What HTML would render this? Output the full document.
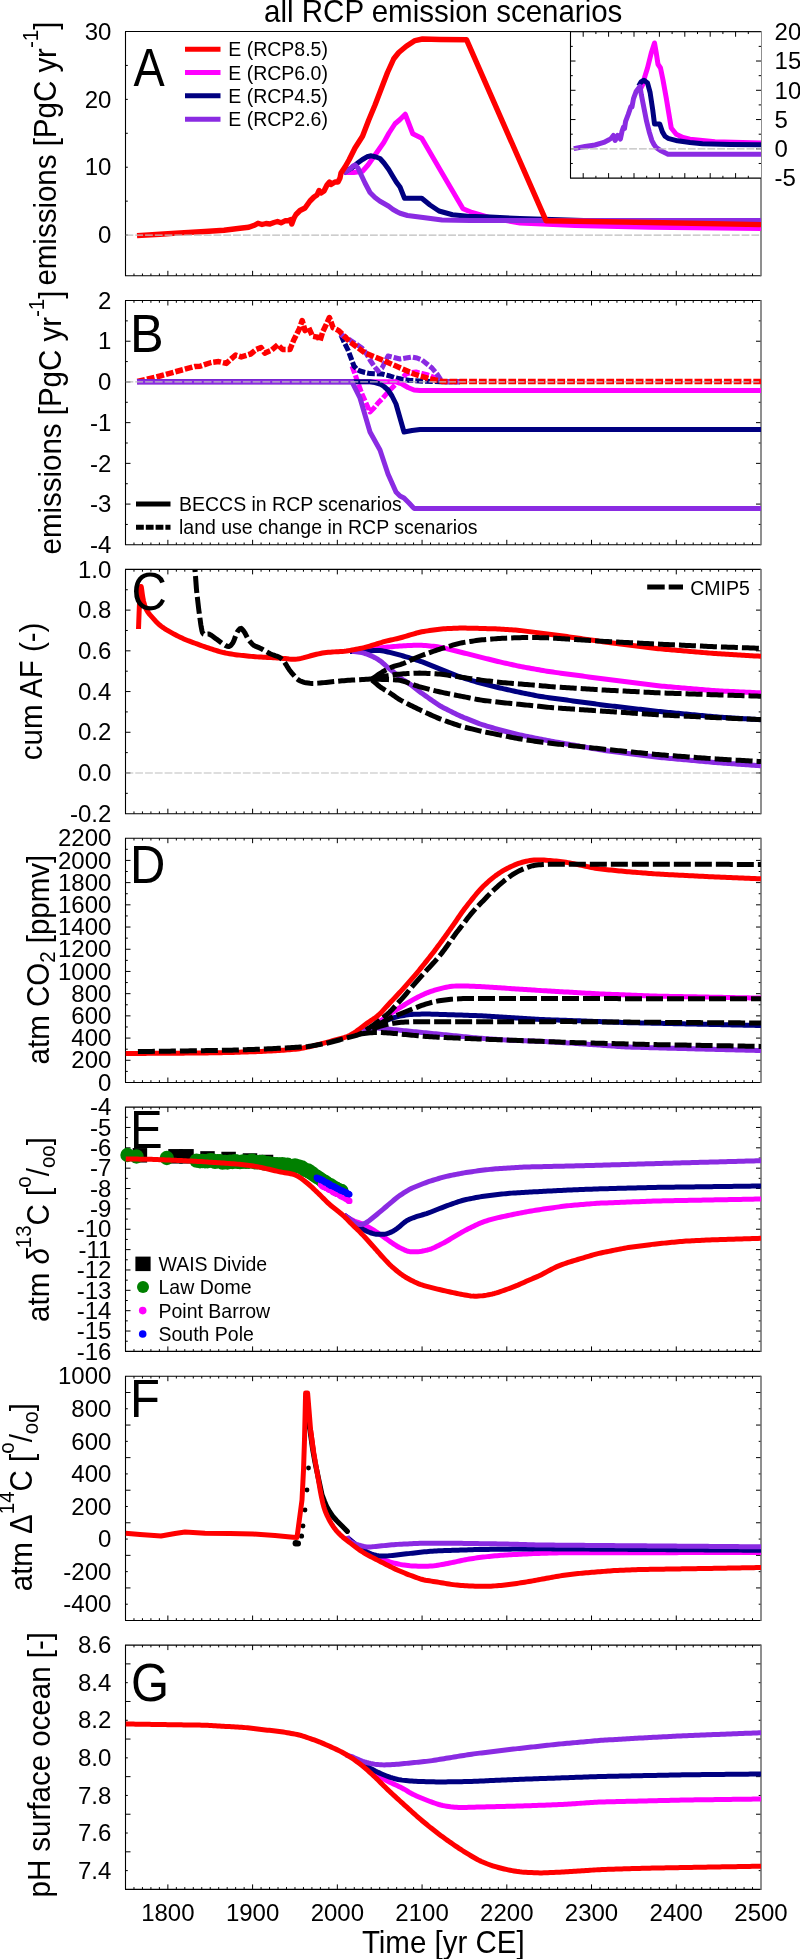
<!DOCTYPE html>
<html><head><meta charset="utf-8"><title>all RCP emission scenarios</title>
<style>html,body{margin:0;padding:0;background:#fff;width:800px;height:1959px;overflow:hidden}svg{display:block;font-family:"Liberation Sans",sans-serif;will-change:transform}</style>
</head><body>
<svg width="800" height="1959" viewBox="0 0 800 1959" font-family='"Liberation Sans", sans-serif'><defs><clipPath id="c0"><rect x="125.50" y="31.50" width="635.50" height="244.30"/></clipPath><clipPath id="c1"><rect x="125.50" y="300.50" width="635.50" height="244.30"/></clipPath><clipPath id="c2"><rect x="125.50" y="569.40" width="635.50" height="244.30"/></clipPath><clipPath id="c3"><rect x="125.50" y="838.20" width="635.50" height="244.30"/></clipPath><clipPath id="c4"><rect x="125.50" y="1107.10" width="635.50" height="244.30"/></clipPath><clipPath id="c5"><rect x="125.50" y="1376.20" width="635.50" height="244.30"/></clipPath><clipPath id="c6"><rect x="125.50" y="1645.10" width="635.50" height="244.30"/></clipPath><clipPath id="ci"><rect x="570.50" y="31.75" width="190.50" height="146.35"/></clipPath></defs><rect width="800" height="1959" fill="#fff"/><text transform="translate(443.25,21.70) scale(1,1.060)" x="0" y="0" font-size="29.5" text-anchor="middle">all RCP emission scenarios</text>
<path d="M133.97,275.80v-2.30M142.45,275.80v-2.30M150.92,275.80v-2.30M159.39,275.80v-2.30M167.87,275.80v-5.00M176.34,275.80v-2.30M184.81,275.80v-2.30M193.29,275.80v-2.30M201.76,275.80v-2.30M210.23,275.80v-2.30M218.71,275.80v-2.30M227.18,275.80v-2.30M235.65,275.80v-2.30M244.13,275.80v-2.30M252.60,275.80v-5.00M261.07,275.80v-2.30M269.55,275.80v-2.30M278.02,275.80v-2.30M286.49,275.80v-2.30M294.97,275.80v-2.30M303.44,275.80v-2.30M311.91,275.80v-2.30M320.39,275.80v-2.30M328.86,275.80v-2.30M337.33,275.80v-5.00M345.81,275.80v-2.30M354.28,275.80v-2.30M362.75,275.80v-2.30M371.23,275.80v-2.30M379.70,275.80v-2.30M388.17,275.80v-2.30M396.65,275.80v-2.30M405.12,275.80v-2.30M413.59,275.80v-2.30M422.07,275.80v-5.00M430.54,275.80v-2.30M439.01,275.80v-2.30M447.49,275.80v-2.30M455.96,275.80v-2.30M464.43,275.80v-2.30M472.91,275.80v-2.30M481.38,275.80v-2.30M489.85,275.80v-2.30M498.33,275.80v-2.30M506.80,275.80v-5.00M515.27,275.80v-2.30M523.75,275.80v-2.30M532.22,275.80v-2.30M540.69,275.80v-2.30M549.17,275.80v-2.30M557.64,275.80v-2.30M566.11,275.80v-2.30M574.59,275.80v-2.30M583.06,275.80v-2.30M591.53,275.80v-5.00M600.01,275.80v-2.30M608.48,275.80v-2.30M616.95,275.80v-2.30M625.43,275.80v-2.30M633.90,275.80v-2.30M642.37,275.80v-2.30M650.85,275.80v-2.30M659.32,275.80v-2.30M667.79,275.80v-2.30M676.27,275.80v-5.00M684.74,275.80v-2.30M693.21,275.80v-2.30M701.69,275.80v-2.30M710.16,275.80v-2.30M718.63,275.80v-2.30M727.11,275.80v-2.30M735.58,275.80v-2.30M744.05,275.80v-2.30M752.53,275.80v-2.30M125.50,65.43h2.30M125.50,99.36h2.30M125.50,133.29h2.30M125.50,167.22h2.30M125.50,201.15h2.30M125.50,235.08h2.30" stroke="#000" stroke-width="1" fill="none"/>

<path d="M125.00,31.50H761.00 M125.50,31.50V275.80 M125.00,275.80H761.00" stroke="#000" stroke-width="1.1" fill="none"/>
<path d="M761.00,31.00V276.30" stroke="#6a6a6a" stroke-width="1.5" fill="none"/>
<text x="111.40" y="39.70" font-size="24" text-anchor="end">30</text>
<text x="111.40" y="107.56" font-size="24" text-anchor="end">20</text>
<text x="111.40" y="175.42" font-size="24" text-anchor="end">10</text>
<text x="111.40" y="243.28" font-size="24" text-anchor="end">0</text>
<polyline points="343.75,172.50 353.75,172.50 362.50,171.25 368.00,165.00 375.00,155.00 383.75,142.50 389.00,133.00 395.00,123.75 400.00,119.50 405.25,114.25 412.75,133.75 421.75,138.25 442.00,173.00 463.00,208.75 472.00,212.50 490.00,217.75 520.00,223.00 575.00,225.60 650.00,227.20 761.00,228.60" fill="none" stroke="#ff00ff" stroke-width="5" stroke-linejoin="round" clip-path="url(#c0)"/>
<polyline points="343.75,173.00 348.00,170.00 352.50,167.50 357.00,163.50 362.50,159.50 367.00,156.80 371.25,155.80 376.00,157.00 380.00,158.50 384.00,163.00 388.75,169.50 392.00,175.00 396.25,182.00 400.00,187.00 404.50,198.25 421.75,198.25 430.00,205.00 439.00,211.00 452.50,214.75 467.50,216.25 490.00,217.00 520.00,218.50 600.00,221.00 761.00,223.00" fill="none" stroke="#000080" stroke-width="5" stroke-linejoin="round" clip-path="url(#c0)"/>
<polyline points="343.75,173.00 347.00,171.00 350.00,169.00 353.00,166.00 355.00,165.00 358.00,168.00 361.25,175.00 365.00,183.00 370.00,192.50 375.00,197.50 380.00,201.25 384.00,203.50 388.75,206.25 393.00,209.50 397.50,212.00 400.00,213.25 407.50,215.50 425.00,217.80 442.00,220.00 470.00,220.40 761.00,220.40" fill="none" stroke="#8a2be2" stroke-width="5" stroke-linejoin="round" clip-path="url(#c0)"/>
<polyline points="137.00,235.60 160.00,234.20 180.00,232.90 205.00,231.50 224.00,230.30 240.00,228.30 248.80,227.30 255.00,225.00 258.00,223.25 262.00,224.50 266.00,223.50 270.00,224.00 274.00,222.50 277.50,221.50 281.00,222.80 285.00,220.80 288.00,220.80 291.00,219.50 291.75,224.00 294.00,218.00 296.00,214.50 300.00,210.50 305.00,208.00 310.00,201.00 314.00,197.00 317.00,195.00 319.00,190.50 321.00,193.00 324.00,191.00 327.00,185.00 329.50,182.00 331.00,184.50 335.00,182.00 338.00,182.00 340.00,178.00 341.00,173.00 345.00,167.00 349.00,160.00 355.00,148.00 362.50,136.25 368.75,120.00 375.00,105.00 381.25,88.75 387.50,72.50 393.75,58.75 398.75,52.50 406.25,46.25 415.00,40.60 422.50,39.00 440.00,39.50 466.60,39.80 546.00,220.70 650.00,222.50 761.00,224.60" fill="none" stroke="#ff0000" stroke-width="5.4" stroke-linejoin="round" clip-path="url(#c0)"/>
<path d="M125.50,235.08H761.00" stroke="#bdbdbd" stroke-width="1.2" stroke-dasharray="7.78,2" stroke-dashoffset="0" clip-path="url(#c0)"/>
<text transform="translate(133.60,85.75) scale(0.955,1.085)" x="0" y="0" font-size="49">A</text>
<path d="M185,49.20H220.5" stroke="#ff0000" stroke-width="5"/>
<text transform="translate(228.30,56.40) scale(1,1.060)" x="0" y="0" font-size="19.5" text-anchor="start">E (RCP8.5)</text>
<path d="M185,72.53H220.5" stroke="#ff00ff" stroke-width="5"/>
<text transform="translate(228.30,79.73) scale(1,1.060)" x="0" y="0" font-size="19.5" text-anchor="start">E (RCP6.0)</text>
<path d="M185,95.86H220.5" stroke="#000080" stroke-width="5"/>
<text transform="translate(228.30,103.06) scale(1,1.060)" x="0" y="0" font-size="19.5" text-anchor="start">E (RCP4.5)</text>
<path d="M185,119.19H220.5" stroke="#8a2be2" stroke-width="5"/>
<text transform="translate(228.30,126.39) scale(1,1.060)" x="0" y="0" font-size="19.5" text-anchor="start">E (RCP2.6)</text>
<rect x="570.50" y="31.75" width="190.50" height="146.35" fill="#fff"/>
<path d="M583.20,178.10v-5.00M583.20,31.75v5.00M595.90,178.10v-2.30M595.90,31.75v2.30M608.60,178.10v-5.00M608.60,31.75v5.00M621.30,178.10v-2.30M621.30,31.75v2.30M634.00,178.10v-5.00M634.00,31.75v5.00M646.70,178.10v-2.30M646.70,31.75v2.30M659.40,178.10v-5.00M659.40,31.75v5.00M672.10,178.10v-2.30M672.10,31.75v2.30M684.80,178.10v-5.00M684.80,31.75v5.00M697.50,178.10v-2.30M697.50,31.75v2.30M710.20,178.10v-5.00M710.20,31.75v5.00M722.90,178.10v-2.30M722.90,31.75v2.30M735.60,178.10v-5.00M735.60,31.75v5.00M748.30,178.10v-2.30M748.30,31.75v2.30M570.50,46.38h2.30M761.00,46.38h-2.30M570.50,61.02h5.00M761.00,61.02h-5.00M570.50,75.66h2.30M761.00,75.66h-2.30M570.50,90.29h5.00M761.00,90.29h-5.00M570.50,104.92h2.30M761.00,104.92h-2.30M570.50,119.56h5.00M761.00,119.56h-5.00M570.50,134.19h2.30M761.00,134.19h-2.30M570.50,148.83h5.00M761.00,148.83h-5.00M570.50,163.47h2.30M761.00,163.47h-2.30" stroke="#000" stroke-width="1" fill="none"/>
<polyline points="640.00,90.00 642.50,85.00 645.00,76.00 647.50,68.00 651.25,53.00 654.50,43.00 656.25,53.00 658.00,64.25 660.50,68.00 663.00,80.00 666.25,98.00 671.25,128.00 676.25,134.25 683.00,137.50 690.00,139.25 715.00,141.75 761.00,143.00" fill="none" stroke="#ff00ff" stroke-width="5" stroke-linejoin="round" clip-path="url(#ci)"/>
<polyline points="638.75,86.00 641.00,82.00 644.00,80.25 647.50,82.90 650.10,92.50 652.75,110.00 654.50,124.00 659.75,124.00 662.40,131.90 665.00,136.25 668.00,138.30 677.50,140.80 690.00,142.50 702.50,143.75 730.00,144.50 761.00,144.75" fill="none" stroke="#000080" stroke-width="5" stroke-linejoin="round" clip-path="url(#ci)"/>
<polyline points="573.75,148.60 585.00,146.50 595.00,145.00 603.75,142.40 609.00,139.75 611.00,138.50 613.40,135.50 615.10,140.50 617.75,135.40 619.00,137.00 620.40,139.00 622.10,131.00 623.50,127.00 624.50,128.50 625.60,121.40 628.25,114.40 630.90,106.50 632.00,106.80 633.50,98.60 636.10,91.60 638.75,88.10 640.00,86.40 641.40,95.10 644.00,108.25 646.60,121.40 649.25,131.90 651.90,140.60 654.00,144.50 656.25,147.60 661.50,151.10 665.00,152.80 668.00,154.20 761.00,154.20" fill="none" stroke="#8a2be2" stroke-width="5" stroke-linejoin="round" clip-path="url(#ci)"/>
<path d="M570.50,148.83H761.00" stroke="#bdbdbd" stroke-width="1.2" stroke-dasharray="7.78,2" stroke-dashoffset="0" clip-path="url(#ci)"/>
<path d="M570.00,31.75H761.00 M570.50,31.75V178.10 M570.00,178.10H761.00" stroke="#000" stroke-width="1.1" fill="none"/>
<text x="774.60" y="40.05" font-size="24" text-anchor="start">20</text>
<text x="774.60" y="69.32" font-size="24" text-anchor="start">15</text>
<text x="774.60" y="98.59" font-size="24" text-anchor="start">10</text>
<text x="774.60" y="127.86" font-size="24" text-anchor="start">5</text>
<text x="774.60" y="157.13" font-size="24" text-anchor="start">0</text>
<text x="774.60" y="186.40" font-size="24" text-anchor="start">-5</text>
<text transform="translate(55.50,153.60) rotate(-90) scale(1,1.06)" x="0" y="0" font-size="29.5" text-anchor="middle">emissions [PgC yr<tspan dy="-16.3" font-size="20.5">-1</tspan><tspan dy="16.3">]</tspan></text>
<path d="M133.97,544.80v-2.30M133.97,300.50v2.30M142.45,544.80v-2.30M142.45,300.50v2.30M150.92,544.80v-2.30M150.92,300.50v2.30M159.39,544.80v-2.30M159.39,300.50v2.30M167.87,544.80v-5.00M167.87,300.50v5.00M176.34,544.80v-2.30M176.34,300.50v2.30M184.81,544.80v-2.30M184.81,300.50v2.30M193.29,544.80v-2.30M193.29,300.50v2.30M201.76,544.80v-2.30M201.76,300.50v2.30M210.23,544.80v-2.30M210.23,300.50v2.30M218.71,544.80v-2.30M218.71,300.50v2.30M227.18,544.80v-2.30M227.18,300.50v2.30M235.65,544.80v-2.30M235.65,300.50v2.30M244.13,544.80v-2.30M244.13,300.50v2.30M252.60,544.80v-5.00M252.60,300.50v5.00M261.07,544.80v-2.30M261.07,300.50v2.30M269.55,544.80v-2.30M269.55,300.50v2.30M278.02,544.80v-2.30M278.02,300.50v2.30M286.49,544.80v-2.30M286.49,300.50v2.30M294.97,544.80v-2.30M294.97,300.50v2.30M303.44,544.80v-2.30M303.44,300.50v2.30M311.91,544.80v-2.30M311.91,300.50v2.30M320.39,544.80v-2.30M320.39,300.50v2.30M328.86,544.80v-2.30M328.86,300.50v2.30M337.33,544.80v-5.00M337.33,300.50v5.00M345.81,544.80v-2.30M345.81,300.50v2.30M354.28,544.80v-2.30M354.28,300.50v2.30M362.75,544.80v-2.30M362.75,300.50v2.30M371.23,544.80v-2.30M371.23,300.50v2.30M379.70,544.80v-2.30M379.70,300.50v2.30M388.17,544.80v-2.30M388.17,300.50v2.30M396.65,544.80v-2.30M396.65,300.50v2.30M405.12,544.80v-2.30M405.12,300.50v2.30M413.59,544.80v-2.30M413.59,300.50v2.30M422.07,544.80v-5.00M422.07,300.50v5.00M430.54,544.80v-2.30M430.54,300.50v2.30M439.01,544.80v-2.30M439.01,300.50v2.30M447.49,544.80v-2.30M447.49,300.50v2.30M455.96,544.80v-2.30M455.96,300.50v2.30M464.43,544.80v-2.30M464.43,300.50v2.30M472.91,544.80v-2.30M472.91,300.50v2.30M481.38,544.80v-2.30M481.38,300.50v2.30M489.85,544.80v-2.30M489.85,300.50v2.30M498.33,544.80v-2.30M498.33,300.50v2.30M506.80,544.80v-5.00M506.80,300.50v5.00M515.27,544.80v-2.30M515.27,300.50v2.30M523.75,544.80v-2.30M523.75,300.50v2.30M532.22,544.80v-2.30M532.22,300.50v2.30M540.69,544.80v-2.30M540.69,300.50v2.30M549.17,544.80v-2.30M549.17,300.50v2.30M557.64,544.80v-2.30M557.64,300.50v2.30M566.11,544.80v-2.30M566.11,300.50v2.30M574.59,544.80v-2.30M574.59,300.50v2.30M583.06,544.80v-2.30M583.06,300.50v2.30M591.53,544.80v-5.00M591.53,300.50v5.00M600.01,544.80v-2.30M600.01,300.50v2.30M608.48,544.80v-2.30M608.48,300.50v2.30M616.95,544.80v-2.30M616.95,300.50v2.30M625.43,544.80v-2.30M625.43,300.50v2.30M633.90,544.80v-2.30M633.90,300.50v2.30M642.37,544.80v-2.30M642.37,300.50v2.30M650.85,544.80v-2.30M650.85,300.50v2.30M659.32,544.80v-2.30M659.32,300.50v2.30M667.79,544.80v-2.30M667.79,300.50v2.30M676.27,544.80v-5.00M676.27,300.50v5.00M684.74,544.80v-2.30M684.74,300.50v2.30M693.21,544.80v-2.30M693.21,300.50v2.30M701.69,544.80v-2.30M701.69,300.50v2.30M710.16,544.80v-2.30M710.16,300.50v2.30M718.63,544.80v-2.30M718.63,300.50v2.30M727.11,544.80v-2.30M727.11,300.50v2.30M735.58,544.80v-2.30M735.58,300.50v2.30M744.05,544.80v-2.30M744.05,300.50v2.30M752.53,544.80v-2.30M752.53,300.50v2.30M125.50,320.86h2.30M761.00,320.86h-2.30M125.50,341.22h5.00M761.00,341.22h-5.00M125.50,361.57h2.30M761.00,361.57h-2.30M125.50,381.93h5.00M761.00,381.93h-5.00M125.50,402.29h2.30M761.00,402.29h-2.30M125.50,422.65h5.00M761.00,422.65h-5.00M125.50,443.01h2.30M761.00,443.01h-2.30M125.50,463.37h5.00M761.00,463.37h-5.00M125.50,483.73h2.30M761.00,483.73h-2.30M125.50,504.08h5.00M761.00,504.08h-5.00M125.50,524.44h2.30M761.00,524.44h-2.30" stroke="#000" stroke-width="1" fill="none"/>

<path d="M125.00,300.50H761.00 M125.50,300.50V544.80 M125.00,544.80H761.00" stroke="#000" stroke-width="1.1" fill="none"/>
<path d="M761.00,300.00V545.30" stroke="#6a6a6a" stroke-width="1.5" fill="none"/>
<text x="111.40" y="308.70" font-size="24" text-anchor="end">2</text>
<text x="111.40" y="349.42" font-size="24" text-anchor="end">1</text>
<text x="111.40" y="390.13" font-size="24" text-anchor="end">0</text>
<text x="111.40" y="430.85" font-size="24" text-anchor="end">-1</text>
<text x="111.40" y="471.57" font-size="24" text-anchor="end">-2</text>
<text x="111.40" y="512.28" font-size="24" text-anchor="end">-3</text>
<text x="111.40" y="553.00" font-size="24" text-anchor="end">-4</text>
<polyline points="352.00,366.00 355.00,374.00 358.00,383.00 362.00,394.00 366.00,403.00 370.00,412.00 374.00,408.00 378.00,403.00 383.00,398.00 388.00,392.00 393.00,387.00 398.00,382.00 402.00,378.00 406.00,374.00 411.00,372.50 416.00,372.00 422.00,373.50 428.00,375.00 433.00,377.00 438.00,380.00 442.00,381.80 460.00,381.80" fill="none" stroke="#ff00ff" stroke-width="5" stroke-linejoin="round" stroke-dasharray="7.8,2" clip-path="url(#c1)"/>
<polyline points="341.00,335.00 344.00,342.00 348.00,350.00 351.00,358.00 354.00,366.00 357.00,369.50 360.00,371.00 365.00,372.50 370.00,373.60 382.00,374.00 390.00,376.00 396.00,378.00 403.00,379.50 410.00,380.40 424.00,381.20 440.00,381.80 460.00,381.80" fill="none" stroke="#000080" stroke-width="5" stroke-linejoin="round" stroke-dasharray="7.8,2" clip-path="url(#c1)"/>
<polyline points="340.00,334.00 345.00,337.00 350.00,340.00 356.00,344.00 362.00,348.00 366.00,353.00 370.00,360.00 374.00,366.00 378.00,371.00 382.00,368.00 385.00,362.00 388.00,356.00 394.00,357.50 400.00,359.00 406.00,358.00 412.00,357.00 417.00,358.00 422.00,360.00 427.00,364.00 432.00,368.00 437.00,374.00 441.00,380.00 444.00,381.80 460.00,381.80" fill="none" stroke="#8a2be2" stroke-width="5" stroke-linejoin="round" stroke-dasharray="7.8,2" clip-path="url(#c1)"/>
<polyline points="137.40,381.50 160.00,376.00 180.00,370.50 195.00,366.50 200.00,366.25 211.25,362.50 218.75,361.60 226.25,363.40 235.60,355.00 241.25,356.90 250.60,354.00 256.25,349.40 261.00,347.50 264.70,353.10 271.25,350.30 277.80,344.70 282.50,349.40 290.00,349.40 293.75,340.00 299.40,328.75 302.20,320.50 305.00,330.60 308.75,327.80 312.50,336.25 318.10,337.20 320.00,341.00 322.80,331.60 326.00,325.00 329.40,317.50 333.10,327.80 338.75,330.60 344.40,336.25 350.00,341.90 365.00,353.00 380.00,359.00 396.00,366.00 414.00,374.00 430.00,379.00 442.00,381.40 761.00,381.60" fill="none" stroke="#ff0000" stroke-width="5.5" stroke-linejoin="round" stroke-dasharray="7.8,2" clip-path="url(#c1)"/>
<polyline points="137.00,381.80 396.00,381.80 402.00,384.00 408.00,387.50 414.00,390.00 420.00,390.60 761.00,390.60" fill="none" stroke="#ff00ff" stroke-width="5" stroke-linejoin="round" clip-path="url(#c1)"/>
<polyline points="137.00,381.80 370.00,381.80 375.00,382.50 380.00,384.00 384.00,386.50 388.00,390.00 392.00,396.00 396.00,404.00 400.00,418.00 404.00,432.00 412.00,430.50 420.00,429.60 761.00,429.60" fill="none" stroke="#000080" stroke-width="5" stroke-linejoin="round" clip-path="url(#c1)"/>
<polyline points="137.00,381.80 352.00,381.80 356.00,390.00 360.00,398.00 365.00,415.00 370.00,432.00 375.00,441.00 380.00,450.00 384.00,462.00 388.00,474.00 392.00,483.00 396.00,492.00 400.00,496.00 404.00,498.00 409.00,503.00 414.00,508.40 761.00,508.40" fill="none" stroke="#8a2be2" stroke-width="5" stroke-linejoin="round" clip-path="url(#c1)"/>
<path d="M125.50,381.93H761.00" stroke="#bdbdbd" stroke-width="1.2" stroke-dasharray="7.78,2" stroke-dashoffset="0" clip-path="url(#c1)"/>
<text transform="translate(130.00,351.60) scale(1.030,1.085)" x="0" y="0" font-size="49">B</text>
<path d="M136,503.9H170.5" stroke="#000" stroke-width="5"/>
<path d="M136,527.3H170.5" stroke="#000" stroke-width="5" stroke-dasharray="7.8,2"/>
<text transform="translate(179.00,510.50) scale(1,1.060)" x="0" y="0" font-size="19.5" text-anchor="start">BECCS in RCP scenarios</text>
<text transform="translate(179.00,533.90) scale(1,1.060)" x="0" y="0" font-size="19.5" text-anchor="start">land use change in RCP scenarios</text>
<text transform="translate(60.90,422.50) rotate(-90) scale(1,1.06)" x="0" y="0" font-size="29.5" text-anchor="middle">emissions [PgC yr<tspan dy="-16.3" font-size="20.5">-1</tspan><tspan dy="16.3">]</tspan></text>
<path d="M133.97,813.70v-2.30M133.97,569.40v2.30M142.45,813.70v-2.30M142.45,569.40v2.30M150.92,813.70v-2.30M150.92,569.40v2.30M159.39,813.70v-2.30M159.39,569.40v2.30M167.87,813.70v-5.00M167.87,569.40v5.00M176.34,813.70v-2.30M176.34,569.40v2.30M184.81,813.70v-2.30M184.81,569.40v2.30M193.29,813.70v-2.30M193.29,569.40v2.30M201.76,813.70v-2.30M201.76,569.40v2.30M210.23,813.70v-2.30M210.23,569.40v2.30M218.71,813.70v-2.30M218.71,569.40v2.30M227.18,813.70v-2.30M227.18,569.40v2.30M235.65,813.70v-2.30M235.65,569.40v2.30M244.13,813.70v-2.30M244.13,569.40v2.30M252.60,813.70v-5.00M252.60,569.40v5.00M261.07,813.70v-2.30M261.07,569.40v2.30M269.55,813.70v-2.30M269.55,569.40v2.30M278.02,813.70v-2.30M278.02,569.40v2.30M286.49,813.70v-2.30M286.49,569.40v2.30M294.97,813.70v-2.30M294.97,569.40v2.30M303.44,813.70v-2.30M303.44,569.40v2.30M311.91,813.70v-2.30M311.91,569.40v2.30M320.39,813.70v-2.30M320.39,569.40v2.30M328.86,813.70v-2.30M328.86,569.40v2.30M337.33,813.70v-5.00M337.33,569.40v5.00M345.81,813.70v-2.30M345.81,569.40v2.30M354.28,813.70v-2.30M354.28,569.40v2.30M362.75,813.70v-2.30M362.75,569.40v2.30M371.23,813.70v-2.30M371.23,569.40v2.30M379.70,813.70v-2.30M379.70,569.40v2.30M388.17,813.70v-2.30M388.17,569.40v2.30M396.65,813.70v-2.30M396.65,569.40v2.30M405.12,813.70v-2.30M405.12,569.40v2.30M413.59,813.70v-2.30M413.59,569.40v2.30M422.07,813.70v-5.00M422.07,569.40v5.00M430.54,813.70v-2.30M430.54,569.40v2.30M439.01,813.70v-2.30M439.01,569.40v2.30M447.49,813.70v-2.30M447.49,569.40v2.30M455.96,813.70v-2.30M455.96,569.40v2.30M464.43,813.70v-2.30M464.43,569.40v2.30M472.91,813.70v-2.30M472.91,569.40v2.30M481.38,813.70v-2.30M481.38,569.40v2.30M489.85,813.70v-2.30M489.85,569.40v2.30M498.33,813.70v-2.30M498.33,569.40v2.30M506.80,813.70v-5.00M506.80,569.40v5.00M515.27,813.70v-2.30M515.27,569.40v2.30M523.75,813.70v-2.30M523.75,569.40v2.30M532.22,813.70v-2.30M532.22,569.40v2.30M540.69,813.70v-2.30M540.69,569.40v2.30M549.17,813.70v-2.30M549.17,569.40v2.30M557.64,813.70v-2.30M557.64,569.40v2.30M566.11,813.70v-2.30M566.11,569.40v2.30M574.59,813.70v-2.30M574.59,569.40v2.30M583.06,813.70v-2.30M583.06,569.40v2.30M591.53,813.70v-5.00M591.53,569.40v5.00M600.01,813.70v-2.30M600.01,569.40v2.30M608.48,813.70v-2.30M608.48,569.40v2.30M616.95,813.70v-2.30M616.95,569.40v2.30M625.43,813.70v-2.30M625.43,569.40v2.30M633.90,813.70v-2.30M633.90,569.40v2.30M642.37,813.70v-2.30M642.37,569.40v2.30M650.85,813.70v-2.30M650.85,569.40v2.30M659.32,813.70v-2.30M659.32,569.40v2.30M667.79,813.70v-2.30M667.79,569.40v2.30M676.27,813.70v-5.00M676.27,569.40v5.00M684.74,813.70v-2.30M684.74,569.40v2.30M693.21,813.70v-2.30M693.21,569.40v2.30M701.69,813.70v-2.30M701.69,569.40v2.30M710.16,813.70v-2.30M710.16,569.40v2.30M718.63,813.70v-2.30M718.63,569.40v2.30M727.11,813.70v-2.30M727.11,569.40v2.30M735.58,813.70v-2.30M735.58,569.40v2.30M744.05,813.70v-2.30M744.05,569.40v2.30M752.53,813.70v-2.30M752.53,569.40v2.30M125.50,589.76h2.30M761.00,589.76h-2.30M125.50,610.12h5.00M761.00,610.12h-5.00M125.50,630.48h2.30M761.00,630.48h-2.30M125.50,650.83h5.00M761.00,650.83h-5.00M125.50,671.19h2.30M761.00,671.19h-2.30M125.50,691.55h5.00M761.00,691.55h-5.00M125.50,711.91h2.30M761.00,711.91h-2.30M125.50,732.27h5.00M761.00,732.27h-5.00M125.50,752.62h2.30M761.00,752.62h-2.30M125.50,772.98h5.00M761.00,772.98h-5.00M125.50,793.34h2.30M761.00,793.34h-2.30" stroke="#000" stroke-width="1" fill="none"/>

<path d="M125.00,569.40H761.00 M125.50,569.40V813.70 M125.00,813.70H761.00" stroke="#000" stroke-width="1.1" fill="none"/>
<path d="M761.00,568.90V814.20" stroke="#6a6a6a" stroke-width="1.5" fill="none"/>
<text x="111.40" y="577.60" font-size="24" text-anchor="end">1.0</text>
<text x="111.40" y="618.32" font-size="24" text-anchor="end">0.8</text>
<text x="111.40" y="659.03" font-size="24" text-anchor="end">0.6</text>
<text x="111.40" y="699.75" font-size="24" text-anchor="end">0.4</text>
<text x="111.40" y="740.47" font-size="24" text-anchor="end">0.2</text>
<text x="111.40" y="781.18" font-size="24" text-anchor="end">0.0</text>
<text x="111.40" y="821.90" font-size="24" text-anchor="end">-0.2</text>
<polyline points="350.00,651.50 352.00,651.44 354.00,651.38 356.00,651.31 358.00,651.22 360.00,651.09 361.99,650.92 363.98,650.71 365.97,650.47 367.95,650.21 369.93,649.92 371.91,649.58 373.87,649.22 375.84,648.83 377.80,648.45 379.77,648.08 381.74,647.75 383.72,647.47 385.71,647.25 387.70,647.06 389.70,646.88 391.69,646.71 393.69,646.54 395.68,646.37 397.68,646.21 399.67,646.06 401.67,645.94 403.67,645.82 405.67,645.72 407.67,645.62 409.67,645.52 411.67,645.42 413.67,645.32 415.67,645.23 417.67,645.17 419.66,645.17 421.66,645.25 423.65,645.39 425.65,645.57 427.64,645.76 429.63,645.96 431.62,646.16 433.62,646.36 435.61,646.57 437.59,646.81 439.57,647.10 441.53,647.47 443.48,647.90 445.43,648.36 447.37,648.84 449.32,649.33 451.26,649.81 453.20,650.30 455.14,650.79 457.09,651.27 459.03,651.76 460.97,652.24 462.91,652.73 464.86,653.21 466.80,653.70 468.74,654.19 470.68,654.67 472.63,655.16 474.57,655.64 476.51,656.13 478.45,656.61 480.40,657.10 482.34,657.58 484.28,658.07 486.23,658.56 488.17,659.04 490.11,659.53 492.05,660.01 494.00,660.50 495.94,660.98 497.88,661.46 499.83,661.93 501.78,662.38 503.73,662.82 505.69,663.25 507.64,663.68 509.60,664.11 511.55,664.54 513.51,664.97 515.47,665.40 517.42,665.82 519.38,666.23 521.35,666.62 523.32,666.99 525.28,667.35 527.26,667.71 529.23,668.06 531.20,668.42 533.17,668.77 535.14,669.12 537.11,669.48 539.08,669.83 541.05,670.17 543.03,670.51 545.00,670.85 546.97,671.18 548.95,671.50 550.93,671.80 552.91,672.08 554.90,672.36 556.88,672.63 558.86,672.89 560.85,673.16 562.83,673.43 564.82,673.69 566.80,673.96 568.79,674.23 570.77,674.49 572.76,674.76 574.74,675.03 576.72,675.30 578.71,675.56 580.69,675.83 582.68,676.10 584.66,676.36 586.65,676.63 588.63,676.90 590.62,677.16 592.60,677.43 594.58,677.70 596.57,677.97 598.55,678.23 600.54,678.50 602.52,678.76 604.51,679.03 606.49,679.28 608.48,679.53 610.47,679.79 612.45,680.03 614.44,680.28 616.43,680.53 618.41,680.78 620.40,681.03 622.39,681.28 624.37,681.53 626.36,681.78 628.35,682.03 630.33,682.28 632.32,682.53 634.31,682.78 636.29,683.03 638.28,683.28 640.27,683.52 642.25,683.77 644.24,684.02 646.23,684.27 648.21,684.52 650.20,684.77 652.19,685.02 654.17,685.27 656.16,685.51 658.15,685.75 660.14,685.97 662.13,686.17 664.13,686.35 666.12,686.52 668.12,686.69 670.11,686.86 672.11,687.03 674.10,687.20 676.10,687.38 678.09,687.55 680.09,687.72 682.08,687.89 684.08,688.06 686.07,688.23 688.07,688.40 690.06,688.57 692.06,688.74 694.05,688.91 696.05,689.08 698.04,689.25 700.04,689.42 702.03,689.59 704.03,689.76 706.02,689.93 708.02,690.10 710.01,690.27 712.01,690.44 714.00,690.59 716.00,690.72 718.00,690.83 720.00,690.94 722.00,691.03 724.00,691.13 726.00,691.23 728.00,691.32 730.00,691.42 732.00,691.51 734.00,691.61 736.00,691.70 738.00,691.80 740.00,691.90 742.00,691.99 744.00,692.09 746.00,692.18 748.00,692.28 750.00,692.37 752.00,692.47 754.00,692.57 756.00,692.66 758.00,692.76 760.00,692.85 761.00,692.90" fill="none" stroke="#ff00ff" stroke-width="5" stroke-linejoin="round" clip-path="url(#c2)"/>
<polyline points="350.00,651.50 352.00,651.50 354.00,651.50 356.00,651.49 358.00,651.48 360.01,651.44 362.01,651.38 364.00,651.29 366.00,651.19 368.00,651.06 369.99,650.90 371.98,650.71 373.97,650.51 375.95,650.38 377.93,650.38 379.90,650.53 381.87,650.81 383.84,651.15 385.80,651.54 387.75,651.97 389.70,652.44 391.64,652.91 393.59,653.40 395.53,653.89 397.47,654.38 399.40,654.89 401.33,655.43 403.25,655.98 405.17,656.55 407.09,657.13 409.00,657.70 410.92,658.28 412.84,658.85 414.75,659.43 416.67,660.02 418.57,660.63 420.46,661.28 422.34,661.97 424.20,662.69 426.06,663.43 427.92,664.17 429.78,664.91 431.64,665.66 433.50,666.40 435.35,667.14 437.21,667.89 439.07,668.63 440.93,669.37 442.79,670.11 444.65,670.86 446.50,671.60 448.36,672.34 450.22,673.09 452.08,673.83 453.94,674.57 455.80,675.31 457.66,676.03 459.54,676.72 461.43,677.37 463.34,677.98 465.25,678.57 467.16,679.15 469.08,679.72 471.00,680.30 472.91,680.87 474.83,681.45 476.75,682.02 478.67,682.57 480.60,683.11 482.54,683.62 484.47,684.11 486.41,684.60 488.36,685.09 490.30,685.57 492.24,686.06 494.18,686.54 496.12,687.03 498.07,687.50 500.01,687.97 501.96,688.42 503.92,688.86 505.87,689.29 507.82,689.72 509.78,690.15 511.73,690.58 513.69,691.01 515.64,691.44 517.60,691.86 519.56,692.28 521.51,692.69 523.48,693.09 525.44,693.49 527.40,693.88 529.36,694.27 531.32,694.66 533.29,695.06 535.25,695.45 537.21,695.83 539.18,696.19 541.16,696.52 543.13,696.83 545.11,697.11 547.09,697.39 549.08,697.67 551.06,697.94 553.04,698.21 555.03,698.48 557.01,698.75 558.99,699.02 560.98,699.29 562.96,699.56 564.94,699.82 566.92,700.09 568.91,700.36 570.89,700.63 572.87,700.90 574.86,701.17 576.84,701.44 578.82,701.70 580.81,701.97 582.79,702.24 584.77,702.51 586.76,702.78 588.74,703.05 590.72,703.32 592.71,703.58 594.69,703.85 596.67,704.12 598.66,704.39 600.64,704.66 602.62,704.92 604.61,705.18 606.59,705.42 608.58,705.66 610.57,705.89 612.56,706.12 614.55,706.35 616.53,706.58 618.52,706.81 620.51,707.04 622.50,707.27 624.49,707.50 626.47,707.73 628.46,707.96 630.45,708.19 632.44,708.42 634.43,708.65 636.42,708.88 638.40,709.11 640.39,709.34 642.38,709.57 644.37,709.80 646.36,710.02 648.34,710.25 650.33,710.48 652.32,710.71 654.31,710.94 656.30,711.17 658.29,711.39 660.28,711.60 662.27,711.81 664.26,712.00 666.25,712.19 668.24,712.38 670.24,712.57 672.23,712.76 674.22,712.94 676.21,713.13 678.21,713.32 680.20,713.51 682.19,713.70 684.18,713.89 686.18,714.07 688.17,714.26 690.16,714.45 692.15,714.64 694.15,714.83 696.14,715.02 698.13,715.21 700.12,715.39 702.12,715.58 704.11,715.77 706.10,715.96 708.09,716.15 710.09,716.33 712.08,716.52 714.07,716.69 716.07,716.85 718.06,716.99 720.06,717.13 722.06,717.26 724.05,717.39 726.05,717.52 728.05,717.65 730.04,717.78 732.04,717.91 734.04,718.04 736.04,718.17 738.03,718.30 740.03,718.43 742.03,718.56 744.02,718.69 746.02,718.82 748.02,718.95 750.02,719.08 752.01,719.21 754.01,719.34 756.01,719.47 758.00,719.60 760.00,719.73 761.00,719.80" fill="none" stroke="#000080" stroke-width="5" stroke-linejoin="round" clip-path="url(#c2)"/>
<polyline points="352.00,651.50 354.00,651.63 356.00,651.78 357.99,651.97 359.96,652.25 361.91,652.65 363.84,653.15 365.75,653.74 367.64,654.41 369.50,655.14 371.34,655.93 373.15,656.77 374.93,657.68 376.67,658.66 378.37,659.72 380.03,660.83 381.62,662.03 383.15,663.31 384.63,664.65 386.10,666.01 387.59,667.34 389.13,668.61 390.71,669.84 392.30,671.05 393.87,672.29 395.40,673.58 396.89,674.92 398.37,676.26 399.89,677.54 401.48,678.73 403.14,679.84 404.84,680.90 406.55,681.95 408.24,683.01 409.90,684.13 411.53,685.30 413.12,686.51 414.69,687.75 416.26,689.00 417.83,690.24 419.42,691.47 421.02,692.66 422.65,693.84 424.28,695.00 425.92,696.15 427.57,697.30 429.21,698.45 430.85,699.60 432.49,700.75 434.14,701.89 435.78,703.04 437.44,704.17 439.11,705.25 440.83,706.28 442.58,707.25 444.36,708.17 446.15,709.07 447.94,709.97 449.73,710.87 451.53,711.76 453.32,712.66 455.11,713.55 456.91,714.44 458.72,715.30 460.54,716.13 462.38,716.92 464.23,717.69 466.09,718.44 467.95,719.18 469.81,719.93 471.68,720.67 473.54,721.41 475.40,722.15 477.27,722.88 479.14,723.58 481.03,724.24 482.94,724.86 484.85,725.45 486.77,726.03 488.69,726.61 490.61,727.18 492.53,727.76 494.45,728.33 496.37,728.91 498.30,729.47 500.23,730.01 502.17,730.52 504.11,731.02 506.05,731.51 507.99,732.00 509.94,732.48 511.88,732.97 513.83,733.46 515.77,733.94 517.72,734.41 519.67,734.87 521.63,735.30 523.59,735.71 525.56,736.11 527.52,736.50 529.49,736.90 531.45,737.29 533.42,737.68 535.38,738.08 537.35,738.47 539.31,738.86 541.28,739.26 543.25,739.65 545.21,740.04 547.18,740.43 549.15,740.81 551.12,741.18 553.09,741.53 555.06,741.88 557.04,742.23 559.01,742.57 560.99,742.92 562.96,743.26 564.94,743.61 566.91,743.95 568.89,744.30 570.86,744.64 572.83,744.99 574.81,745.33 576.78,745.68 578.76,746.02 580.73,746.36 582.71,746.71 584.68,747.05 586.66,747.40 588.63,747.74 590.61,748.09 592.58,748.43 594.56,748.78 596.53,749.12 598.51,749.47 600.48,749.81 602.46,750.14 604.44,750.46 606.42,750.75 608.40,751.02 610.39,751.27 612.38,751.53 614.37,751.78 616.36,752.03 618.35,752.27 620.34,752.52 622.33,752.77 624.31,753.02 626.30,753.27 628.29,753.52 630.28,753.77 632.27,754.02 634.26,754.27 636.25,754.52 638.24,754.77 640.23,755.02 642.22,755.27 644.20,755.52 646.19,755.77 648.18,756.02 650.17,756.27 652.16,756.52 654.15,756.77 656.14,757.01 658.13,757.25 660.12,757.47 662.11,757.68 664.11,757.87 666.10,758.05 668.10,758.24 670.10,758.42 672.09,758.60 674.09,758.78 676.09,758.96 678.08,759.14 680.08,759.33 682.08,759.51 684.07,759.69 686.07,759.87 688.06,760.05 690.06,760.23 692.06,760.41 694.05,760.60 696.05,760.78 698.05,760.96 700.04,761.14 702.04,761.32 704.03,761.50 706.03,761.68 708.03,761.87 710.02,762.05 712.02,762.22 714.02,762.40 716.01,762.56 718.01,762.71 720.01,762.86 722.01,763.00 724.01,763.15 726.01,763.29 728.01,763.43 730.01,763.58 732.01,763.72 734.01,763.86 736.01,764.01 738.01,764.15 740.01,764.29 742.01,764.44 744.01,764.58 746.00,764.72 748.00,764.87 750.00,765.01 752.00,765.15 754.00,765.30 756.00,765.44 758.00,765.58 760.00,765.73 761.00,765.80" fill="none" stroke="#8a2be2" stroke-width="5" stroke-linejoin="round" clip-path="url(#c2)"/>
<polyline points="138.50,629.00 138.57,627.00 138.65,625.00 138.72,623.00 138.79,621.00 138.87,619.01 138.94,617.01 139.02,615.01 139.09,613.01 139.17,611.01 139.25,609.01 139.33,607.01 139.42,605.01 139.51,603.02 139.60,601.02 139.69,599.02 139.78,597.02 139.88,595.02 140.01,593.03 140.18,591.05 140.39,589.15 140.62,587.51 140.87,586.51 141.11,586.46 141.36,587.40 141.61,588.99 141.86,590.88 142.12,592.84 142.40,594.82 142.72,596.80 143.07,598.76 143.46,600.73 143.89,602.67 144.39,604.60 145.01,606.48 145.77,608.31 146.64,610.09 147.65,611.80 148.78,613.41 150.05,614.94 151.39,616.41 152.74,617.87 154.08,619.36 155.40,620.86 156.74,622.33 158.15,623.73 159.65,625.03 161.22,626.25 162.84,627.41 164.50,628.53 166.18,629.60 167.90,630.63 169.63,631.63 171.37,632.61 173.12,633.57 174.88,634.52 176.65,635.46 178.43,636.37 180.22,637.25 182.04,638.10 183.86,638.91 185.70,639.69 187.55,640.45 189.42,641.18 191.29,641.88 193.16,642.58 195.04,643.26 196.92,643.95 198.80,644.64 200.68,645.32 202.57,645.99 204.46,646.64 206.35,647.28 208.25,647.92 210.14,648.55 212.04,649.18 213.94,649.80 215.85,650.42 217.76,651.00 219.68,651.55 221.61,652.07 223.55,652.56 225.50,653.00 227.46,653.39 229.43,653.75 231.40,654.07 233.38,654.37 235.36,654.65 237.34,654.90 239.33,655.14 241.31,655.36 243.30,655.57 245.29,655.78 247.28,655.98 249.27,656.18 251.26,656.37 253.26,656.56 255.25,656.72 257.24,656.87 259.24,657.00 261.24,657.11 263.23,657.21 265.23,657.31 267.23,657.40 269.23,657.49 271.22,657.60 273.22,657.72 275.22,657.85 277.21,657.98 279.21,658.12 281.20,658.26 283.20,658.42 285.19,658.60 287.18,658.81 289.16,659.01 291.15,659.16 293.15,659.23 295.14,659.19 297.12,659.04 299.09,658.77 301.05,658.39 302.99,657.92 304.92,657.40 306.84,656.86 308.77,656.31 310.69,655.76 312.61,655.22 314.55,654.72 316.49,654.25 318.45,653.83 320.41,653.43 322.37,653.07 324.34,652.75 326.32,652.49 328.31,652.29 330.30,652.14 332.30,652.00 334.29,651.87 336.29,651.75 338.29,651.64 340.28,651.53 342.28,651.40 344.27,651.23 346.25,650.99 348.23,650.69 350.20,650.36 352.16,650.00 354.13,649.64 356.10,649.27 358.06,648.88 360.02,648.49 361.98,648.08 363.93,647.65 365.87,647.16 367.80,646.64 369.72,646.08 371.63,645.51 373.55,644.93 375.46,644.34 377.37,643.74 379.27,643.13 381.18,642.53 383.09,641.95 385.02,641.41 386.95,640.91 388.90,640.45 390.85,640.02 392.80,639.58 394.76,639.15 396.71,638.71 398.65,638.25 400.59,637.75 402.51,637.22 404.44,636.66 406.35,636.09 408.27,635.52 410.18,634.94 412.10,634.37 414.02,633.80 415.94,633.23 417.86,632.70 419.80,632.22 421.75,631.81 423.72,631.46 425.69,631.15 427.67,630.85 429.65,630.55 431.63,630.26 433.60,629.96 435.58,629.67 437.56,629.40 439.55,629.17 441.54,628.98 443.53,628.84 445.53,628.73 447.53,628.62 449.52,628.52 451.52,628.42 453.52,628.33 455.52,628.23 457.51,628.15 459.51,628.09 461.51,628.07 463.51,628.08 465.51,628.11 467.51,628.15 469.51,628.19 471.51,628.23 473.51,628.27 475.51,628.31 477.51,628.35 479.51,628.40 481.51,628.45 483.51,628.51 485.51,628.57 487.51,628.63 489.51,628.69 491.51,628.75 493.51,628.81 495.51,628.87 497.51,628.94 499.50,629.02 501.50,629.13 503.50,629.25 505.49,629.39 507.49,629.52 509.48,629.66 511.48,629.80 513.47,629.94 515.47,630.09 517.46,630.24 519.46,630.42 521.44,630.62 523.43,630.86 525.41,631.11 527.40,631.36 529.38,631.62 531.37,631.88 533.35,632.14 535.33,632.39 537.32,632.65 539.30,632.91 541.28,633.17 543.27,633.42 545.25,633.68 547.23,633.94 549.22,634.20 551.20,634.46 553.19,634.71 555.17,634.97 557.15,635.23 559.14,635.50 561.12,635.77 563.10,636.04 565.08,636.32 567.06,636.60 569.04,636.89 571.02,637.17 573.00,637.45 574.98,637.73 576.96,638.01 578.94,638.29 580.92,638.58 582.90,638.86 584.88,639.14 586.86,639.42 588.84,639.70 590.82,639.98 592.80,640.27 594.79,640.55 596.77,640.83 598.75,641.11 600.73,641.39 602.71,641.67 604.69,641.94 606.67,642.20 608.66,642.46 610.64,642.71 612.63,642.96 614.61,643.21 616.60,643.45 618.58,643.70 620.56,643.95 622.55,644.20 624.53,644.45 626.52,644.70 628.50,644.95 630.49,645.20 632.47,645.45 634.46,645.70 636.44,645.94 638.43,646.19 640.41,646.44 642.40,646.69 644.38,646.94 646.37,647.19 648.35,647.44 650.34,647.69 652.32,647.94 654.31,648.18 656.29,648.43 658.28,648.66 660.27,648.88 662.26,649.08 664.25,649.26 666.24,649.43 668.23,649.60 670.23,649.76 672.22,649.93 674.21,650.10 676.21,650.27 678.20,650.44 680.19,650.61 682.19,650.78 684.18,650.94 686.17,651.11 688.17,651.28 690.16,651.45 692.15,651.62 694.15,651.79 696.14,651.96 698.13,652.12 700.13,652.29 702.12,652.46 704.11,652.63 706.10,652.80 708.10,652.97 710.09,653.13 712.09,653.30 714.08,653.45 716.07,653.60 718.07,653.73 720.07,653.85 722.06,653.97 724.06,654.09 726.06,654.21 728.05,654.33 730.05,654.45 732.05,654.57 734.04,654.69 736.04,654.81 738.04,654.93 740.03,655.05 742.03,655.17 744.03,655.29 746.02,655.40 748.02,655.52 750.02,655.64 752.01,655.76 754.01,655.88 756.01,656.00 758.00,656.12 760.00,656.24 761.00,656.30" fill="none" stroke="#ff0000" stroke-width="5" stroke-linejoin="round" clip-path="url(#c2)"/>
<polyline points="194.50,555.00 194.57,557.00 194.64,559.01 194.71,561.01 194.79,563.02 194.86,565.02 194.93,567.03 195.02,569.03 195.15,571.04 195.29,573.04 195.43,575.04 195.57,577.04 195.72,579.04 195.86,581.04 196.00,583.04 196.15,585.04 196.29,587.04 196.44,589.05 196.63,591.04 196.85,593.04 197.08,595.03 197.31,597.02 197.54,599.01 197.77,601.01 198.00,603.00 198.23,604.99 198.46,606.99 198.70,608.98 198.95,610.97 199.22,612.96 199.49,614.94 199.76,616.93 200.03,618.92 200.31,620.91 200.58,622.90 200.85,624.88 201.18,626.86 201.57,628.83 201.96,630.80 202.48,632.67 203.64,634.06 205.34,634.56 207.16,634.13 208.94,634.06 210.63,634.93 212.29,636.04 213.93,637.20 215.53,638.40 217.14,639.60 218.74,640.81 220.35,642.01 221.95,643.22 223.56,644.41 225.25,645.46 227.10,646.19 228.92,646.54 230.43,645.79 231.73,644.32 232.92,642.72 233.79,640.94 234.48,639.06 235.15,637.17 235.83,635.29 236.52,633.41 237.42,631.64 238.62,630.06 239.90,628.64 241.19,628.36 242.47,629.57 243.74,631.12 244.85,632.78 245.78,634.55 246.67,636.35 247.58,638.13 248.63,639.82 249.89,641.37 251.21,642.89 252.55,644.37 254.07,645.60 255.86,646.44 257.72,647.19 259.58,647.94 261.40,648.78 263.15,649.76 264.88,650.77 266.62,651.78 268.35,652.78 270.12,653.72 271.97,654.49 273.85,655.19 275.74,655.86 277.65,656.44 279.43,657.25 281.02,658.44 282.54,659.74 283.87,661.21 284.98,662.87 286.03,664.58 287.04,666.31 288.08,668.02 289.24,669.66 290.45,671.26 291.71,672.82 293.01,674.35 294.32,675.87 295.62,677.39 296.99,678.85 298.55,680.07 300.32,680.97 302.19,681.70 304.08,682.37 306.01,682.82 308.00,683.05 310.00,683.25 312.00,683.40 314.00,683.39 316.00,683.27 318.00,683.13 320.00,682.99 322.00,682.81 324.00,682.63 326.00,682.44 327.99,682.24 329.99,682.03 331.98,681.82 333.98,681.61 335.97,681.41 337.97,681.22 339.97,681.04 341.97,680.85 343.97,680.68 345.96,680.52 347.96,680.36 349.97,680.21 351.97,680.08 353.97,679.96 355.97,679.84 357.98,679.73 359.98,679.63 361.98,679.54 363.99,679.45 365.99,679.34 367.99,679.23 370.00,679.11 372.00,679.00 372.00,679.00" fill="none" stroke="#000000" stroke-width="5" stroke-linejoin="round" stroke-dasharray="17,4" clip-path="url(#c2)"/>
<polyline points="372.00,679.00 373.64,677.85 375.28,676.70 376.92,675.56 378.57,674.42 380.23,673.31 381.92,672.25 383.65,671.26 385.42,670.32 387.20,669.41 388.99,668.51 390.78,667.64 392.60,666.82 394.44,666.11 396.33,665.56 398.25,665.08 400.15,664.58 402.03,663.95 403.88,663.22 405.71,662.42 407.54,661.61 409.37,660.79 411.19,659.96 413.02,659.14 414.84,658.32 416.67,657.51 418.51,656.72 420.36,655.97 422.23,655.25 424.11,654.57 426.00,653.90 427.89,653.24 429.78,652.58 431.67,651.92 433.56,651.26 435.45,650.60 437.34,649.94 439.23,649.31 441.14,648.69 443.05,648.10 444.96,647.51 446.88,646.94 448.80,646.36 450.72,645.79 452.63,645.21 454.55,644.64 456.47,644.08 458.40,643.56 460.34,643.10 462.30,642.71 464.27,642.37 466.25,642.06 468.23,641.77 470.21,641.47 472.19,641.17 474.17,640.88 476.15,640.59 478.13,640.31 480.12,640.07 482.11,639.86 484.10,639.68 486.09,639.51 488.09,639.35 490.09,639.19 492.08,639.03 494.08,638.87 496.07,638.72 498.07,638.57 500.06,638.44 502.06,638.33 504.06,638.24 506.06,638.16 508.06,638.08 510.06,638.00 512.06,637.92 514.06,637.84 516.06,637.76 518.06,637.70 520.06,637.65 522.07,637.62 524.07,637.60 526.07,637.60 528.07,637.60 530.07,637.60 532.07,637.60 534.08,637.60 536.08,637.60 538.08,637.61 540.08,637.64 542.08,637.68 544.08,637.73 546.08,637.79 548.08,637.86 550.08,637.94 552.08,638.05 554.08,638.17 556.08,638.29 558.08,638.42 560.07,638.55 562.07,638.68 564.07,638.81 566.07,638.94 568.06,639.07 570.06,639.19 572.06,639.32 574.06,639.45 576.05,639.58 578.05,639.71 580.05,639.84 582.05,639.97 584.04,640.10 586.04,640.23 588.04,640.36 590.04,640.48 592.03,640.61 594.03,640.74 596.03,640.87 598.03,641.00 600.02,641.13 602.02,641.25 604.02,641.38 606.02,641.49 608.02,641.60 610.02,641.70 612.02,641.80 614.01,641.90 616.01,642.00 618.01,642.10 620.01,642.20 622.01,642.30 624.01,642.40 626.01,642.50 628.01,642.60 630.01,642.70 632.01,642.80 634.01,642.90 636.01,643.00 638.01,643.10 640.00,643.20 642.00,643.30 644.00,643.40 646.00,643.50 648.00,643.60 650.00,643.70 652.00,643.80 654.00,643.90 656.00,644.00 658.00,644.10 660.00,644.19 662.00,644.29 664.00,644.38 666.00,644.47 668.00,644.56 670.00,644.65 672.00,644.75 673.99,644.84 675.99,644.93 677.99,645.02 679.99,645.11 681.99,645.20 683.99,645.29 685.99,645.38 687.99,645.47 689.99,645.56 691.99,645.65 693.99,645.75 695.99,645.84 697.99,645.93 699.99,646.02 701.99,646.11 703.99,646.20 705.99,646.29 707.99,646.38 709.99,646.47 711.99,646.56 713.99,646.65 715.99,646.73 717.99,646.80 719.99,646.87 721.99,646.94 723.99,647.01 725.99,647.08 727.99,647.15 729.99,647.22 731.99,647.29 733.99,647.36 735.99,647.43 737.99,647.50 739.99,647.57 742.00,647.64 744.00,647.71 746.00,647.78 748.00,647.85 750.00,647.92 752.00,647.99 754.00,648.06 756.00,648.13 758.00,648.20 760.00,648.27 761.00,648.30" fill="none" stroke="#000000" stroke-width="5" stroke-linejoin="round" stroke-dasharray="17,4" clip-path="url(#c2)"/>
<polyline points="372.00,679.00 373.95,678.55 375.90,678.10 377.85,677.65 379.81,677.20 381.76,676.77 383.72,676.36 385.69,675.99 387.66,675.67 389.64,675.39 391.63,675.12 393.61,674.85 395.60,674.59 397.58,674.35 399.57,674.14 401.57,673.97 403.57,673.84 405.57,673.72 407.57,673.62 409.57,673.52 411.57,673.42 413.57,673.32 415.57,673.23 417.57,673.16 419.57,673.12 421.57,673.14 423.57,673.20 425.57,673.28 427.57,673.38 429.57,673.48 431.57,673.58 433.57,673.68 435.57,673.79 437.56,673.91 439.56,674.08 441.55,674.29 443.53,674.55 445.51,674.83 447.49,675.12 449.48,675.42 451.46,675.72 453.44,676.02 455.42,676.31 457.40,676.61 459.38,676.91 461.36,677.20 463.34,677.50 465.32,677.80 467.30,678.10 469.28,678.39 471.26,678.69 473.24,678.99 475.22,679.28 477.20,679.57 479.19,679.85 481.17,680.12 483.16,680.37 485.15,680.62 487.13,680.86 489.12,681.09 491.11,681.33 493.10,681.57 495.09,681.81 497.08,682.04 499.07,682.26 501.06,682.46 503.06,682.64 505.05,682.80 507.05,682.96 509.04,683.12 511.04,683.28 513.04,683.44 515.03,683.60 517.03,683.76 519.02,683.92 521.02,684.08 523.02,684.24 525.01,684.40 527.01,684.56 529.01,684.72 531.00,684.88 533.00,685.04 535.00,685.20 536.99,685.36 538.99,685.53 540.98,685.71 542.98,685.90 544.97,686.10 546.96,686.29 548.96,686.47 550.95,686.63 552.95,686.78 554.95,686.91 556.95,687.04 558.94,687.17 560.94,687.30 562.94,687.42 564.94,687.55 566.94,687.68 568.94,687.81 570.94,687.93 572.93,688.06 574.93,688.19 576.93,688.31 578.93,688.44 580.93,688.57 582.93,688.70 584.93,688.82 586.93,688.95 588.92,689.08 590.92,689.20 592.92,689.33 594.92,689.46 596.92,689.59 598.92,689.71 600.92,689.84 602.92,689.96 604.91,690.08 606.91,690.19 608.91,690.30 610.91,690.40 612.91,690.50 614.91,690.60 616.91,690.71 618.91,690.81 620.91,690.91 622.91,691.01 624.91,691.11 626.91,691.22 628.92,691.32 630.92,691.42 632.92,691.52 634.92,691.62 636.92,691.72 638.92,691.83 640.92,691.93 642.92,692.03 644.92,692.13 646.92,692.23 648.92,692.34 650.92,692.44 652.92,692.54 654.92,692.64 656.92,692.74 658.92,692.83 660.92,692.92 662.92,693.00 664.92,693.07 666.92,693.14 668.92,693.21 670.93,693.28 672.93,693.35 674.93,693.42 676.93,693.48 678.93,693.55 680.93,693.62 682.93,693.69 684.94,693.76 686.94,693.83 688.94,693.90 690.94,693.97 692.94,694.04 694.94,694.11 696.95,694.18 698.95,694.25 700.95,694.31 702.95,694.38 704.95,694.45 706.95,694.52 708.95,694.59 710.96,694.66 712.96,694.73 714.96,694.79 716.96,694.86 718.96,694.92 720.96,694.98 722.97,695.04 724.97,695.10 726.97,695.16 728.97,695.23 730.97,695.29 732.97,695.35 734.98,695.41 736.98,695.47 738.98,695.53 740.98,695.59 742.98,695.65 744.99,695.71 746.99,695.77 748.99,695.83 750.99,695.90 752.99,695.96 754.99,696.02 757.00,696.08 759.00,696.14 761.00,696.20 761.00,696.20" fill="none" stroke="#000000" stroke-width="5" stroke-linejoin="round" stroke-dasharray="17,4" clip-path="url(#c2)"/>
<polyline points="372.00,679.00 374.00,679.08 376.00,679.15 378.00,679.23 380.00,679.31 382.00,679.38 384.00,679.46 386.00,679.53 388.00,679.60 390.00,679.67 392.01,679.73 394.01,679.81 396.00,679.90 397.98,680.06 399.94,680.35 401.87,680.79 403.78,681.36 405.68,681.99 407.57,682.65 409.46,683.31 411.35,683.97 413.24,684.63 415.13,685.29 417.02,685.94 418.92,686.56 420.84,687.13 422.76,687.67 424.70,688.17 426.64,688.66 428.58,689.15 430.53,689.63 432.47,690.12 434.41,690.60 436.35,691.08 438.30,691.55 440.25,692.00 442.21,692.42 444.17,692.83 446.13,693.22 448.09,693.62 450.05,694.01 452.02,694.40 453.98,694.80 455.94,695.19 457.91,695.58 459.87,695.97 461.83,696.37 463.80,696.76 465.76,697.15 467.72,697.54 469.69,697.94 471.65,698.33 473.61,698.72 475.58,699.11 477.54,699.48 479.51,699.83 481.49,700.13 483.47,700.40 485.46,700.65 487.44,700.89 489.43,701.13 491.42,701.37 493.41,701.61 495.40,701.85 497.38,702.08 499.37,702.31 501.36,702.52 503.35,702.73 505.35,702.93 507.34,703.13 509.33,703.33 511.32,703.53 513.31,703.73 515.31,703.93 517.30,704.13 519.29,704.33 521.28,704.53 523.27,704.73 525.27,704.93 527.26,705.13 529.25,705.32 531.24,705.52 533.23,705.72 535.23,705.92 537.22,706.12 539.21,706.33 541.20,706.54 543.19,706.75 545.18,706.97 547.17,707.18 549.16,707.37 551.16,707.55 553.15,707.71 555.15,707.85 557.15,707.99 559.14,708.13 561.14,708.27 563.14,708.41 565.13,708.55 567.13,708.68 569.13,708.82 571.13,708.96 573.12,709.10 575.12,709.24 577.12,709.37 579.11,709.51 581.11,709.65 583.11,709.79 585.11,709.93 587.10,710.06 589.10,710.20 591.10,710.34 593.09,710.48 595.09,710.62 597.09,710.75 599.09,710.89 601.08,711.03 603.08,711.17 605.08,711.30 607.07,711.43 609.07,711.57 611.07,711.70 613.07,711.83 615.07,711.96 617.06,712.09 619.06,712.22 621.06,712.35 623.06,712.48 625.05,712.61 627.05,712.74 629.05,712.87 631.05,713.00 633.04,713.14 635.04,713.27 637.04,713.40 639.04,713.53 641.03,713.66 643.03,713.79 645.03,713.92 647.03,714.05 649.03,714.18 651.02,714.31 653.02,714.44 655.02,714.57 657.02,714.70 659.01,714.82 661.01,714.94 663.01,715.04 665.01,715.15 667.01,715.24 669.01,715.34 671.01,715.44 673.01,715.54 675.01,715.64 677.01,715.73 679.01,715.83 681.01,715.93 683.01,716.03 685.01,716.13 687.01,716.23 689.01,716.32 691.01,716.42 693.00,716.52 695.00,716.62 697.00,716.72 699.00,716.81 701.00,716.91 703.00,717.01 705.00,717.11 707.00,717.21 709.00,717.31 711.00,717.40 713.00,717.50 715.00,717.59 717.00,717.68 719.00,717.77 721.00,717.86 723.00,717.95 725.00,718.03 727.00,718.12 729.00,718.21 731.00,718.30 733.00,718.38 735.00,718.47 737.00,718.56 739.00,718.64 741.00,718.73 743.00,718.82 745.00,718.90 747.00,718.99 749.00,719.08 751.00,719.17 753.00,719.25 755.00,719.34 757.00,719.43 759.00,719.51 761.00,719.60 761.00,719.60" fill="none" stroke="#000000" stroke-width="5" stroke-linejoin="round" stroke-dasharray="17,4" clip-path="url(#c2)"/>
<polyline points="372.00,680.00 373.51,681.32 375.02,682.64 376.53,683.94 378.06,685.23 379.63,686.46 381.25,687.62 382.93,688.72 384.63,689.77 386.34,690.81 388.04,691.86 389.73,692.93 391.41,694.03 393.06,695.15 394.71,696.29 396.35,697.43 398.01,698.55 399.70,699.62 401.43,700.62 403.19,701.57 404.97,702.48 406.76,703.38 408.55,704.27 410.34,705.17 412.13,706.07 413.92,706.96 415.72,707.85 417.51,708.74 419.31,709.62 421.12,710.47 422.94,711.31 424.76,712.14 426.59,712.96 428.41,713.79 430.24,714.61 432.07,715.43 433.89,716.25 435.72,717.07 437.56,717.87 439.40,718.65 441.26,719.38 443.14,720.08 445.02,720.75 446.91,721.42 448.80,722.08 450.69,722.74 452.58,723.40 454.47,724.06 456.36,724.71 458.26,725.35 460.18,725.94 462.10,726.49 464.03,727.00 465.97,727.49 467.92,727.98 469.86,728.46 471.80,728.95 473.75,729.44 475.69,729.92 477.63,730.39 479.58,730.85 481.54,731.28 483.50,731.69 485.46,732.09 487.42,732.48 489.39,732.88 491.35,733.27 493.32,733.66 495.28,734.06 497.24,734.45 499.21,734.84 501.17,735.23 503.13,735.63 505.10,736.02 507.06,736.41 509.03,736.81 510.99,737.20 512.95,737.59 514.92,737.98 516.88,738.37 518.85,738.74 520.82,739.08 522.80,739.41 524.78,739.71 526.76,740.01 528.74,740.31 530.72,740.61 532.70,740.90 534.68,741.20 536.66,741.49 538.64,741.78 540.63,742.05 542.61,742.30 544.60,742.55 546.59,742.79 548.58,743.02 550.56,743.25 552.55,743.48 554.54,743.70 556.54,743.92 558.53,744.15 560.52,744.37 562.51,744.59 564.50,744.81 566.49,745.03 568.48,745.25 570.47,745.47 572.46,745.69 574.45,745.91 576.44,746.13 578.43,746.35 580.42,746.57 582.41,746.79 584.40,747.02 586.39,747.24 588.38,747.46 590.37,747.68 592.36,747.90 594.35,748.12 596.34,748.34 598.33,748.56 600.32,748.78 602.31,749.00 604.31,749.21 606.30,749.42 608.29,749.63 610.28,749.83 612.27,750.03 614.27,750.23 616.26,750.43 618.25,750.63 620.25,750.82 622.24,751.02 624.23,751.22 626.22,751.42 628.22,751.62 630.21,751.82 632.20,752.02 634.19,752.22 636.19,752.42 638.18,752.62 640.17,752.82 642.17,753.02 644.16,753.22 646.15,753.42 648.14,753.61 650.14,753.81 652.13,754.01 654.12,754.21 656.11,754.41 658.11,754.60 660.10,754.78 662.10,754.95 664.09,755.10 666.09,755.25 668.09,755.40 670.08,755.55 672.08,755.70 674.08,755.85 676.08,756.00 678.07,756.15 680.07,756.30 682.07,756.45 684.06,756.59 686.06,756.74 688.06,756.89 690.06,757.04 692.05,757.19 694.05,757.34 696.05,757.49 698.04,757.64 700.04,757.78 702.04,757.93 704.04,758.08 706.03,758.23 708.03,758.38 710.03,758.53 712.02,758.67 714.02,758.82 716.02,758.95 718.02,759.07 720.02,759.19 722.02,759.31 724.02,759.43 726.01,759.55 728.01,759.66 730.01,759.78 732.01,759.90 734.01,760.02 736.01,760.13 738.01,760.25 740.01,760.37 742.01,760.49 744.01,760.60 746.01,760.72 748.01,760.84 750.00,760.95 752.00,761.07 754.00,761.19 756.00,761.31 758.00,761.42 760.00,761.54 761.00,761.60" fill="none" stroke="#000000" stroke-width="5" stroke-linejoin="round" stroke-dasharray="17,4" clip-path="url(#c2)"/>
<path d="M125.50,772.98H761.00" stroke="#bdbdbd" stroke-width="1.2" stroke-dasharray="7.78,2" stroke-dashoffset="0" clip-path="url(#c2)"/>
<text transform="translate(131.60,610.00) scale(1.000,1.085)" x="0" y="0" font-size="49">C</text>
<path d="M647.2,587H683" stroke="#000" stroke-width="5" stroke-dasharray="17.5,4"/>
<text transform="translate(690.30,594.50) scale(1,1.060)" x="0" y="0" font-size="19.5" text-anchor="start">CMIP5</text>
<text transform="translate(42.00,691.40) rotate(-90) scale(1,1.06)" x="0" y="0" font-size="29.5" text-anchor="middle">cum AF (-)</text>
<path d="M133.97,1082.50v-2.30M133.97,838.20v2.30M142.45,1082.50v-2.30M142.45,838.20v2.30M150.92,1082.50v-2.30M150.92,838.20v2.30M159.39,1082.50v-2.30M159.39,838.20v2.30M167.87,1082.50v-5.00M167.87,838.20v5.00M176.34,1082.50v-2.30M176.34,838.20v2.30M184.81,1082.50v-2.30M184.81,838.20v2.30M193.29,1082.50v-2.30M193.29,838.20v2.30M201.76,1082.50v-2.30M201.76,838.20v2.30M210.23,1082.50v-2.30M210.23,838.20v2.30M218.71,1082.50v-2.30M218.71,838.20v2.30M227.18,1082.50v-2.30M227.18,838.20v2.30M235.65,1082.50v-2.30M235.65,838.20v2.30M244.13,1082.50v-2.30M244.13,838.20v2.30M252.60,1082.50v-5.00M252.60,838.20v5.00M261.07,1082.50v-2.30M261.07,838.20v2.30M269.55,1082.50v-2.30M269.55,838.20v2.30M278.02,1082.50v-2.30M278.02,838.20v2.30M286.49,1082.50v-2.30M286.49,838.20v2.30M294.97,1082.50v-2.30M294.97,838.20v2.30M303.44,1082.50v-2.30M303.44,838.20v2.30M311.91,1082.50v-2.30M311.91,838.20v2.30M320.39,1082.50v-2.30M320.39,838.20v2.30M328.86,1082.50v-2.30M328.86,838.20v2.30M337.33,1082.50v-5.00M337.33,838.20v5.00M345.81,1082.50v-2.30M345.81,838.20v2.30M354.28,1082.50v-2.30M354.28,838.20v2.30M362.75,1082.50v-2.30M362.75,838.20v2.30M371.23,1082.50v-2.30M371.23,838.20v2.30M379.70,1082.50v-2.30M379.70,838.20v2.30M388.17,1082.50v-2.30M388.17,838.20v2.30M396.65,1082.50v-2.30M396.65,838.20v2.30M405.12,1082.50v-2.30M405.12,838.20v2.30M413.59,1082.50v-2.30M413.59,838.20v2.30M422.07,1082.50v-5.00M422.07,838.20v5.00M430.54,1082.50v-2.30M430.54,838.20v2.30M439.01,1082.50v-2.30M439.01,838.20v2.30M447.49,1082.50v-2.30M447.49,838.20v2.30M455.96,1082.50v-2.30M455.96,838.20v2.30M464.43,1082.50v-2.30M464.43,838.20v2.30M472.91,1082.50v-2.30M472.91,838.20v2.30M481.38,1082.50v-2.30M481.38,838.20v2.30M489.85,1082.50v-2.30M489.85,838.20v2.30M498.33,1082.50v-2.30M498.33,838.20v2.30M506.80,1082.50v-5.00M506.80,838.20v5.00M515.27,1082.50v-2.30M515.27,838.20v2.30M523.75,1082.50v-2.30M523.75,838.20v2.30M532.22,1082.50v-2.30M532.22,838.20v2.30M540.69,1082.50v-2.30M540.69,838.20v2.30M549.17,1082.50v-2.30M549.17,838.20v2.30M557.64,1082.50v-2.30M557.64,838.20v2.30M566.11,1082.50v-2.30M566.11,838.20v2.30M574.59,1082.50v-2.30M574.59,838.20v2.30M583.06,1082.50v-2.30M583.06,838.20v2.30M591.53,1082.50v-5.00M591.53,838.20v5.00M600.01,1082.50v-2.30M600.01,838.20v2.30M608.48,1082.50v-2.30M608.48,838.20v2.30M616.95,1082.50v-2.30M616.95,838.20v2.30M625.43,1082.50v-2.30M625.43,838.20v2.30M633.90,1082.50v-2.30M633.90,838.20v2.30M642.37,1082.50v-2.30M642.37,838.20v2.30M650.85,1082.50v-2.30M650.85,838.20v2.30M659.32,1082.50v-2.30M659.32,838.20v2.30M667.79,1082.50v-2.30M667.79,838.20v2.30M676.27,1082.50v-5.00M676.27,838.20v5.00M684.74,1082.50v-2.30M684.74,838.20v2.30M693.21,1082.50v-2.30M693.21,838.20v2.30M701.69,1082.50v-2.30M701.69,838.20v2.30M710.16,1082.50v-2.30M710.16,838.20v2.30M718.63,1082.50v-2.30M718.63,838.20v2.30M727.11,1082.50v-2.30M727.11,838.20v2.30M735.58,1082.50v-2.30M735.58,838.20v2.30M744.05,1082.50v-2.30M744.05,838.20v2.30M752.53,1082.50v-2.30M752.53,838.20v2.30M125.50,849.30h2.30M761.00,849.30h-2.30M125.50,860.41h5.00M761.00,860.41h-5.00M125.50,871.51h2.30M761.00,871.51h-2.30M125.50,882.62h5.00M761.00,882.62h-5.00M125.50,893.72h2.30M761.00,893.72h-2.30M125.50,904.83h5.00M761.00,904.83h-5.00M125.50,915.93h2.30M761.00,915.93h-2.30M125.50,927.04h5.00M761.00,927.04h-5.00M125.50,938.14h2.30M761.00,938.14h-2.30M125.50,949.25h5.00M761.00,949.25h-5.00M125.50,960.35h2.30M761.00,960.35h-2.30M125.50,971.45h5.00M761.00,971.45h-5.00M125.50,982.56h2.30M761.00,982.56h-2.30M125.50,993.66h5.00M761.00,993.66h-5.00M125.50,1004.77h2.30M761.00,1004.77h-2.30M125.50,1015.87h5.00M761.00,1015.87h-5.00M125.50,1026.98h2.30M761.00,1026.98h-2.30M125.50,1038.08h5.00M761.00,1038.08h-5.00M125.50,1049.19h2.30M761.00,1049.19h-2.30M125.50,1060.29h5.00M761.00,1060.29h-5.00M125.50,1071.40h2.30M761.00,1071.40h-2.30" stroke="#000" stroke-width="1" fill="none"/>

<path d="M125.00,838.20H761.00 M125.50,838.20V1082.50 M125.00,1082.50H761.00" stroke="#000" stroke-width="1.1" fill="none"/>
<path d="M761.00,837.70V1083.00" stroke="#6a6a6a" stroke-width="1.5" fill="none"/>
<text x="111.40" y="846.40" font-size="24" text-anchor="end">2200</text>
<text x="111.40" y="868.61" font-size="24" text-anchor="end">2000</text>
<text x="111.40" y="890.82" font-size="24" text-anchor="end">1800</text>
<text x="111.40" y="913.03" font-size="24" text-anchor="end">1600</text>
<text x="111.40" y="935.24" font-size="24" text-anchor="end">1400</text>
<text x="111.40" y="957.45" font-size="24" text-anchor="end">1200</text>
<text x="111.40" y="979.65" font-size="24" text-anchor="end">1000</text>
<text x="111.40" y="1001.86" font-size="24" text-anchor="end">800</text>
<text x="111.40" y="1024.07" font-size="24" text-anchor="end">600</text>
<text x="111.40" y="1046.28" font-size="24" text-anchor="end">400</text>
<text x="111.40" y="1068.49" font-size="24" text-anchor="end">200</text>
<text x="111.40" y="1090.70" font-size="24" text-anchor="end">0</text>
<polyline points="376.00,1024.00 377.64,1022.86 379.29,1021.72 380.93,1020.57 382.56,1019.42 384.19,1018.25 385.80,1017.08 387.42,1015.90 389.05,1014.73 390.69,1013.59 392.34,1012.46 394.00,1011.34 395.67,1010.24 397.35,1009.16 399.05,1008.10 400.75,1007.06 402.47,1006.02 404.18,1004.99 405.90,1003.96 407.61,1002.93 409.33,1001.91 411.06,1000.90 412.79,999.90 414.54,998.93 416.30,997.98 418.07,997.05 419.86,996.14 421.65,995.26 423.46,994.41 425.28,993.58 427.12,992.80 428.98,992.08 430.86,991.41 432.76,990.77 434.67,990.18 436.59,989.61 438.51,989.08 440.45,988.58 442.39,988.10 444.34,987.67 446.30,987.26 448.27,986.90 450.24,986.58 452.22,986.32 454.21,986.12 456.20,985.97 458.19,985.89 460.19,985.88 462.19,985.92 464.19,985.97 466.19,986.04 468.19,986.11 470.19,986.17 472.19,986.24 474.19,986.31 476.19,986.38 478.19,986.46 480.18,986.55 482.18,986.66 484.18,986.78 486.18,986.91 488.17,987.04 490.17,987.18 492.16,987.31 494.16,987.44 496.16,987.58 498.15,987.71 500.15,987.84 502.15,987.98 504.14,988.11 506.14,988.24 508.14,988.38 510.13,988.51 512.13,988.64 514.12,988.77 516.12,988.91 518.12,989.04 520.11,989.17 522.11,989.31 524.11,989.44 526.10,989.57 528.10,989.71 530.09,989.84 532.09,989.97 534.09,990.11 536.08,990.24 538.08,990.37 540.08,990.49 542.07,990.62 544.07,990.73 546.07,990.85 548.07,990.96 550.06,991.08 552.06,991.19 554.06,991.31 556.06,991.42 558.05,991.54 560.05,991.65 562.05,991.77 564.05,991.88 566.04,991.99 568.04,992.11 570.04,992.22 572.04,992.34 574.03,992.45 576.03,992.57 578.03,992.68 580.03,992.80 582.02,992.91 584.02,993.03 586.02,993.14 588.02,993.26 590.01,993.37 592.01,993.48 594.01,993.60 596.01,993.70 598.00,993.80 600.00,993.89 602.00,993.98 604.00,994.06 606.00,994.14 608.00,994.22 610.00,994.30 612.00,994.38 614.00,994.46 616.00,994.54 617.99,994.62 619.99,994.70 621.99,994.78 623.99,994.86 625.99,994.94 627.99,995.02 629.99,995.10 631.99,995.18 633.99,995.26 635.99,995.34 637.99,995.42 639.99,995.50 641.98,995.58 643.98,995.66 645.98,995.74 647.98,995.82 649.98,995.90 651.98,995.97 653.98,996.04 655.98,996.10 657.98,996.15 659.98,996.19 661.98,996.23 663.98,996.27 665.98,996.31 667.98,996.34 669.98,996.38 671.98,996.42 673.98,996.46 675.98,996.50 677.98,996.53 679.98,996.57 681.98,996.61 683.98,996.65 685.99,996.68 687.99,996.72 689.99,996.76 691.99,996.80 693.99,996.84 695.99,996.87 697.99,996.91 699.99,996.95 701.99,996.99 703.99,997.02 705.99,997.06 707.99,997.10 709.99,997.14 711.99,997.18 713.99,997.21 715.99,997.25 717.99,997.29 719.99,997.33 721.99,997.36 723.99,997.40 725.99,997.44 727.99,997.48 729.99,997.51 731.99,997.55 733.99,997.59 736.00,997.63 738.00,997.67 740.00,997.70 742.00,997.74 744.00,997.78 746.00,997.82 748.00,997.85 750.00,997.89 752.00,997.93 754.00,997.97 756.00,998.01 758.00,998.04 760.00,998.08 761.00,998.10" fill="none" stroke="#ff00ff" stroke-width="5" stroke-linejoin="round" clip-path="url(#c3)"/>
<polyline points="372.00,1027.00 373.84,1026.21 375.68,1025.42 377.52,1024.63 379.36,1023.84 381.20,1023.04 383.02,1022.22 384.85,1021.40 386.67,1020.57 388.50,1019.77 390.35,1019.01 392.23,1018.31 394.12,1017.67 396.03,1017.08 397.96,1016.57 399.91,1016.14 401.88,1015.77 403.85,1015.43 405.83,1015.13 407.81,1014.86 409.80,1014.63 411.79,1014.44 413.79,1014.30 415.78,1014.22 417.79,1014.17 419.79,1014.13 421.79,1014.10 423.79,1014.07 425.79,1014.05 427.80,1014.06 429.80,1014.09 431.80,1014.14 433.80,1014.20 435.80,1014.26 437.80,1014.32 439.81,1014.38 441.81,1014.45 443.81,1014.51 445.81,1014.57 447.81,1014.63 449.81,1014.70 451.82,1014.77 453.82,1014.83 455.82,1014.90 457.82,1014.97 459.82,1015.04 461.82,1015.11 463.82,1015.18 465.83,1015.25 467.83,1015.32 469.83,1015.39 471.83,1015.46 473.83,1015.53 475.83,1015.61 477.83,1015.68 479.83,1015.77 481.83,1015.87 483.83,1015.98 485.83,1016.09 487.83,1016.21 489.83,1016.32 491.83,1016.44 493.83,1016.56 495.83,1016.67 497.83,1016.79 499.83,1016.91 501.83,1017.02 503.83,1017.14 505.83,1017.26 507.82,1017.38 509.82,1017.50 511.82,1017.63 513.82,1017.76 515.82,1017.89 517.82,1018.02 519.82,1018.15 521.81,1018.29 523.81,1018.42 525.81,1018.55 527.81,1018.69 529.81,1018.82 531.80,1018.95 533.80,1019.09 535.80,1019.22 537.80,1019.34 539.80,1019.45 541.80,1019.54 543.80,1019.62 545.80,1019.69 547.80,1019.76 549.80,1019.83 551.81,1019.89 553.81,1019.96 555.81,1020.03 557.81,1020.09 559.81,1020.16 561.81,1020.23 563.82,1020.29 565.82,1020.36 567.82,1020.43 569.82,1020.50 571.82,1020.57 573.82,1020.64 575.82,1020.72 577.82,1020.79 579.83,1020.87 581.83,1020.94 583.83,1021.02 585.83,1021.09 587.83,1021.17 589.83,1021.24 591.83,1021.32 593.83,1021.39 595.84,1021.46 597.84,1021.54 599.84,1021.61 601.84,1021.69 603.84,1021.76 605.84,1021.84 607.84,1021.91 609.84,1021.99 611.85,1022.06 613.85,1022.14 615.85,1022.21 617.85,1022.29 619.85,1022.36 621.85,1022.43 623.85,1022.50 625.85,1022.57 627.86,1022.63 629.86,1022.68 631.86,1022.72 633.86,1022.76 635.86,1022.81 637.87,1022.85 639.87,1022.89 641.87,1022.94 643.87,1022.98 645.88,1023.02 647.88,1023.07 649.88,1023.11 651.88,1023.15 653.88,1023.19 655.89,1023.24 657.89,1023.28 659.89,1023.32 661.89,1023.37 663.90,1023.41 665.90,1023.45 667.90,1023.50 669.90,1023.54 671.90,1023.58 673.91,1023.63 675.91,1023.67 677.91,1023.71 679.91,1023.75 681.91,1023.80 683.92,1023.84 685.92,1023.88 687.92,1023.93 689.92,1023.97 691.93,1024.01 693.93,1024.06 695.93,1024.10 697.93,1024.14 699.93,1024.19 701.94,1024.23 703.94,1024.27 705.94,1024.32 707.94,1024.36 709.94,1024.40 711.95,1024.44 713.95,1024.49 715.95,1024.53 717.95,1024.57 719.96,1024.62 721.96,1024.66 723.96,1024.70 725.96,1024.75 727.96,1024.79 729.97,1024.83 731.97,1024.88 733.97,1024.92 735.97,1024.96 737.98,1025.00 739.98,1025.05 741.98,1025.09 743.98,1025.13 745.98,1025.18 747.99,1025.22 749.99,1025.26 751.99,1025.31 753.99,1025.35 755.99,1025.39 758.00,1025.44 760.00,1025.48 761.00,1025.50" fill="none" stroke="#000080" stroke-width="5" stroke-linejoin="round" clip-path="url(#c3)"/>
<polyline points="362.00,1029.50 363.99,1029.23 365.97,1028.97 367.96,1028.70 369.95,1028.44 371.94,1028.22 373.92,1028.06 375.92,1028.02 377.91,1028.10 379.90,1028.25 381.90,1028.44 383.89,1028.64 385.89,1028.84 387.88,1029.04 389.88,1029.24 391.87,1029.44 393.87,1029.64 395.86,1029.84 397.86,1030.04 399.85,1030.24 401.85,1030.43 403.84,1030.63 405.84,1030.83 407.83,1031.03 409.82,1031.23 411.82,1031.43 413.81,1031.63 415.81,1031.83 417.80,1032.03 419.80,1032.23 421.79,1032.43 423.79,1032.63 425.78,1032.83 427.78,1033.03 429.77,1033.23 431.77,1033.43 433.76,1033.63 435.76,1033.83 437.75,1034.03 439.75,1034.22 441.74,1034.42 443.74,1034.62 445.73,1034.82 447.73,1035.02 449.72,1035.22 451.72,1035.42 453.71,1035.62 455.71,1035.82 457.70,1036.02 459.70,1036.22 461.69,1036.42 463.69,1036.62 465.68,1036.82 467.68,1037.02 469.67,1037.22 471.67,1037.42 473.66,1037.62 475.66,1037.81 477.65,1038.00 479.65,1038.18 481.65,1038.35 483.65,1038.49 485.65,1038.63 487.65,1038.77 489.65,1038.91 491.65,1039.05 493.65,1039.18 495.65,1039.32 497.65,1039.46 499.65,1039.59 501.65,1039.73 503.65,1039.87 505.65,1040.00 507.65,1040.13 509.65,1040.24 511.65,1040.34 513.65,1040.42 515.66,1040.49 517.66,1040.56 519.67,1040.62 521.67,1040.69 523.67,1040.76 525.68,1040.82 527.68,1040.89 529.68,1040.96 531.69,1041.02 533.69,1041.09 535.69,1041.16 537.70,1041.23 539.70,1041.31 541.70,1041.41 543.71,1041.51 545.71,1041.62 547.71,1041.74 549.71,1041.85 551.71,1041.96 553.71,1042.08 555.72,1042.19 557.72,1042.30 559.72,1042.42 561.72,1042.53 563.72,1042.64 565.72,1042.76 567.72,1042.88 569.73,1043.00 571.73,1043.13 573.73,1043.27 575.73,1043.41 577.73,1043.55 579.73,1043.69 581.73,1043.83 583.73,1043.98 585.73,1044.12 587.73,1044.26 589.72,1044.40 591.72,1044.54 593.72,1044.69 595.72,1044.83 597.72,1044.97 599.72,1045.11 601.72,1045.26 603.72,1045.40 605.72,1045.54 607.72,1045.68 609.72,1045.82 611.72,1045.97 613.72,1046.11 615.72,1046.25 617.72,1046.39 619.72,1046.54 621.72,1046.67 623.72,1046.81 625.72,1046.92 627.73,1047.01 629.73,1047.09 631.73,1047.15 633.74,1047.20 635.74,1047.26 637.74,1047.31 639.75,1047.37 641.75,1047.42 643.76,1047.47 645.76,1047.53 647.76,1047.58 649.77,1047.64 651.77,1047.69 653.78,1047.75 655.78,1047.80 657.79,1047.86 659.79,1047.91 661.79,1047.96 663.80,1048.02 665.80,1048.07 667.81,1048.13 669.81,1048.18 671.81,1048.24 673.82,1048.29 675.82,1048.34 677.83,1048.40 679.83,1048.45 681.83,1048.51 683.84,1048.56 685.84,1048.62 687.85,1048.67 689.85,1048.72 691.85,1048.78 693.86,1048.83 695.86,1048.89 697.87,1048.94 699.87,1048.99 701.88,1049.04 703.88,1049.10 705.88,1049.14 707.89,1049.19 709.89,1049.24 711.90,1049.29 713.90,1049.34 715.90,1049.39 717.91,1049.44 719.91,1049.49 721.92,1049.54 723.92,1049.59 725.93,1049.64 727.93,1049.69 729.93,1049.74 731.94,1049.79 733.94,1049.83 735.95,1049.88 737.95,1049.93 739.96,1049.98 741.96,1050.03 743.96,1050.08 745.97,1050.13 747.97,1050.18 749.98,1050.23 751.98,1050.28 753.99,1050.33 755.99,1050.38 757.99,1050.43 760.00,1050.48 761.00,1050.50" fill="none" stroke="#8a2be2" stroke-width="5" stroke-linejoin="round" clip-path="url(#c3)"/>
<polyline points="125.50,1053.50 127.50,1053.49 129.50,1053.48 131.50,1053.47 133.50,1053.45 135.50,1053.44 137.50,1053.43 139.51,1053.42 141.51,1053.41 143.51,1053.40 145.51,1053.38 147.51,1053.37 149.51,1053.36 151.51,1053.35 153.51,1053.34 155.51,1053.33 157.51,1053.31 159.51,1053.30 161.51,1053.29 163.51,1053.27 165.51,1053.26 167.52,1053.25 169.52,1053.23 171.52,1053.22 173.52,1053.20 175.52,1053.19 177.52,1053.18 179.52,1053.16 181.52,1053.15 183.52,1053.13 185.52,1053.12 187.52,1053.11 189.52,1053.09 191.52,1053.08 193.53,1053.06 195.53,1053.05 197.53,1053.03 199.53,1053.02 201.53,1053.00 203.53,1052.97 205.53,1052.94 207.53,1052.91 209.53,1052.87 211.53,1052.84 213.53,1052.80 215.53,1052.76 217.53,1052.73 219.53,1052.69 221.53,1052.65 223.53,1052.62 225.53,1052.58 227.53,1052.54 229.53,1052.49 231.53,1052.44 233.53,1052.38 235.53,1052.32 237.53,1052.25 239.53,1052.19 241.53,1052.12 243.53,1052.06 245.53,1051.99 247.53,1051.93 249.53,1051.86 251.53,1051.79 253.53,1051.73 255.53,1051.66 257.53,1051.58 259.53,1051.49 261.53,1051.40 263.53,1051.31 265.52,1051.21 267.52,1051.11 269.52,1051.01 271.52,1050.91 273.52,1050.82 275.52,1050.72 277.51,1050.61 279.51,1050.49 281.51,1050.35 283.50,1050.19 285.49,1050.03 287.49,1049.86 289.48,1049.69 291.48,1049.52 293.47,1049.35 295.46,1049.16 297.45,1048.94 299.42,1048.66 301.39,1048.33 303.36,1047.95 305.32,1047.56 307.28,1047.16 309.24,1046.75 311.19,1046.33 313.14,1045.87 315.08,1045.39 317.02,1044.89 318.95,1044.38 320.89,1043.86 322.82,1043.35 324.75,1042.83 326.69,1042.32 328.62,1041.81 330.55,1041.30 332.49,1040.79 334.42,1040.27 336.36,1039.76 338.29,1039.24 340.22,1038.71 342.14,1038.17 344.06,1037.60 345.95,1036.98 347.81,1036.27 349.62,1035.45 351.38,1034.52 353.10,1033.51 354.78,1032.43 356.41,1031.28 358.01,1030.08 359.59,1028.86 361.17,1027.64 362.77,1026.43 364.37,1025.23 365.98,1024.05 367.60,1022.88 369.25,1021.75 370.91,1020.64 372.58,1019.53 374.23,1018.40 375.84,1017.22 377.41,1015.99 378.93,1014.70 380.38,1013.33 381.77,1011.90 383.11,1010.42 384.44,1008.93 385.77,1007.43 387.11,1005.95 388.46,1004.47 389.82,1003.01 391.19,1001.55 392.56,1000.09 393.93,998.63 395.30,997.17 396.67,995.72 398.04,994.26 399.41,992.79 400.77,991.33 402.12,989.86 403.47,988.38 404.80,986.88 406.13,985.39 407.45,983.89 408.77,982.38 410.09,980.88 411.40,979.37 412.71,977.85 414.02,976.34 415.32,974.82 416.61,973.29 417.90,971.76 419.17,970.21 420.43,968.66 421.69,967.11 422.94,965.55 424.20,963.99 425.44,962.42 426.69,960.86 427.93,959.29 429.17,957.72 430.41,956.14 431.64,954.57 432.86,952.98 434.07,951.39 435.28,949.79 436.48,948.20 437.68,946.59 438.87,944.99 440.07,943.38 441.25,941.77 442.43,940.16 443.61,938.54 444.79,936.92 445.96,935.30 447.13,933.68 448.29,932.05 449.45,930.42 450.60,928.78 451.75,927.14 452.89,925.50 454.03,923.86 455.17,922.21 456.29,920.55 457.41,918.89 458.53,917.23 459.66,915.59 460.81,913.95 461.98,912.33 463.16,910.71 464.35,909.10 465.55,907.50 466.76,905.91 467.99,904.33 469.24,902.77 470.49,901.21 471.74,899.65 472.99,898.09 474.25,896.53 475.52,894.98 476.81,893.46 478.12,891.95 479.44,890.44 480.78,888.96 482.15,887.51 483.56,886.09 485.00,884.70 486.46,883.33 487.93,881.98 489.42,880.64 490.94,879.34 492.48,878.08 494.05,876.84 495.65,875.63 497.27,874.47 498.92,873.35 500.61,872.26 502.31,871.21 504.02,870.19 505.76,869.21 507.53,868.27 509.31,867.37 511.12,866.51 512.94,865.68 514.78,864.90 516.63,864.15 518.50,863.44 520.39,862.80 522.30,862.23 524.24,861.73 526.18,861.28 528.14,860.89 530.11,860.54 532.09,860.26 534.07,860.04 536.06,859.92 538.05,859.89 540.05,859.93 542.05,860.00 544.04,860.10 546.04,860.23 548.04,860.37 550.03,860.54 552.02,860.71 554.01,860.90 556.01,861.10 558.00,861.30 559.99,861.50 561.97,861.72 563.96,861.97 565.93,862.26 567.90,862.61 569.87,862.98 571.83,863.37 573.79,863.76 575.76,864.15 577.72,864.55 579.68,864.95 581.64,865.36 583.59,865.77 585.55,866.19 587.51,866.61 589.46,867.03 591.42,867.44 593.38,867.85 595.34,868.24 597.31,868.58 599.28,868.87 601.27,869.11 603.26,869.32 605.25,869.52 607.24,869.72 609.23,869.91 611.22,870.11 613.21,870.31 615.20,870.50 617.19,870.70 619.19,870.90 621.18,871.10 623.17,871.29 625.16,871.48 627.15,871.66 629.15,871.83 631.14,871.99 633.13,872.15 635.13,872.31 637.12,872.47 639.12,872.63 641.11,872.79 643.11,872.95 645.10,873.11 647.09,873.27 649.09,873.43 651.08,873.58 653.08,873.73 655.07,873.87 657.07,874.00 659.07,874.11 661.07,874.22 663.06,874.32 665.06,874.43 667.06,874.53 669.06,874.63 671.06,874.74 673.06,874.84 675.05,874.95 677.05,875.05 679.05,875.15 681.05,875.26 683.05,875.36 685.04,875.46 687.04,875.56 689.04,875.66 691.04,875.75 693.04,875.85 695.04,875.95 697.03,876.05 699.03,876.14 701.03,876.24 703.03,876.34 705.03,876.44 707.03,876.53 709.02,876.63 711.02,876.72 713.02,876.81 715.02,876.90 717.02,876.99 719.02,877.07 721.02,877.15 723.02,877.23 725.02,877.32 727.02,877.40 729.01,877.48 731.01,877.56 733.01,877.65 735.01,877.73 737.01,877.81 739.01,877.89 741.01,877.98 743.01,878.06 745.01,878.14 747.01,878.22 749.01,878.31 751.00,878.39 753.00,878.47 755.00,878.55 757.00,878.64 759.00,878.72 761.00,878.80 761.00,878.80" fill="none" stroke="#ff0000" stroke-width="5" stroke-linejoin="round" clip-path="url(#c3)"/>
<polyline points="137.90,1051.60 139.90,1051.57 141.90,1051.54 143.90,1051.51 145.90,1051.49 147.91,1051.46 149.91,1051.43 151.91,1051.40 153.91,1051.37 155.91,1051.34 157.91,1051.31 159.91,1051.29 161.91,1051.26 163.91,1051.23 165.92,1051.20 167.92,1051.17 169.92,1051.14 171.92,1051.12 173.92,1051.09 175.92,1051.06 177.92,1051.03 179.92,1051.00 181.92,1050.97 183.93,1050.94 185.93,1050.91 187.93,1050.88 189.93,1050.85 191.93,1050.82 193.93,1050.79 195.93,1050.76 197.93,1050.73 199.93,1050.70 201.93,1050.67 203.94,1050.64 205.94,1050.61 207.94,1050.58 209.94,1050.55 211.94,1050.52 213.94,1050.49 215.94,1050.46 217.94,1050.43 219.94,1050.40 221.95,1050.37 223.95,1050.34 225.95,1050.31 227.95,1050.27 229.95,1050.23 231.95,1050.17 233.95,1050.11 235.95,1050.04 237.95,1049.97 239.95,1049.90 241.95,1049.83 243.95,1049.76 245.95,1049.69 247.95,1049.62 249.95,1049.55 251.95,1049.48 253.95,1049.41 255.95,1049.34 257.95,1049.27 259.95,1049.19 261.95,1049.10 263.95,1049.01 265.95,1048.91 267.95,1048.82 269.95,1048.72 271.95,1048.63 273.94,1048.53 275.94,1048.43 277.94,1048.34 279.94,1048.24 281.94,1048.14 283.94,1048.04 285.94,1047.94 287.94,1047.82 289.93,1047.71 291.93,1047.59 293.93,1047.47 295.93,1047.35 297.92,1047.24 299.92,1047.12 301.92,1046.99 303.91,1046.86 305.91,1046.68 307.89,1046.46 309.87,1046.17 311.84,1045.85 313.82,1045.52 315.79,1045.17 317.76,1044.83 319.73,1044.49 321.70,1044.14 323.67,1043.78 325.63,1043.38 327.58,1042.95 329.53,1042.48 331.47,1041.99 333.41,1041.49 335.34,1041.00 337.28,1040.49 339.22,1039.98 341.15,1039.46 343.08,1038.93 345.01,1038.40 346.94,1037.86 348.87,1037.34 350.80,1036.82 352.74,1036.32 354.67,1035.82 356.59,1035.28 358.47,1034.66 360.27,1033.88 362.00,1032.92 363.67,1031.85 365.31,1030.71 366.95,1029.56 368.59,1028.42 370.23,1027.28 371.88,1026.14 373.51,1024.98 375.13,1023.81 376.73,1022.61 378.31,1021.39 379.89,1020.15 381.46,1018.91 383.02,1017.66 384.58,1016.40 386.13,1015.13 387.66,1013.85 389.15,1012.53 390.59,1011.15 391.97,1009.70 393.32,1008.23 394.65,1006.73 395.98,1005.24 397.32,1003.75 398.67,1002.27 400.03,1000.81 401.39,999.34 402.75,997.87 404.08,996.38 405.38,994.86 406.65,993.31 407.89,991.75 409.14,990.18 410.41,988.64 411.70,987.11 413.01,985.60 414.33,984.09 415.65,982.59 416.98,981.09 418.30,979.59 419.63,978.09 420.95,976.59 422.28,975.09 423.61,973.60 424.95,972.11 426.30,970.64 427.66,969.17 429.03,967.71 430.39,966.24 431.75,964.77 433.09,963.29 434.43,961.80 435.76,960.30 437.08,958.80 438.39,957.29 439.67,955.75 440.92,954.19 442.15,952.61 443.36,951.02 444.56,949.42 445.75,947.81 446.93,946.20 448.10,944.57 449.24,942.93 450.37,941.28 451.50,939.63 452.64,937.98 453.78,936.34 454.95,934.71 456.14,933.11 457.36,931.52 458.60,929.95 459.83,928.37 461.07,926.80 462.29,925.22 463.51,923.63 464.72,922.03 465.92,920.44 467.13,918.84 468.34,917.25 469.58,915.67 470.84,914.13 472.14,912.60 473.45,911.09 474.78,909.59 476.12,908.11 477.47,906.64 478.85,905.19 480.25,903.76 481.66,902.34 483.07,900.91 484.46,899.48 485.84,898.03 487.21,896.57 488.58,895.11 489.97,893.67 491.38,892.26 492.83,890.88 494.29,889.51 495.75,888.15 497.23,886.80 498.73,885.47 500.23,884.15 501.74,882.84 503.27,881.54 504.81,880.27 506.39,879.04 507.98,877.83 509.60,876.66 511.24,875.51 512.90,874.41 514.60,873.36 516.33,872.36 518.09,871.40 519.86,870.49 521.67,869.64 523.51,868.85 525.37,868.11 527.24,867.42 529.13,866.78 531.05,866.20 532.97,865.70 534.92,865.30 536.89,865.02 538.87,864.84 540.87,864.71 542.87,864.61 544.87,864.51 546.87,864.42 548.86,864.34 550.86,864.29 552.87,864.26 554.87,864.25 556.87,864.25 558.87,864.25 560.87,864.25 562.87,864.25 564.87,864.25 566.87,864.25 568.88,864.25 570.88,864.25 572.88,864.25 574.88,864.25 576.88,864.25 578.88,864.25 580.88,864.25 582.88,864.25 584.89,864.25 586.89,864.26 588.89,864.26 590.89,864.26 592.89,864.26 594.89,864.26 596.89,864.26 598.89,864.27 600.90,864.27 602.90,864.27 604.90,864.27 606.90,864.27 608.90,864.27 610.90,864.28 612.90,864.28 614.91,864.28 616.91,864.28 618.91,864.28 620.91,864.28 622.91,864.29 624.91,864.29 626.91,864.29 628.91,864.29 630.92,864.29 632.92,864.29 634.92,864.30 636.92,864.30 638.92,864.30 640.92,864.30 642.92,864.30 644.92,864.30 646.93,864.31 648.93,864.31 650.93,864.31 652.93,864.31 654.93,864.31 656.93,864.31 658.93,864.32 660.94,864.32 662.94,864.32 664.94,864.32 666.94,864.32 668.94,864.32 670.94,864.33 672.94,864.33 674.94,864.33 676.95,864.33 678.95,864.33 680.95,864.33 682.95,864.34 684.95,864.34 686.95,864.34 688.95,864.34 690.95,864.34 692.96,864.34 694.96,864.35 696.96,864.35 698.96,864.35 700.96,864.35 702.96,864.35 704.96,864.35 706.96,864.36 708.97,864.36 710.97,864.36 712.97,864.36 714.97,864.36 716.97,864.36 718.97,864.37 720.97,864.37 722.98,864.37 724.98,864.37 726.98,864.37 728.98,864.37 730.98,864.38 732.98,864.38 734.98,864.38 736.98,864.38 738.99,864.38 740.99,864.38 742.99,864.39 744.99,864.39 746.99,864.39 748.99,864.39 750.99,864.39 752.99,864.39 755.00,864.40 757.00,864.40 759.00,864.40 761.00,864.40 761.00,864.40" fill="none" stroke="#000000" stroke-width="5" stroke-linejoin="round" stroke-dasharray="17,4" clip-path="url(#c3)"/>
<polyline points="378.00,1025.00 379.73,1023.99 381.46,1022.98 383.18,1021.98 384.91,1020.97 386.65,1019.98 388.40,1019.02 390.18,1018.11 391.99,1017.27 393.82,1016.49 395.67,1015.73 397.53,1014.99 399.39,1014.24 401.25,1013.50 403.10,1012.76 404.96,1012.02 406.82,1011.27 408.67,1010.53 410.53,1009.79 412.39,1009.04 414.25,1008.30 416.11,1007.56 417.97,1006.84 419.84,1006.13 421.72,1005.46 423.61,1004.81 425.51,1004.19 427.42,1003.60 429.34,1003.04 431.27,1002.51 433.21,1002.02 435.16,1001.57 437.12,1001.17 439.08,1000.81 441.05,1000.48 443.03,1000.18 445.01,999.90 446.99,999.65 448.98,999.44 450.97,999.26 452.97,999.12 454.96,999.01 456.96,998.90 458.96,998.80 460.96,998.71 462.96,998.62 464.95,998.56 466.95,998.52 468.95,998.51 470.95,998.50 472.95,998.50 474.95,998.50 476.95,998.50 478.96,998.50 480.96,998.50 482.96,998.50 484.96,998.51 486.96,998.51 488.96,998.51 490.96,998.51 492.96,998.51 494.96,998.52 496.96,998.52 498.96,998.52 500.96,998.52 502.96,998.53 504.96,998.53 506.96,998.53 508.96,998.53 510.96,998.53 512.96,998.54 514.96,998.54 516.96,998.54 518.96,998.54 520.96,998.55 522.96,998.55 524.96,998.55 526.96,998.55 528.96,998.55 530.96,998.56 532.96,998.56 534.96,998.56 536.96,998.56 538.96,998.57 540.97,998.57 542.97,998.57 544.97,998.57 546.97,998.57 548.97,998.58 550.97,998.58 552.97,998.58 554.97,998.58 556.97,998.59 558.97,998.59 560.97,998.59 562.97,998.59 564.97,998.59 566.97,998.60 568.97,998.60 570.97,998.60 572.97,998.60 574.97,998.60 576.97,998.60 578.97,998.60 580.97,998.61 582.97,998.61 584.97,998.61 586.97,998.61 588.97,998.61 590.97,998.61 592.97,998.61 594.97,998.61 596.97,998.61 598.97,998.62 600.97,998.62 602.97,998.62 604.98,998.62 606.98,998.62 608.98,998.62 610.98,998.62 612.98,998.62 614.98,998.62 616.98,998.62 618.98,998.63 620.98,998.63 622.98,998.63 624.98,998.63 626.98,998.63 628.98,998.63 630.98,998.63 632.98,998.63 634.98,998.63 636.98,998.64 638.98,998.64 640.98,998.64 642.98,998.64 644.98,998.64 646.98,998.64 648.98,998.64 650.98,998.64 652.98,998.64 654.98,998.64 656.98,998.65 658.98,998.65 660.98,998.65 662.98,998.65 664.98,998.65 666.99,998.65 668.99,998.65 670.99,998.65 672.99,998.65 674.99,998.65 676.99,998.66 678.99,998.66 680.99,998.66 682.99,998.66 684.99,998.66 686.99,998.66 688.99,998.66 690.99,998.66 692.99,998.66 694.99,998.67 696.99,998.67 698.99,998.67 700.99,998.67 702.99,998.67 704.99,998.67 706.99,998.67 708.99,998.67 710.99,998.67 712.99,998.67 714.99,998.68 716.99,998.68 718.99,998.68 720.99,998.68 722.99,998.68 724.99,998.68 726.99,998.68 728.99,998.68 731.00,998.68 733.00,998.69 735.00,998.69 737.00,998.69 739.00,998.69 741.00,998.69 743.00,998.69 745.00,998.69 747.00,998.69 749.00,998.69 751.00,998.69 753.00,998.70 755.00,998.70 757.00,998.70 759.00,998.70 761.00,998.70 761.00,998.70" fill="none" stroke="#000000" stroke-width="5" stroke-linejoin="round" stroke-dasharray="17,4" clip-path="url(#c3)"/>
<polyline points="372.00,1029.00 373.90,1028.37 375.80,1027.73 377.71,1027.10 379.61,1026.49 381.53,1025.90 383.46,1025.36 385.40,1024.87 387.35,1024.42 389.31,1024.00 391.28,1023.62 393.25,1023.26 395.22,1022.94 397.21,1022.68 399.20,1022.48 401.20,1022.33 403.20,1022.22 405.20,1022.12 407.20,1022.02 409.20,1021.93 411.21,1021.85 413.21,1021.79 415.21,1021.76 417.22,1021.75 419.22,1021.75 421.23,1021.75 423.23,1021.75 425.24,1021.75 427.24,1021.75 429.24,1021.75 431.25,1021.75 433.25,1021.75 435.26,1021.75 437.26,1021.75 439.27,1021.75 441.27,1021.75 443.28,1021.75 445.28,1021.75 447.29,1021.75 449.29,1021.75 451.30,1021.75 453.30,1021.75 455.30,1021.75 457.31,1021.75 459.31,1021.75 461.32,1021.75 463.32,1021.75 465.33,1021.75 467.33,1021.75 469.34,1021.75 471.34,1021.75 473.35,1021.75 475.35,1021.75 477.35,1021.75 479.36,1021.75 481.36,1021.75 483.37,1021.74 485.37,1021.74 487.38,1021.74 489.38,1021.73 491.39,1021.73 493.39,1021.73 495.40,1021.72 497.40,1021.72 499.41,1021.72 501.41,1021.71 503.41,1021.71 505.42,1021.71 507.42,1021.70 509.43,1021.70 511.43,1021.70 513.44,1021.69 515.44,1021.69 517.45,1021.69 519.45,1021.68 521.46,1021.68 523.46,1021.68 525.47,1021.67 527.47,1021.67 529.47,1021.67 531.48,1021.66 533.48,1021.66 535.49,1021.66 537.49,1021.65 539.50,1021.65 541.50,1021.65 543.51,1021.64 545.51,1021.64 547.52,1021.64 549.52,1021.63 551.52,1021.63 553.53,1021.63 555.53,1021.62 557.54,1021.62 559.54,1021.62 561.55,1021.61 563.55,1021.61 565.56,1021.61 567.56,1021.61 569.57,1021.61 571.57,1021.62 573.58,1021.63 575.58,1021.65 577.58,1021.67 579.59,1021.68 581.59,1021.70 583.60,1021.72 585.60,1021.74 587.61,1021.75 589.61,1021.77 591.62,1021.79 593.62,1021.81 595.63,1021.82 597.63,1021.84 599.63,1021.86 601.64,1021.88 603.64,1021.89 605.65,1021.91 607.65,1021.93 609.66,1021.95 611.66,1021.96 613.67,1021.98 615.67,1022.00 617.67,1022.02 619.68,1022.03 621.68,1022.05 623.69,1022.07 625.69,1022.09 627.70,1022.10 629.70,1022.12 631.71,1022.14 633.71,1022.16 635.72,1022.18 637.72,1022.19 639.72,1022.21 641.73,1022.23 643.73,1022.25 645.74,1022.26 647.74,1022.28 649.75,1022.30 651.75,1022.31 653.76,1022.32 655.76,1022.34 657.77,1022.35 659.77,1022.36 661.77,1022.37 663.78,1022.39 665.78,1022.40 667.79,1022.41 669.79,1022.42 671.80,1022.44 673.80,1022.45 675.81,1022.46 677.81,1022.48 679.82,1022.49 681.82,1022.50 683.82,1022.51 685.83,1022.53 687.83,1022.54 689.84,1022.55 691.84,1022.56 693.85,1022.58 695.85,1022.59 697.86,1022.60 699.86,1022.61 701.87,1022.63 703.87,1022.64 705.87,1022.65 707.88,1022.67 709.88,1022.68 711.89,1022.69 713.89,1022.70 715.90,1022.72 717.90,1022.73 719.91,1022.74 721.91,1022.75 723.92,1022.77 725.92,1022.78 727.92,1022.79 729.93,1022.80 731.93,1022.82 733.94,1022.83 735.94,1022.84 737.95,1022.85 739.95,1022.87 741.96,1022.88 743.96,1022.89 745.97,1022.91 747.97,1022.92 749.97,1022.93 751.98,1022.94 753.98,1022.96 755.99,1022.97 757.99,1022.98 760.00,1022.99 761.00,1023.00" fill="none" stroke="#000000" stroke-width="5" stroke-linejoin="round" stroke-dasharray="17,4" clip-path="url(#c3)"/>
<polyline points="360.00,1034.00 361.99,1033.77 363.98,1033.54 365.97,1033.30 367.96,1033.07 369.94,1032.85 371.93,1032.65 373.93,1032.50 375.92,1032.43 377.92,1032.44 379.92,1032.51 381.91,1032.60 383.91,1032.70 385.91,1032.80 387.91,1032.92 389.91,1033.05 391.90,1033.21 393.90,1033.40 395.89,1033.59 397.88,1033.79 399.88,1033.99 401.87,1034.19 403.86,1034.39 405.85,1034.59 407.85,1034.78 409.84,1034.98 411.83,1035.18 413.82,1035.38 415.82,1035.58 417.81,1035.77 419.80,1035.94 421.80,1036.10 423.79,1036.25 425.79,1036.39 427.79,1036.52 429.79,1036.65 431.79,1036.78 433.78,1036.91 435.78,1037.03 437.78,1037.14 439.78,1037.25 441.78,1037.36 443.78,1037.47 445.78,1037.57 447.78,1037.68 449.78,1037.77 451.78,1037.86 453.78,1037.95 455.78,1038.03 457.78,1038.11 459.78,1038.19 461.78,1038.27 463.78,1038.35 465.78,1038.43 467.78,1038.51 469.79,1038.59 471.79,1038.67 473.79,1038.75 475.79,1038.83 477.79,1038.91 479.79,1038.99 481.79,1039.07 483.79,1039.15 485.79,1039.22 487.79,1039.30 489.79,1039.38 491.79,1039.45 493.79,1039.53 495.80,1039.61 497.80,1039.68 499.80,1039.76 501.80,1039.84 503.80,1039.91 505.80,1039.99 507.80,1040.07 509.80,1040.14 511.80,1040.22 513.80,1040.30 515.80,1040.37 517.80,1040.45 519.80,1040.53 521.81,1040.60 523.81,1040.68 525.81,1040.76 527.81,1040.83 529.81,1040.91 531.81,1040.99 533.81,1041.06 535.81,1041.14 537.81,1041.22 539.81,1041.29 541.81,1041.37 543.81,1041.45 545.82,1041.53 547.82,1041.61 549.82,1041.69 551.82,1041.77 553.82,1041.85 555.82,1041.93 557.82,1042.01 559.82,1042.09 561.82,1042.17 563.82,1042.25 565.82,1042.33 567.82,1042.41 569.82,1042.48 571.83,1042.54 573.83,1042.59 575.83,1042.65 577.83,1042.70 579.83,1042.75 581.83,1042.80 583.83,1042.85 585.84,1042.90 587.84,1042.95 589.84,1043.00 591.84,1043.05 593.84,1043.10 595.84,1043.15 597.85,1043.20 599.85,1043.25 601.85,1043.30 603.85,1043.35 605.85,1043.40 607.85,1043.45 609.86,1043.50 611.86,1043.55 613.86,1043.60 615.86,1043.65 617.86,1043.70 619.86,1043.75 621.87,1043.80 623.87,1043.85 625.87,1043.90 627.87,1043.95 629.87,1044.00 631.87,1044.05 633.88,1044.10 635.88,1044.15 637.88,1044.20 639.88,1044.25 641.88,1044.30 643.88,1044.35 645.89,1044.40 647.89,1044.44 649.89,1044.49 651.89,1044.53 653.89,1044.57 655.90,1044.60 657.90,1044.64 659.90,1044.67 661.90,1044.70 663.90,1044.74 665.91,1044.77 667.91,1044.81 669.91,1044.84 671.91,1044.88 673.91,1044.91 675.92,1044.94 677.92,1044.98 679.92,1045.01 681.92,1045.05 683.92,1045.08 685.93,1045.11 687.93,1045.15 689.93,1045.18 691.93,1045.22 693.93,1045.25 695.94,1045.29 697.94,1045.32 699.94,1045.35 701.94,1045.39 703.94,1045.42 705.95,1045.46 707.95,1045.49 709.95,1045.53 711.95,1045.56 713.95,1045.59 715.96,1045.63 717.96,1045.66 719.96,1045.70 721.96,1045.73 723.96,1045.77 725.97,1045.80 727.97,1045.83 729.97,1045.87 731.97,1045.90 733.97,1045.94 735.98,1045.97 737.98,1046.01 739.98,1046.04 741.98,1046.07 743.98,1046.11 745.99,1046.14 747.99,1046.18 749.99,1046.21 751.99,1046.25 753.99,1046.28 756.00,1046.31 758.00,1046.35 760.00,1046.38 761.00,1046.40" fill="none" stroke="#000000" stroke-width="5" stroke-linejoin="round" stroke-dasharray="17,4" clip-path="url(#c3)"/>
<text transform="translate(130.00,883.00) scale(1.000,1.085)" x="0" y="0" font-size="49">D</text>
<text transform="translate(49.00,959.60) rotate(-90) scale(1,1.06)" x="0" y="0" font-size="29.5" text-anchor="middle">atm CO<tspan dy="6" font-size="20.5">2</tspan><tspan dy="-6"> [ppmv]</tspan></text>
<path d="M133.97,1351.40v-2.30M133.97,1107.10v2.30M142.45,1351.40v-2.30M142.45,1107.10v2.30M150.92,1351.40v-2.30M150.92,1107.10v2.30M159.39,1351.40v-2.30M159.39,1107.10v2.30M167.87,1351.40v-5.00M167.87,1107.10v5.00M176.34,1351.40v-2.30M176.34,1107.10v2.30M184.81,1351.40v-2.30M184.81,1107.10v2.30M193.29,1351.40v-2.30M193.29,1107.10v2.30M201.76,1351.40v-2.30M201.76,1107.10v2.30M210.23,1351.40v-2.30M210.23,1107.10v2.30M218.71,1351.40v-2.30M218.71,1107.10v2.30M227.18,1351.40v-2.30M227.18,1107.10v2.30M235.65,1351.40v-2.30M235.65,1107.10v2.30M244.13,1351.40v-2.30M244.13,1107.10v2.30M252.60,1351.40v-5.00M252.60,1107.10v5.00M261.07,1351.40v-2.30M261.07,1107.10v2.30M269.55,1351.40v-2.30M269.55,1107.10v2.30M278.02,1351.40v-2.30M278.02,1107.10v2.30M286.49,1351.40v-2.30M286.49,1107.10v2.30M294.97,1351.40v-2.30M294.97,1107.10v2.30M303.44,1351.40v-2.30M303.44,1107.10v2.30M311.91,1351.40v-2.30M311.91,1107.10v2.30M320.39,1351.40v-2.30M320.39,1107.10v2.30M328.86,1351.40v-2.30M328.86,1107.10v2.30M337.33,1351.40v-5.00M337.33,1107.10v5.00M345.81,1351.40v-2.30M345.81,1107.10v2.30M354.28,1351.40v-2.30M354.28,1107.10v2.30M362.75,1351.40v-2.30M362.75,1107.10v2.30M371.23,1351.40v-2.30M371.23,1107.10v2.30M379.70,1351.40v-2.30M379.70,1107.10v2.30M388.17,1351.40v-2.30M388.17,1107.10v2.30M396.65,1351.40v-2.30M396.65,1107.10v2.30M405.12,1351.40v-2.30M405.12,1107.10v2.30M413.59,1351.40v-2.30M413.59,1107.10v2.30M422.07,1351.40v-5.00M422.07,1107.10v5.00M430.54,1351.40v-2.30M430.54,1107.10v2.30M439.01,1351.40v-2.30M439.01,1107.10v2.30M447.49,1351.40v-2.30M447.49,1107.10v2.30M455.96,1351.40v-2.30M455.96,1107.10v2.30M464.43,1351.40v-2.30M464.43,1107.10v2.30M472.91,1351.40v-2.30M472.91,1107.10v2.30M481.38,1351.40v-2.30M481.38,1107.10v2.30M489.85,1351.40v-2.30M489.85,1107.10v2.30M498.33,1351.40v-2.30M498.33,1107.10v2.30M506.80,1351.40v-5.00M506.80,1107.10v5.00M515.27,1351.40v-2.30M515.27,1107.10v2.30M523.75,1351.40v-2.30M523.75,1107.10v2.30M532.22,1351.40v-2.30M532.22,1107.10v2.30M540.69,1351.40v-2.30M540.69,1107.10v2.30M549.17,1351.40v-2.30M549.17,1107.10v2.30M557.64,1351.40v-2.30M557.64,1107.10v2.30M566.11,1351.40v-2.30M566.11,1107.10v2.30M574.59,1351.40v-2.30M574.59,1107.10v2.30M583.06,1351.40v-2.30M583.06,1107.10v2.30M591.53,1351.40v-5.00M591.53,1107.10v5.00M600.01,1351.40v-2.30M600.01,1107.10v2.30M608.48,1351.40v-2.30M608.48,1107.10v2.30M616.95,1351.40v-2.30M616.95,1107.10v2.30M625.43,1351.40v-2.30M625.43,1107.10v2.30M633.90,1351.40v-2.30M633.90,1107.10v2.30M642.37,1351.40v-2.30M642.37,1107.10v2.30M650.85,1351.40v-2.30M650.85,1107.10v2.30M659.32,1351.40v-2.30M659.32,1107.10v2.30M667.79,1351.40v-2.30M667.79,1107.10v2.30M676.27,1351.40v-5.00M676.27,1107.10v5.00M684.74,1351.40v-2.30M684.74,1107.10v2.30M693.21,1351.40v-2.30M693.21,1107.10v2.30M701.69,1351.40v-2.30M701.69,1107.10v2.30M710.16,1351.40v-2.30M710.16,1107.10v2.30M718.63,1351.40v-2.30M718.63,1107.10v2.30M727.11,1351.40v-2.30M727.11,1107.10v2.30M735.58,1351.40v-2.30M735.58,1107.10v2.30M744.05,1351.40v-2.30M744.05,1107.10v2.30M752.53,1351.40v-2.30M752.53,1107.10v2.30M125.50,1117.28h2.30M761.00,1117.28h-2.30M125.50,1127.46h5.00M761.00,1127.46h-5.00M125.50,1137.64h2.30M761.00,1137.64h-2.30M125.50,1147.82h5.00M761.00,1147.82h-5.00M125.50,1158.00h2.30M761.00,1158.00h-2.30M125.50,1168.17h5.00M761.00,1168.17h-5.00M125.50,1178.35h2.30M761.00,1178.35h-2.30M125.50,1188.53h5.00M761.00,1188.53h-5.00M125.50,1198.71h2.30M761.00,1198.71h-2.30M125.50,1208.89h5.00M761.00,1208.89h-5.00M125.50,1219.07h2.30M761.00,1219.07h-2.30M125.50,1229.25h5.00M761.00,1229.25h-5.00M125.50,1239.43h2.30M761.00,1239.43h-2.30M125.50,1249.61h5.00M761.00,1249.61h-5.00M125.50,1259.79h2.30M761.00,1259.79h-2.30M125.50,1269.97h5.00M761.00,1269.97h-5.00M125.50,1280.15h2.30M761.00,1280.15h-2.30M125.50,1290.32h5.00M761.00,1290.32h-5.00M125.50,1300.50h2.30M761.00,1300.50h-2.30M125.50,1310.68h5.00M761.00,1310.68h-5.00M125.50,1320.86h2.30M761.00,1320.86h-2.30M125.50,1331.04h5.00M761.00,1331.04h-5.00M125.50,1341.22h2.30M761.00,1341.22h-2.30" stroke="#000" stroke-width="1" fill="none"/>

<path d="M125.00,1107.10H761.00 M125.50,1107.10V1351.40 M125.00,1351.40H761.00" stroke="#000" stroke-width="1.1" fill="none"/>
<path d="M761.00,1106.60V1351.90" stroke="#6a6a6a" stroke-width="1.5" fill="none"/>
<text x="111.40" y="1115.30" font-size="24" text-anchor="end">-4</text>
<text x="111.40" y="1135.66" font-size="24" text-anchor="end">-5</text>
<text x="111.40" y="1156.02" font-size="24" text-anchor="end">-6</text>
<text x="111.40" y="1176.38" font-size="24" text-anchor="end">-7</text>
<text x="111.40" y="1196.73" font-size="24" text-anchor="end">-8</text>
<text x="111.40" y="1217.09" font-size="24" text-anchor="end">-9</text>
<text x="111.40" y="1237.45" font-size="24" text-anchor="end">-10</text>
<text x="111.40" y="1257.81" font-size="24" text-anchor="end">-11</text>
<text x="111.40" y="1278.17" font-size="24" text-anchor="end">-12</text>
<text x="111.40" y="1298.52" font-size="24" text-anchor="end">-13</text>
<text x="111.40" y="1318.88" font-size="24" text-anchor="end">-14</text>
<text x="111.40" y="1339.24" font-size="24" text-anchor="end">-15</text>
<text x="111.40" y="1359.60" font-size="24" text-anchor="end">-16</text>
<rect x="132.65" y="1148.05" width="14.5" height="14.5" fill="#000"/>
<rect x="168.25" y="1149.05" width="14.5" height="14.5" fill="#000"/>
<rect x="179.25" y="1149.05" width="14.5" height="14.5" fill="#000"/>
<rect x="200.25" y="1151.15" width="14.5" height="14.5" fill="#000"/>
<rect x="221.35" y="1151.75" width="14.5" height="14.5" fill="#000"/>
<rect x="242.75" y="1153.25" width="14.5" height="14.5" fill="#000"/>
<rect x="258.75" y="1154.75" width="14.5" height="14.5" fill="#000"/>
<g fill="#008000"><circle cx="127.50" cy="1155.00" r="7.2"/><circle cx="136.50" cy="1156.50" r="7.2"/><circle cx="166.80" cy="1158.00" r="7.2"/><circle cx="196.50" cy="1160.58" r="7.2"/><circle cx="200.00" cy="1161.27" r="7.2"/><circle cx="202.50" cy="1160.94" r="7.2"/><circle cx="205.00" cy="1161.27" r="7.2"/><circle cx="207.50" cy="1161.25" r="7.2"/><circle cx="210.00" cy="1160.30" r="7.2"/><circle cx="212.50" cy="1160.39" r="7.2"/><circle cx="215.00" cy="1161.87" r="7.2"/><circle cx="217.50" cy="1161.11" r="7.2"/><circle cx="220.00" cy="1161.24" r="7.2"/><circle cx="222.50" cy="1162.63" r="7.2"/><circle cx="225.00" cy="1161.95" r="7.2"/><circle cx="227.50" cy="1162.46" r="7.2"/><circle cx="230.00" cy="1161.80" r="7.2"/><circle cx="232.50" cy="1161.97" r="7.2"/><circle cx="235.00" cy="1161.11" r="7.2"/><circle cx="237.50" cy="1161.80" r="7.2"/><circle cx="240.00" cy="1162.09" r="7.2"/><circle cx="243.00" cy="1161.54" r="7.2"/><circle cx="246.00" cy="1161.89" r="7.2"/><circle cx="249.00" cy="1161.77" r="7.2"/><circle cx="252.00" cy="1160.80" r="7.2"/><circle cx="254.60" cy="1162.21" r="7.2"/><circle cx="257.20" cy="1162.25" r="7.2"/><circle cx="259.80" cy="1162.08" r="7.2"/><circle cx="262.40" cy="1161.95" r="7.2"/><circle cx="265.00" cy="1163.58" r="7.2"/><circle cx="268.00" cy="1163.16" r="7.2"/><circle cx="271.00" cy="1163.75" r="7.2"/><circle cx="274.00" cy="1164.21" r="7.2"/><circle cx="277.00" cy="1164.14" r="7.2"/><circle cx="279.67" cy="1164.71" r="7.2"/><circle cx="282.33" cy="1164.10" r="7.2"/><circle cx="285.00" cy="1164.98" r="7.2"/><circle cx="287.50" cy="1164.79" r="7.2"/><circle cx="290.00" cy="1165.95" r="7.2"/><circle cx="292.50" cy="1166.23" r="7.2"/><circle cx="295.00" cy="1165.36" r="7.2"/><circle cx="298.50" cy="1166.42" r="7.2"/><circle cx="302.00" cy="1167.55" r="7.2"/><circle cx="305.00" cy="1169.99" r="7.2"/><circle cx="308.00" cy="1170.40" r="7.2"/><circle cx="310.00" cy="1172.20" r="7.2"/><circle cx="312.00" cy="1173.18" r="7.2"/><circle cx="314.00" cy="1175.01" r="7.2"/><circle cx="317.00" cy="1176.82" r="7.2"/><circle cx="320.00" cy="1178.76" r="7.2"/><circle cx="322.67" cy="1180.64" r="7.2"/><circle cx="325.33" cy="1182.13" r="7.2"/><circle cx="328.00" cy="1184.15" r="7.2"/><circle cx="331.00" cy="1185.54" r="7.2"/><circle cx="334.00" cy="1187.69" r="7.2"/><circle cx="336.25" cy="1188.72" r="7.2"/><circle cx="338.50" cy="1190.09" r="7.2"/><circle cx="341.50" cy="1191.07" r="7.2"/></g>
<g fill="#ff00ff"><circle cx="321.00" cy="1184.40" r="3.2"/><circle cx="322.08" cy="1185.83" r="3.2"/><circle cx="323.15" cy="1186.54" r="3.2"/><circle cx="324.23" cy="1187.06" r="3.2"/><circle cx="325.31" cy="1187.25" r="3.2"/><circle cx="326.38" cy="1188.02" r="3.2"/><circle cx="327.46" cy="1188.01" r="3.2"/><circle cx="328.54" cy="1189.34" r="3.2"/><circle cx="329.62" cy="1189.63" r="3.2"/><circle cx="330.69" cy="1189.87" r="3.2"/><circle cx="331.77" cy="1190.20" r="3.2"/><circle cx="332.85" cy="1191.74" r="3.2"/><circle cx="333.92" cy="1192.50" r="3.2"/><circle cx="335.00" cy="1192.01" r="3.2"/><circle cx="336.10" cy="1193.46" r="3.2"/><circle cx="337.20" cy="1193.59" r="3.2"/><circle cx="338.30" cy="1193.88" r="3.2"/><circle cx="339.40" cy="1194.65" r="3.2"/><circle cx="340.50" cy="1195.82" r="3.2"/><circle cx="341.60" cy="1196.55" r="3.2"/><circle cx="342.70" cy="1196.15" r="3.2"/><circle cx="343.80" cy="1197.44" r="3.2"/><circle cx="344.90" cy="1197.35" r="3.2"/><circle cx="346.00" cy="1198.76" r="3.2"/><circle cx="347.10" cy="1198.90" r="3.2"/><circle cx="348.20" cy="1200.16" r="3.2"/><circle cx="349.30" cy="1200.88" r="3.2"/></g>
<g fill="#0000ff"><circle cx="316.80" cy="1177.81" r="3.2"/><circle cx="317.88" cy="1178.96" r="3.2"/><circle cx="318.96" cy="1178.69" r="3.2"/><circle cx="320.04" cy="1178.97" r="3.2"/><circle cx="321.12" cy="1180.16" r="3.2"/><circle cx="322.20" cy="1180.04" r="3.2"/><circle cx="323.28" cy="1180.80" r="3.2"/><circle cx="324.36" cy="1181.61" r="3.2"/><circle cx="325.44" cy="1182.41" r="3.2"/><circle cx="326.52" cy="1182.43" r="3.2"/><circle cx="327.60" cy="1182.85" r="3.2"/><circle cx="328.68" cy="1184.40" r="3.2"/><circle cx="329.76" cy="1184.30" r="3.2"/><circle cx="330.84" cy="1185.63" r="3.2"/><circle cx="331.92" cy="1186.12" r="3.2"/><circle cx="333.00" cy="1186.05" r="3.2"/><circle cx="334.09" cy="1186.69" r="3.2"/><circle cx="335.17" cy="1187.30" r="3.2"/><circle cx="336.26" cy="1187.99" r="3.2"/><circle cx="337.35" cy="1188.47" r="3.2"/><circle cx="338.43" cy="1188.97" r="3.2"/><circle cx="339.52" cy="1189.58" r="3.2"/><circle cx="340.61" cy="1190.51" r="3.2"/><circle cx="341.69" cy="1190.53" r="3.2"/><circle cx="342.78" cy="1190.98" r="3.2"/><circle cx="343.87" cy="1191.86" r="3.2"/><circle cx="344.95" cy="1191.83" r="3.2"/><circle cx="346.04" cy="1192.44" r="3.2"/><circle cx="347.13" cy="1193.79" r="3.2"/><circle cx="348.21" cy="1193.79" r="3.2"/><circle cx="349.30" cy="1194.36" r="3.2"/></g>
<polyline points="344.00,1215.00 345.65,1216.13 347.30,1217.25 348.99,1218.32 350.72,1219.30 352.50,1220.17 354.33,1220.96 356.19,1221.70 358.05,1222.42 359.92,1223.15 361.78,1223.88 363.63,1224.64 365.45,1225.45 367.23,1226.35 368.97,1227.32 370.68,1228.35 372.38,1229.40 374.07,1230.47 375.75,1231.56 377.41,1232.67 379.07,1233.79 380.72,1234.92 382.36,1236.06 384.00,1237.21 385.64,1238.36 387.27,1239.52 388.90,1240.68 390.53,1241.84 392.16,1242.99 393.81,1244.13 395.48,1245.21 397.19,1246.23 398.94,1247.19 400.72,1248.11 402.51,1249.01 404.30,1249.87 406.12,1250.65 407.97,1251.26 409.88,1251.64 411.84,1251.82 413.83,1251.87 415.82,1251.84 417.81,1251.74 419.78,1251.52 421.75,1251.20 423.71,1250.82 425.66,1250.39 427.61,1249.94 429.53,1249.41 431.41,1248.78 433.25,1248.03 435.06,1247.20 436.85,1246.32 438.64,1245.43 440.43,1244.53 442.22,1243.62 443.99,1242.70 445.74,1241.74 447.48,1240.74 449.20,1239.73 450.92,1238.70 452.63,1237.67 454.35,1236.64 456.06,1235.61 457.78,1234.59 459.50,1233.57 461.23,1232.56 462.98,1231.59 464.74,1230.66 466.52,1229.75 468.31,1228.85 470.10,1227.95 471.89,1227.06 473.68,1226.16 475.47,1225.27 477.27,1224.40 479.09,1223.57 480.93,1222.81 482.80,1222.10 484.69,1221.45 486.58,1220.81 488.48,1220.19 490.39,1219.59 492.31,1219.05 494.25,1218.55 496.19,1218.09 498.14,1217.65 500.10,1217.22 502.05,1216.80 504.01,1216.37 505.96,1215.95 507.92,1215.53 509.88,1215.11 511.83,1214.70 513.79,1214.28 515.75,1213.88 517.71,1213.49 519.68,1213.12 521.64,1212.75 523.61,1212.38 525.58,1212.01 527.54,1211.65 529.51,1211.29 531.48,1210.95 533.45,1210.62 535.43,1210.29 537.40,1209.98 539.38,1209.66 541.35,1209.35 543.33,1209.04 545.31,1208.74 547.29,1208.45 549.27,1208.17 551.25,1207.91 553.24,1207.65 555.22,1207.38 557.20,1207.12 559.19,1206.86 561.17,1206.60 563.15,1206.34 565.14,1206.08 567.12,1205.84 569.11,1205.62 571.10,1205.43 573.09,1205.25 575.09,1205.08 577.08,1204.92 579.07,1204.76 581.07,1204.59 583.06,1204.43 585.06,1204.27 587.05,1204.10 589.04,1203.94 591.04,1203.78 593.03,1203.62 595.03,1203.47 597.02,1203.33 599.02,1203.22 601.02,1203.12 603.02,1203.04 605.01,1202.96 607.01,1202.88 609.01,1202.80 611.01,1202.72 613.01,1202.64 615.01,1202.56 617.01,1202.49 619.01,1202.41 621.01,1202.33 623.01,1202.25 625.00,1202.17 627.00,1202.10 629.00,1202.02 631.00,1201.94 633.00,1201.86 635.00,1201.78 637.00,1201.70 639.00,1201.63 641.00,1201.55 643.00,1201.47 644.99,1201.39 646.99,1201.31 648.99,1201.24 650.99,1201.16 652.99,1201.09 654.99,1201.02 656.99,1200.97 658.99,1200.93 660.99,1200.89 662.99,1200.85 664.99,1200.81 666.99,1200.77 668.99,1200.74 670.99,1200.70 672.99,1200.66 674.99,1200.62 676.99,1200.59 678.99,1200.55 680.99,1200.51 682.99,1200.47 684.99,1200.43 686.99,1200.40 688.99,1200.36 690.99,1200.32 692.99,1200.28 694.99,1200.25 696.99,1200.21 698.99,1200.17 700.99,1200.13 702.99,1200.09 704.99,1200.06 706.99,1200.02 708.99,1199.98 711.00,1199.94 713.00,1199.91 715.00,1199.87 717.00,1199.83 719.00,1199.79 721.00,1199.75 723.00,1199.72 725.00,1199.68 727.00,1199.64 729.00,1199.60 731.00,1199.57 733.00,1199.53 735.00,1199.49 737.00,1199.45 739.00,1199.42 741.00,1199.38 743.00,1199.34 745.00,1199.30 747.00,1199.26 749.00,1199.23 751.00,1199.19 753.00,1199.15 755.00,1199.11 757.00,1199.08 759.00,1199.04 761.00,1199.00 761.00,1199.00" fill="none" stroke="#ff00ff" stroke-width="5" stroke-linejoin="round" clip-path="url(#c4)"/>
<polyline points="344.00,1215.00 345.65,1216.14 347.29,1217.29 348.92,1218.45 350.52,1219.65 352.10,1220.88 353.65,1222.14 355.20,1223.42 356.74,1224.69 358.30,1225.95 359.88,1227.17 361.52,1228.30 363.22,1229.35 364.96,1230.32 366.75,1231.21 368.57,1232.03 370.43,1232.75 372.32,1233.37 374.24,1233.86 376.19,1234.17 378.16,1234.33 380.16,1234.37 382.15,1234.33 384.12,1234.17 386.06,1233.85 387.97,1233.33 389.84,1232.66 391.66,1231.87 393.42,1230.94 395.12,1229.91 396.76,1228.78 398.35,1227.56 399.88,1226.29 401.39,1224.97 402.90,1223.66 404.43,1222.38 406.02,1221.21 407.70,1220.18 409.48,1219.29 411.31,1218.51 413.17,1217.78 415.05,1217.10 416.95,1216.47 418.87,1215.88 420.79,1215.32 422.71,1214.76 424.63,1214.19 426.54,1213.59 428.43,1212.95 430.31,1212.25 432.18,1211.52 434.04,1210.78 435.90,1210.04 437.76,1209.30 439.62,1208.55 441.48,1207.81 443.35,1207.08 445.22,1206.37 447.10,1205.68 448.98,1205.00 450.87,1204.34 452.76,1203.67 454.65,1203.01 456.54,1202.35 458.44,1201.69 460.34,1201.07 462.25,1200.49 464.18,1199.99 466.14,1199.55 468.09,1199.14 470.06,1198.74 472.02,1198.35 473.99,1197.95 475.95,1197.57 477.92,1197.19 479.89,1196.85 481.87,1196.54 483.85,1196.26 485.84,1195.99 487.83,1195.73 489.81,1195.48 491.80,1195.22 493.79,1194.97 495.78,1194.74 497.77,1194.51 499.76,1194.29 501.75,1194.08 503.74,1193.87 505.73,1193.66 507.73,1193.46 509.72,1193.28 511.72,1193.13 513.72,1193.00 515.72,1192.88 517.72,1192.76 519.72,1192.65 521.72,1192.54 523.72,1192.42 525.72,1192.31 527.72,1192.20 529.72,1192.08 531.72,1191.97 533.72,1191.86 535.72,1191.74 537.72,1191.63 539.72,1191.52 541.72,1191.42 543.72,1191.31 545.72,1191.21 547.72,1191.11 549.72,1191.01 551.72,1190.91 553.73,1190.81 555.73,1190.71 557.73,1190.61 559.73,1190.51 561.73,1190.41 563.73,1190.31 565.73,1190.21 567.73,1190.12 569.73,1190.02 571.73,1189.94 573.74,1189.85 575.74,1189.77 577.74,1189.69 579.74,1189.61 581.74,1189.53 583.74,1189.45 585.75,1189.37 587.75,1189.29 589.75,1189.21 591.75,1189.13 593.75,1189.05 595.75,1188.98 597.76,1188.91 599.76,1188.85 601.76,1188.79 603.76,1188.74 605.77,1188.68 607.77,1188.63 609.77,1188.58 611.77,1188.53 613.78,1188.48 615.78,1188.42 617.78,1188.37 619.79,1188.32 621.79,1188.27 623.79,1188.21 625.79,1188.16 627.80,1188.11 629.80,1188.06 631.80,1188.01 633.80,1187.95 635.81,1187.90 637.81,1187.85 639.81,1187.80 641.81,1187.74 643.82,1187.69 645.82,1187.64 647.82,1187.59 649.83,1187.54 651.83,1187.49 653.83,1187.44 655.83,1187.40 657.84,1187.37 659.84,1187.34 661.84,1187.31 663.85,1187.28 665.85,1187.26 667.85,1187.23 669.86,1187.20 671.86,1187.18 673.86,1187.15 675.87,1187.12 677.87,1187.10 679.87,1187.07 681.87,1187.05 683.88,1187.02 685.88,1186.99 687.88,1186.97 689.89,1186.94 691.89,1186.91 693.89,1186.89 695.90,1186.86 697.90,1186.83 699.90,1186.81 701.91,1186.78 703.91,1186.75 705.91,1186.73 707.92,1186.70 709.92,1186.67 711.92,1186.65 713.93,1186.62 715.93,1186.60 717.93,1186.57 719.94,1186.54 721.94,1186.52 723.94,1186.49 725.94,1186.46 727.95,1186.44 729.95,1186.41 731.95,1186.38 733.96,1186.36 735.96,1186.33 737.96,1186.30 739.97,1186.28 741.97,1186.25 743.97,1186.22 745.98,1186.20 747.98,1186.17 749.98,1186.15 751.99,1186.12 753.99,1186.09 755.99,1186.07 758.00,1186.04 760.00,1186.01 761.00,1186.00" fill="none" stroke="#000080" stroke-width="5" stroke-linejoin="round" clip-path="url(#c4)"/>
<polyline points="344.00,1215.00 345.65,1216.14 347.29,1217.28 348.94,1218.42 350.58,1219.56 352.23,1220.70 353.87,1221.84 355.52,1222.92 357.19,1223.84 358.91,1224.42 360.68,1224.53 362.49,1224.20 364.30,1223.54 366.06,1222.67 367.74,1221.63 369.35,1220.47 370.93,1219.25 372.49,1218.00 374.05,1216.74 375.60,1215.48 377.15,1214.20 378.69,1212.92 380.23,1211.64 381.77,1210.36 383.30,1209.08 384.84,1207.79 386.36,1206.50 387.89,1205.20 389.41,1203.90 390.93,1202.59 392.45,1201.29 393.98,1199.99 395.51,1198.71 397.08,1197.47 398.68,1196.28 400.32,1195.14 401.99,1194.04 403.68,1192.95 405.37,1191.88 407.06,1190.82 408.79,1189.81 410.55,1188.88 412.35,1188.03 414.19,1187.24 416.04,1186.49 417.90,1185.74 419.76,1185.00 421.62,1184.25 423.48,1183.52 425.35,1182.80 427.22,1182.11 429.12,1181.46 431.02,1180.85 432.94,1180.26 434.85,1179.67 436.77,1179.09 438.68,1178.51 440.60,1177.94 442.52,1177.38 444.45,1176.86 446.40,1176.38 448.35,1175.95 450.31,1175.54 452.27,1175.15 454.24,1174.75 456.20,1174.36 458.16,1173.97 460.13,1173.59 462.10,1173.23 464.07,1172.90 466.05,1172.58 468.03,1172.28 470.01,1171.98 471.99,1171.69 473.97,1171.40 475.95,1171.11 477.93,1170.82 479.92,1170.55 481.90,1170.30 483.89,1170.06 485.88,1169.83 487.87,1169.61 489.86,1169.39 491.85,1169.17 493.84,1168.97 495.83,1168.79 497.83,1168.64 499.83,1168.51 501.83,1168.39 503.83,1168.27 505.82,1168.15 507.82,1168.03 509.82,1167.91 511.82,1167.79 513.82,1167.67 515.82,1167.55 517.82,1167.43 519.82,1167.31 521.81,1167.20 523.81,1167.10 525.81,1167.01 527.82,1166.95 529.82,1166.90 531.82,1166.85 533.82,1166.80 535.82,1166.76 537.82,1166.72 539.83,1166.67 541.83,1166.63 543.83,1166.58 545.83,1166.54 547.83,1166.49 549.83,1166.45 551.84,1166.40 553.84,1166.36 555.84,1166.31 557.84,1166.27 559.84,1166.23 561.85,1166.18 563.85,1166.14 565.85,1166.09 567.85,1166.05 569.85,1166.00 571.85,1165.95 573.86,1165.90 575.86,1165.85 577.86,1165.80 579.86,1165.75 581.86,1165.70 583.86,1165.65 585.87,1165.60 587.87,1165.55 589.87,1165.49 591.87,1165.44 593.87,1165.39 595.87,1165.34 597.88,1165.28 599.88,1165.23 601.88,1165.17 603.88,1165.11 605.88,1165.05 607.88,1164.99 609.88,1164.93 611.89,1164.87 613.89,1164.82 615.89,1164.76 617.89,1164.70 619.89,1164.64 621.89,1164.58 623.89,1164.52 625.90,1164.46 627.90,1164.40 629.90,1164.34 631.90,1164.28 633.90,1164.22 635.90,1164.16 637.90,1164.11 639.91,1164.05 641.91,1163.99 643.91,1163.93 645.91,1163.87 647.91,1163.81 649.91,1163.75 651.92,1163.69 653.92,1163.63 655.92,1163.58 657.92,1163.52 659.92,1163.47 661.92,1163.41 663.92,1163.36 665.93,1163.30 667.93,1163.25 669.93,1163.19 671.93,1163.14 673.93,1163.08 675.93,1163.03 677.94,1162.97 679.94,1162.92 681.94,1162.86 683.94,1162.81 685.94,1162.75 687.94,1162.70 689.94,1162.64 691.95,1162.59 693.95,1162.53 695.95,1162.48 697.95,1162.42 699.95,1162.37 701.95,1162.32 703.96,1162.26 705.96,1162.21 707.96,1162.15 709.96,1162.10 711.96,1162.04 713.96,1161.99 715.96,1161.93 717.97,1161.88 719.97,1161.82 721.97,1161.77 723.97,1161.71 725.97,1161.66 727.97,1161.60 729.98,1161.55 731.98,1161.49 733.98,1161.44 735.98,1161.38 737.98,1161.33 739.98,1161.27 741.99,1161.22 743.99,1161.17 745.99,1161.11 747.99,1161.06 749.99,1161.00 751.99,1160.95 753.99,1160.89 756.00,1160.84 758.00,1160.78 760.00,1160.73 761.00,1160.70" fill="none" stroke="#8a2be2" stroke-width="5" stroke-linejoin="round" clip-path="url(#c4)"/>
<polyline points="125.50,1158.90 127.50,1158.93 129.50,1158.97 131.50,1159.00 133.51,1159.03 135.51,1159.06 137.51,1159.10 139.51,1159.13 141.51,1159.16 143.51,1159.19 145.52,1159.23 147.52,1159.27 149.52,1159.32 151.52,1159.37 153.52,1159.44 155.52,1159.52 157.52,1159.60 159.52,1159.68 161.52,1159.76 163.52,1159.84 165.52,1159.92 167.52,1160.00 169.52,1160.08 171.52,1160.16 173.52,1160.24 175.52,1160.32 177.52,1160.40 179.52,1160.49 181.52,1160.58 183.52,1160.68 185.52,1160.78 187.52,1160.88 189.52,1160.98 191.52,1161.08 193.52,1161.18 195.52,1161.28 197.52,1161.38 199.52,1161.49 201.52,1161.61 203.51,1161.74 205.51,1161.88 207.51,1162.01 209.51,1162.15 211.50,1162.28 213.50,1162.42 215.50,1162.55 217.50,1162.69 219.49,1162.83 221.49,1162.96 223.49,1163.10 225.48,1163.24 227.48,1163.38 229.48,1163.53 231.47,1163.67 233.47,1163.82 235.47,1163.97 237.46,1164.13 239.46,1164.31 241.45,1164.52 243.43,1164.74 245.42,1164.99 247.41,1165.24 249.39,1165.49 251.38,1165.75 253.36,1166.04 255.33,1166.35 257.30,1166.71 259.26,1167.10 261.22,1167.51 263.18,1167.94 265.13,1168.37 267.08,1168.83 269.03,1169.30 270.97,1169.77 272.92,1170.25 274.86,1170.73 276.81,1171.19 278.76,1171.63 280.72,1172.03 282.69,1172.39 284.66,1172.71 286.64,1173.02 288.61,1173.34 290.58,1173.70 292.51,1174.15 294.41,1174.73 296.24,1175.48 297.99,1176.39 299.69,1177.43 301.34,1178.55 302.96,1179.72 304.56,1180.93 306.12,1182.18 307.66,1183.46 309.17,1184.76 310.66,1186.10 312.13,1187.46 313.59,1188.83 315.05,1190.20 316.50,1191.58 317.94,1192.97 319.36,1194.38 320.78,1195.79 322.20,1197.20 323.62,1198.62 325.03,1200.03 326.45,1201.44 327.89,1202.84 329.35,1204.20 330.86,1205.51 332.41,1206.77 333.99,1207.99 335.58,1209.20 337.16,1210.43 338.72,1211.68 340.26,1212.96 341.78,1214.26 343.28,1215.59 344.75,1216.94 346.18,1218.34 347.57,1219.78 348.95,1221.23 350.33,1222.68 351.73,1224.11 353.15,1225.52 354.59,1226.91 356.04,1228.29 357.49,1229.66 358.93,1231.05 360.35,1232.46 361.75,1233.90 363.13,1235.35 364.50,1236.80 365.86,1238.27 367.22,1239.74 368.56,1241.23 369.89,1242.72 371.22,1244.22 372.55,1245.72 373.87,1247.22 375.20,1248.72 376.52,1250.22 377.85,1251.72 379.17,1253.22 380.50,1254.72 381.84,1256.21 383.18,1257.69 384.54,1259.16 385.91,1260.63 387.28,1262.08 388.67,1263.52 390.10,1264.92 391.56,1266.29 393.05,1267.62 394.56,1268.93 396.09,1270.22 397.64,1271.49 399.22,1272.72 400.82,1273.91 402.44,1275.08 404.09,1276.21 405.78,1277.28 407.50,1278.29 409.26,1279.25 411.03,1280.18 412.81,1281.08 414.61,1281.96 416.43,1282.80 418.26,1283.60 420.12,1284.32 422.01,1284.96 423.92,1285.53 425.85,1286.06 427.78,1286.58 429.72,1287.09 431.65,1287.60 433.59,1288.10 435.53,1288.59 437.48,1289.07 439.43,1289.53 441.37,1289.99 443.32,1290.44 445.27,1290.90 447.22,1291.35 449.18,1291.79 451.13,1292.22 453.09,1292.64 455.05,1293.05 457.01,1293.46 458.97,1293.86 460.93,1294.25 462.90,1294.62 464.87,1294.97 466.84,1295.30 468.82,1295.62 470.79,1295.91 472.77,1296.12 474.76,1296.21 476.75,1296.18 478.74,1296.05 480.73,1295.88 482.72,1295.67 484.70,1295.41 486.68,1295.11 488.65,1294.75 490.61,1294.36 492.56,1293.94 494.50,1293.46 496.42,1292.92 498.33,1292.31 500.22,1291.67 502.11,1291.01 504.00,1290.34 505.88,1289.67 507.77,1288.99 509.65,1288.31 511.53,1287.62 513.40,1286.92 515.27,1286.19 517.12,1285.43 518.95,1284.63 520.78,1283.81 522.60,1282.98 524.42,1282.15 526.24,1281.32 528.07,1280.51 529.91,1279.72 531.76,1278.94 533.60,1278.17 535.45,1277.39 537.28,1276.60 539.11,1275.78 540.90,1274.90 542.68,1273.98 544.44,1273.03 546.19,1272.07 547.95,1271.11 549.72,1270.18 551.50,1269.26 553.29,1268.36 555.09,1267.48 556.90,1266.64 558.74,1265.85 560.60,1265.12 562.47,1264.43 564.36,1263.76 566.25,1263.10 568.15,1262.46 570.05,1261.84 571.96,1261.25 573.88,1260.67 575.79,1260.09 577.71,1259.52 579.63,1258.95 581.55,1258.37 583.47,1257.80 585.38,1257.22 587.30,1256.65 589.22,1256.08 591.14,1255.50 593.06,1254.94 594.98,1254.38 596.91,1253.86 598.85,1253.39 600.81,1252.95 602.77,1252.54 604.73,1252.14 606.69,1251.75 608.65,1251.35 610.61,1250.95 612.58,1250.56 614.54,1250.16 616.50,1249.77 618.46,1249.37 620.43,1248.98 622.39,1248.59 624.36,1248.21 626.33,1247.87 628.30,1247.56 630.28,1247.27 632.27,1247.01 634.25,1246.74 636.24,1246.48 638.22,1246.22 640.21,1245.96 642.19,1245.69 644.18,1245.43 646.16,1245.17 648.14,1244.91 650.13,1244.65 652.12,1244.39 654.10,1244.15 656.09,1243.92 658.08,1243.71 660.07,1243.51 662.07,1243.31 664.06,1243.12 666.05,1242.92 668.04,1242.73 670.04,1242.54 672.03,1242.34 674.02,1242.15 676.01,1241.95 678.01,1241.76 680.00,1241.57 681.99,1241.40 683.99,1241.24 685.98,1241.11 687.98,1241.00 689.98,1240.90 691.98,1240.80 693.98,1240.70 695.98,1240.60 697.98,1240.51 699.98,1240.41 701.98,1240.31 703.98,1240.21 705.98,1240.12 707.98,1240.02 709.98,1239.93 711.98,1239.84 713.98,1239.76 715.98,1239.70 717.98,1239.63 719.98,1239.57 721.98,1239.51 723.98,1239.44 725.98,1239.38 727.98,1239.32 729.99,1239.26 731.99,1239.20 733.99,1239.14 735.99,1239.07 737.99,1239.01 739.99,1238.95 741.99,1238.89 743.99,1238.83 745.99,1238.76 747.99,1238.70 749.99,1238.64 752.00,1238.58 754.00,1238.52 756.00,1238.45 758.00,1238.39 760.00,1238.33 761.00,1238.30" fill="none" stroke="#ff0000" stroke-width="5" stroke-linejoin="round" clip-path="url(#c4)"/>
<text transform="translate(130.00,1147.60) scale(1.000,1.085)" x="0" y="0" font-size="49">E</text>
<rect x="135.4" y="1256.6" width="15.2" height="14.5" fill="#000"/>
<circle cx="143" cy="1287" r="6" fill="#008000"/>
<circle cx="142.7" cy="1310.6" r="3.8" fill="#ff00ff"/>
<circle cx="142.7" cy="1334" r="3.8" fill="#0000ff"/>
<text transform="translate(158.50,1270.80) scale(1,1.060)" x="0" y="0" font-size="19.5" text-anchor="start">WAIS Divide</text>
<text transform="translate(158.50,1294.15) scale(1,1.060)" x="0" y="0" font-size="19.5" text-anchor="start">Law Dome</text>
<text transform="translate(158.50,1317.50) scale(1,1.060)" x="0" y="0" font-size="19.5" text-anchor="start">Point Barrow</text>
<text transform="translate(158.50,1340.85) scale(1,1.060)" x="0" y="0" font-size="19.5" text-anchor="start">South Pole</text>
<text transform="translate(48.80,1229.50) rotate(-90) scale(1,1.06)" x="0" y="0" font-size="29.5" text-anchor="middle">atm <tspan font-style="italic">δ</tspan><tspan dy="-16.8" font-size="20.5">13</tspan><tspan dy="16.8">C [</tspan><tspan dy="-16.8" font-size="20.5">o</tspan><tspan dy="16.8">/</tspan><tspan dy="6" font-size="20.5">oo</tspan><tspan dy="-6">]</tspan></text>
<path d="M133.97,1620.50v-2.30M133.97,1376.20v2.30M142.45,1620.50v-2.30M142.45,1376.20v2.30M150.92,1620.50v-2.30M150.92,1376.20v2.30M159.39,1620.50v-2.30M159.39,1376.20v2.30M167.87,1620.50v-5.00M167.87,1376.20v5.00M176.34,1620.50v-2.30M176.34,1376.20v2.30M184.81,1620.50v-2.30M184.81,1376.20v2.30M193.29,1620.50v-2.30M193.29,1376.20v2.30M201.76,1620.50v-2.30M201.76,1376.20v2.30M210.23,1620.50v-2.30M210.23,1376.20v2.30M218.71,1620.50v-2.30M218.71,1376.20v2.30M227.18,1620.50v-2.30M227.18,1376.20v2.30M235.65,1620.50v-2.30M235.65,1376.20v2.30M244.13,1620.50v-2.30M244.13,1376.20v2.30M252.60,1620.50v-5.00M252.60,1376.20v5.00M261.07,1620.50v-2.30M261.07,1376.20v2.30M269.55,1620.50v-2.30M269.55,1376.20v2.30M278.02,1620.50v-2.30M278.02,1376.20v2.30M286.49,1620.50v-2.30M286.49,1376.20v2.30M294.97,1620.50v-2.30M294.97,1376.20v2.30M303.44,1620.50v-2.30M303.44,1376.20v2.30M311.91,1620.50v-2.30M311.91,1376.20v2.30M320.39,1620.50v-2.30M320.39,1376.20v2.30M328.86,1620.50v-2.30M328.86,1376.20v2.30M337.33,1620.50v-5.00M337.33,1376.20v5.00M345.81,1620.50v-2.30M345.81,1376.20v2.30M354.28,1620.50v-2.30M354.28,1376.20v2.30M362.75,1620.50v-2.30M362.75,1376.20v2.30M371.23,1620.50v-2.30M371.23,1376.20v2.30M379.70,1620.50v-2.30M379.70,1376.20v2.30M388.17,1620.50v-2.30M388.17,1376.20v2.30M396.65,1620.50v-2.30M396.65,1376.20v2.30M405.12,1620.50v-2.30M405.12,1376.20v2.30M413.59,1620.50v-2.30M413.59,1376.20v2.30M422.07,1620.50v-5.00M422.07,1376.20v5.00M430.54,1620.50v-2.30M430.54,1376.20v2.30M439.01,1620.50v-2.30M439.01,1376.20v2.30M447.49,1620.50v-2.30M447.49,1376.20v2.30M455.96,1620.50v-2.30M455.96,1376.20v2.30M464.43,1620.50v-2.30M464.43,1376.20v2.30M472.91,1620.50v-2.30M472.91,1376.20v2.30M481.38,1620.50v-2.30M481.38,1376.20v2.30M489.85,1620.50v-2.30M489.85,1376.20v2.30M498.33,1620.50v-2.30M498.33,1376.20v2.30M506.80,1620.50v-5.00M506.80,1376.20v5.00M515.27,1620.50v-2.30M515.27,1376.20v2.30M523.75,1620.50v-2.30M523.75,1376.20v2.30M532.22,1620.50v-2.30M532.22,1376.20v2.30M540.69,1620.50v-2.30M540.69,1376.20v2.30M549.17,1620.50v-2.30M549.17,1376.20v2.30M557.64,1620.50v-2.30M557.64,1376.20v2.30M566.11,1620.50v-2.30M566.11,1376.20v2.30M574.59,1620.50v-2.30M574.59,1376.20v2.30M583.06,1620.50v-2.30M583.06,1376.20v2.30M591.53,1620.50v-5.00M591.53,1376.20v5.00M600.01,1620.50v-2.30M600.01,1376.20v2.30M608.48,1620.50v-2.30M608.48,1376.20v2.30M616.95,1620.50v-2.30M616.95,1376.20v2.30M625.43,1620.50v-2.30M625.43,1376.20v2.30M633.90,1620.50v-2.30M633.90,1376.20v2.30M642.37,1620.50v-2.30M642.37,1376.20v2.30M650.85,1620.50v-2.30M650.85,1376.20v2.30M659.32,1620.50v-2.30M659.32,1376.20v2.30M667.79,1620.50v-2.30M667.79,1376.20v2.30M676.27,1620.50v-5.00M676.27,1376.20v5.00M684.74,1620.50v-2.30M684.74,1376.20v2.30M693.21,1620.50v-2.30M693.21,1376.20v2.30M701.69,1620.50v-2.30M701.69,1376.20v2.30M710.16,1620.50v-2.30M710.16,1376.20v2.30M718.63,1620.50v-2.30M718.63,1376.20v2.30M727.11,1620.50v-2.30M727.11,1376.20v2.30M735.58,1620.50v-2.30M735.58,1376.20v2.30M744.05,1620.50v-2.30M744.05,1376.20v2.30M752.53,1620.50v-2.30M752.53,1376.20v2.30M125.50,1392.49h5.00M761.00,1392.49h-5.00M125.50,1408.77h2.30M761.00,1408.77h-2.30M125.50,1425.06h5.00M761.00,1425.06h-5.00M125.50,1441.35h2.30M761.00,1441.35h-2.30M125.50,1457.63h5.00M761.00,1457.63h-5.00M125.50,1473.92h2.30M761.00,1473.92h-2.30M125.50,1490.21h5.00M761.00,1490.21h-5.00M125.50,1506.49h2.30M761.00,1506.49h-2.30M125.50,1522.78h5.00M761.00,1522.78h-5.00M125.50,1539.07h2.30M761.00,1539.07h-2.30M125.50,1555.35h5.00M761.00,1555.35h-5.00M125.50,1571.64h2.30M761.00,1571.64h-2.30M125.50,1587.93h5.00M761.00,1587.93h-5.00M125.50,1604.21h2.30M761.00,1604.21h-2.30" stroke="#000" stroke-width="1" fill="none"/>

<path d="M125.00,1376.20H761.00 M125.50,1376.20V1620.50 M125.00,1620.50H761.00" stroke="#000" stroke-width="1.1" fill="none"/>
<path d="M761.00,1375.70V1621.00" stroke="#6a6a6a" stroke-width="1.5" fill="none"/>
<text x="111.40" y="1384.40" font-size="24" text-anchor="end">1000</text>
<text x="111.40" y="1416.97" font-size="24" text-anchor="end">800</text>
<text x="111.40" y="1449.55" font-size="24" text-anchor="end">600</text>
<text x="111.40" y="1482.12" font-size="24" text-anchor="end">400</text>
<text x="111.40" y="1514.69" font-size="24" text-anchor="end">200</text>
<text x="111.40" y="1547.27" font-size="24" text-anchor="end">0</text>
<text x="111.40" y="1579.84" font-size="24" text-anchor="end">-200</text>
<text x="111.40" y="1612.41" font-size="24" text-anchor="end">-400</text>
<polyline points="308.00,1420.00 310.00,1430.00 312.50,1448.00 315.00,1462.00 317.30,1473.00 319.20,1482.00 322.00,1495.00 324.50,1501.50 326.50,1506.25 329.50,1511.50 332.50,1516.00 336.50,1520.50 340.50,1524.50 344.00,1528.00 347.30,1531.30" fill="none" stroke="#000000" stroke-width="5.2" stroke-linejoin="round" clip-path="url(#c5)" stroke-linecap="round"/>
<circle cx="295.80" cy="1543.30" r="3.20" fill="#000"/>
<circle cx="298.00" cy="1543.60" r="3.00" fill="#000"/>
<circle cx="301.50" cy="1536.00" r="2.60" fill="#000"/>
<circle cx="303.00" cy="1526.00" r="2.40" fill="#000"/>
<circle cx="305.00" cy="1510.00" r="2.40" fill="#000"/>
<circle cx="307.00" cy="1490.00" r="2.40" fill="#000"/>
<circle cx="308.50" cy="1468.00" r="2.40" fill="#000"/>
<polyline points="349.00,1539.00 350.45,1540.37 351.93,1541.71 353.45,1543.00 355.02,1544.24 356.61,1545.45 358.21,1546.65 359.81,1547.85 361.41,1549.05 363.02,1550.24 364.63,1551.41 366.28,1552.52 367.99,1553.54 369.76,1554.45 371.57,1555.28 373.41,1556.07 375.25,1556.83 377.11,1557.57 378.98,1558.28 380.86,1558.95 382.75,1559.61 384.64,1560.25 386.54,1560.88 388.45,1561.48 390.37,1562.04 392.29,1562.57 394.23,1563.06 396.17,1563.54 398.12,1563.98 400.08,1564.38 402.05,1564.72 404.02,1565.01 406.01,1565.28 407.99,1565.52 409.98,1565.74 411.97,1565.91 413.96,1566.04 415.96,1566.12 417.96,1566.18 419.96,1566.22 421.96,1566.24 423.95,1566.22 425.95,1566.19 427.95,1566.14 429.95,1566.07 431.94,1565.96 433.93,1565.78 435.91,1565.53 437.89,1565.22 439.86,1564.89 441.83,1564.55 443.79,1564.19 445.76,1563.83 447.72,1563.45 449.69,1563.06 451.65,1562.67 453.61,1562.27 455.56,1561.85 457.52,1561.43 459.47,1560.99 461.42,1560.55 463.37,1560.12 465.33,1559.72 467.30,1559.35 469.27,1559.02 471.24,1558.71 473.22,1558.41 475.20,1558.11 477.18,1557.84 479.16,1557.58 481.15,1557.33 483.13,1557.10 485.12,1556.87 487.11,1556.64 489.10,1556.43 491.09,1556.23 493.08,1556.04 495.07,1555.86 497.06,1555.69 499.05,1555.52 501.05,1555.35 503.04,1555.19 505.04,1555.04 507.03,1554.91 509.03,1554.80 511.03,1554.69 513.02,1554.59 515.02,1554.49 517.02,1554.39 519.02,1554.29 521.01,1554.18 523.01,1554.08 525.01,1553.98 527.01,1553.88 529.00,1553.78 531.00,1553.69 533.00,1553.61 535.00,1553.53 537.00,1553.47 539.00,1553.41 541.00,1553.35 542.99,1553.29 544.99,1553.24 546.99,1553.18 548.99,1553.12 550.99,1553.06 552.99,1553.00 554.99,1552.95 556.99,1552.89 558.99,1552.85 560.99,1552.82 562.99,1552.80 564.99,1552.79 566.99,1552.79 568.99,1552.79 570.99,1552.78 572.99,1552.78 574.99,1552.78 576.99,1552.77 578.99,1552.77 580.99,1552.77 582.99,1552.77 584.99,1552.76 586.99,1552.76 588.99,1552.76 590.99,1552.75 592.99,1552.75 594.99,1552.75 596.99,1552.74 598.99,1552.74 600.99,1552.74 602.99,1552.74 604.99,1552.73 606.99,1552.73 608.99,1552.73 610.99,1552.72 612.99,1552.72 614.99,1552.72 616.99,1552.71 618.99,1552.71 620.99,1552.71 622.99,1552.71 624.99,1552.70 626.99,1552.70 628.99,1552.70 630.99,1552.69 632.99,1552.69 634.99,1552.69 636.99,1552.69 638.99,1552.68 640.99,1552.68 642.99,1552.68 644.99,1552.67 646.99,1552.67 648.99,1552.67 650.99,1552.66 652.99,1552.66 654.99,1552.66 656.99,1552.66 658.99,1552.65 660.99,1552.65 662.99,1552.65 664.99,1552.64 666.99,1552.64 668.99,1552.64 670.99,1552.63 672.99,1552.63 675.00,1552.63 677.00,1552.63 679.00,1552.62 681.00,1552.62 683.00,1552.62 685.00,1552.61 687.00,1552.61 689.00,1552.61 691.00,1552.60 693.00,1552.60 695.00,1552.60 697.00,1552.60 699.00,1552.59 701.00,1552.59 703.00,1552.59 705.00,1552.58 707.00,1552.58 709.00,1552.58 711.00,1552.57 713.00,1552.57 715.00,1552.57 717.00,1552.57 719.00,1552.56 721.00,1552.56 723.00,1552.56 725.00,1552.55 727.00,1552.55 729.00,1552.55 731.00,1552.54 733.00,1552.54 735.00,1552.54 737.00,1552.54 739.00,1552.53 741.00,1552.53 743.00,1552.53 745.00,1552.52 747.00,1552.52 749.00,1552.52 751.00,1552.51 753.00,1552.51 755.00,1552.51 757.00,1552.51 759.00,1552.50 761.00,1552.50 761.00,1552.50" fill="none" stroke="#ff00ff" stroke-width="5" stroke-linejoin="round" clip-path="url(#c5)"/>
<polyline points="348.00,1538.00 349.51,1539.32 351.02,1540.63 352.54,1541.94 354.06,1543.24 355.61,1544.51 357.20,1545.72 358.83,1546.89 360.48,1548.01 362.16,1549.10 363.86,1550.16 365.59,1551.17 367.34,1552.12 369.13,1553.02 370.95,1553.83 372.80,1554.52 374.71,1555.04 376.66,1555.41 378.63,1555.70 380.62,1555.92 382.61,1556.07 384.60,1556.11 386.59,1556.02 388.58,1555.85 390.57,1555.63 392.56,1555.40 394.55,1555.17 396.54,1554.95 398.53,1554.72 400.52,1554.50 402.51,1554.28 404.51,1554.06 406.50,1553.84 408.49,1553.62 410.48,1553.39 412.47,1553.15 414.46,1552.91 416.45,1552.67 418.44,1552.44 420.43,1552.21 422.42,1552.01 424.42,1551.83 426.41,1551.66 428.41,1551.51 430.41,1551.35 432.41,1551.20 434.41,1551.06 436.41,1550.94 438.41,1550.84 440.41,1550.76 442.41,1550.69 444.41,1550.62 446.42,1550.55 448.42,1550.49 450.42,1550.42 452.43,1550.35 454.43,1550.28 456.43,1550.22 458.43,1550.15 460.44,1550.08 462.44,1550.01 464.44,1549.94 466.44,1549.88 468.45,1549.81 470.45,1549.74 472.45,1549.67 474.46,1549.61 476.46,1549.55 478.46,1549.51 480.47,1549.47 482.47,1549.45 484.47,1549.42 486.48,1549.40 488.48,1549.38 490.48,1549.35 492.49,1549.33 494.49,1549.31 496.50,1549.29 498.50,1549.26 500.50,1549.24 502.51,1549.22 504.51,1549.20 506.51,1549.18 508.52,1549.15 510.52,1549.13 512.53,1549.11 514.53,1549.09 516.53,1549.06 518.54,1549.04 520.54,1549.02 522.54,1549.00 524.55,1548.97 526.55,1548.95 528.56,1548.93 530.56,1548.91 532.56,1548.88 534.57,1548.86 536.57,1548.84 538.57,1548.83 540.58,1548.82 542.58,1548.82 544.59,1548.83 546.59,1548.84 548.59,1548.86 550.60,1548.87 552.60,1548.88 554.60,1548.90 556.61,1548.91 558.61,1548.92 560.62,1548.94 562.62,1548.95 564.62,1548.96 566.63,1548.97 568.63,1548.99 570.64,1549.00 572.64,1549.01 574.64,1549.03 576.65,1549.04 578.65,1549.05 580.65,1549.07 582.66,1549.08 584.66,1549.09 586.67,1549.11 588.67,1549.12 590.67,1549.13 592.68,1549.15 594.68,1549.16 596.69,1549.17 598.69,1549.19 600.69,1549.20 602.70,1549.21 604.70,1549.22 606.70,1549.24 608.71,1549.25 610.71,1549.26 612.72,1549.28 614.72,1549.29 616.72,1549.30 618.73,1549.32 620.73,1549.33 622.74,1549.34 624.74,1549.36 626.74,1549.37 628.75,1549.38 630.75,1549.40 632.75,1549.41 634.76,1549.42 636.76,1549.43 638.77,1549.45 640.77,1549.46 642.77,1549.47 644.78,1549.49 646.78,1549.50 648.79,1549.51 650.79,1549.53 652.79,1549.54 654.80,1549.55 656.80,1549.57 658.80,1549.58 660.81,1549.59 662.81,1549.61 664.82,1549.62 666.82,1549.63 668.82,1549.65 670.83,1549.66 672.83,1549.67 674.84,1549.68 676.84,1549.70 678.84,1549.71 680.85,1549.72 682.85,1549.74 684.85,1549.75 686.86,1549.76 688.86,1549.78 690.87,1549.79 692.87,1549.80 694.87,1549.82 696.88,1549.83 698.88,1549.84 700.88,1549.86 702.89,1549.87 704.89,1549.88 706.90,1549.90 708.90,1549.91 710.90,1549.92 712.91,1549.93 714.91,1549.95 716.92,1549.96 718.92,1549.97 720.92,1549.99 722.93,1550.00 724.93,1550.01 726.93,1550.03 728.94,1550.04 730.94,1550.05 732.95,1550.07 734.95,1550.08 736.95,1550.09 738.96,1550.11 740.96,1550.12 742.97,1550.13 744.97,1550.14 746.97,1550.16 748.98,1550.17 750.98,1550.18 752.98,1550.20 754.99,1550.21 756.99,1550.22 759.00,1550.24 761.00,1550.25 761.00,1550.25" fill="none" stroke="#000080" stroke-width="5" stroke-linejoin="round" clip-path="url(#c5)"/>
<polyline points="347.00,1536.00 347.59,1537.83 348.37,1539.51 349.46,1540.91 350.91,1541.99 352.61,1542.85 354.44,1543.60 356.31,1544.28 358.21,1544.90 360.13,1545.46 362.06,1545.96 364.00,1546.39 365.96,1546.73 367.92,1546.92 369.90,1546.93 371.88,1546.81 373.87,1546.63 375.86,1546.43 377.85,1546.22 379.85,1546.02 381.84,1545.82 383.83,1545.62 385.82,1545.42 387.81,1545.22 389.80,1545.02 391.80,1544.83 393.79,1544.66 395.78,1544.51 397.78,1544.38 399.78,1544.28 401.78,1544.18 403.78,1544.09 405.78,1543.99 407.78,1543.90 409.78,1543.80 411.77,1543.71 413.77,1543.61 415.77,1543.52 417.77,1543.43 419.77,1543.34 421.77,1543.28 423.77,1543.23 425.77,1543.21 427.77,1543.20 429.78,1543.20 431.78,1543.20 433.78,1543.20 435.78,1543.20 437.78,1543.20 439.78,1543.20 441.79,1543.20 443.79,1543.20 445.79,1543.20 447.79,1543.21 449.79,1543.22 451.79,1543.23 453.79,1543.26 455.80,1543.28 457.80,1543.31 459.80,1543.34 461.80,1543.37 463.80,1543.40 465.80,1543.43 467.80,1543.46 469.80,1543.49 471.81,1543.52 473.81,1543.55 475.81,1543.58 477.81,1543.60 479.81,1543.63 481.81,1543.66 483.81,1543.69 485.82,1543.72 487.82,1543.75 489.82,1543.78 491.82,1543.81 493.82,1543.84 495.82,1543.87 497.82,1543.90 499.82,1543.93 501.83,1543.96 503.83,1543.99 505.83,1544.04 507.83,1544.08 509.83,1544.14 511.83,1544.20 513.83,1544.25 515.83,1544.31 517.83,1544.37 519.83,1544.42 521.83,1544.48 523.83,1544.54 525.83,1544.60 527.84,1544.65 529.84,1544.71 531.84,1544.77 533.84,1544.82 535.84,1544.88 537.84,1544.93 539.84,1544.97 541.84,1545.01 543.84,1545.03 545.84,1545.05 547.85,1545.07 549.85,1545.08 551.85,1545.10 553.85,1545.12 555.85,1545.13 557.85,1545.15 559.85,1545.17 561.86,1545.18 563.86,1545.20 565.86,1545.22 567.86,1545.23 569.86,1545.25 571.86,1545.27 573.86,1545.28 575.87,1545.30 577.87,1545.32 579.87,1545.33 581.87,1545.35 583.87,1545.37 585.87,1545.38 587.87,1545.40 589.88,1545.42 591.88,1545.43 593.88,1545.45 595.88,1545.47 597.88,1545.48 599.88,1545.50 601.88,1545.52 603.89,1545.53 605.89,1545.55 607.89,1545.56 609.89,1545.58 611.89,1545.60 613.89,1545.61 615.89,1545.63 617.90,1545.64 619.90,1545.66 621.90,1545.68 623.90,1545.69 625.90,1545.71 627.90,1545.73 629.90,1545.74 631.91,1545.76 633.91,1545.77 635.91,1545.79 637.91,1545.81 639.91,1545.82 641.91,1545.84 643.92,1545.85 645.92,1545.87 647.92,1545.89 649.92,1545.90 651.92,1545.92 653.92,1545.94 655.92,1545.95 657.93,1545.97 659.93,1545.98 661.93,1546.00 663.93,1546.02 665.93,1546.03 667.93,1546.05 669.93,1546.06 671.94,1546.08 673.94,1546.10 675.94,1546.11 677.94,1546.13 679.94,1546.15 681.94,1546.16 683.94,1546.18 685.95,1546.19 687.95,1546.21 689.95,1546.23 691.95,1546.24 693.95,1546.26 695.95,1546.27 697.95,1546.29 699.96,1546.31 701.96,1546.32 703.96,1546.34 705.96,1546.36 707.96,1546.37 709.96,1546.39 711.96,1546.40 713.97,1546.42 715.97,1546.44 717.97,1546.45 719.97,1546.47 721.97,1546.48 723.97,1546.50 725.97,1546.52 727.98,1546.53 729.98,1546.55 731.98,1546.57 733.98,1546.58 735.98,1546.60 737.98,1546.61 739.98,1546.63 741.99,1546.65 743.99,1546.66 745.99,1546.68 747.99,1546.69 749.99,1546.71 751.99,1546.73 753.99,1546.74 756.00,1546.76 758.00,1546.78 760.00,1546.79 761.00,1546.80" fill="none" stroke="#8a2be2" stroke-width="5" stroke-linejoin="round" clip-path="url(#c5)"/>
<polyline points="125.50,1533.20 140.00,1534.50 161.00,1536.00 175.00,1533.50 185.00,1532.00 205.00,1533.20 230.00,1533.50 253.00,1534.00 275.00,1535.50 293.00,1537.20 297.00,1537.50 300.00,1515.00 302.00,1500.00 303.50,1470.00 304.50,1440.00 305.60,1393.00 307.60,1393.00 309.00,1410.00 310.60,1430.00 313.30,1450.00" fill="none" stroke="#ff0000" stroke-width="5" stroke-linejoin="round" clip-path="url(#c5)" stroke-miterlimit="10" stroke-linejoin="miter"/>
<polyline points="310.60,1430.00 310.87,1431.98 311.14,1433.97 311.40,1435.95 311.67,1437.93 311.94,1439.92 312.21,1441.90 312.47,1443.88 312.74,1445.86 313.02,1447.85 313.31,1449.83 313.62,1451.80 313.94,1453.78 314.27,1455.75 314.60,1457.72 314.94,1459.70 315.27,1461.67 315.60,1463.64 315.94,1465.62 316.28,1467.59 316.63,1469.56 316.98,1471.53 317.33,1473.50 317.67,1475.47 318.02,1477.44 318.36,1479.41 318.70,1481.39 319.04,1483.36 319.37,1485.33 319.71,1487.30 320.04,1489.28 320.39,1491.25 320.76,1493.21 321.14,1495.18 321.53,1497.14 321.93,1499.10 322.35,1501.06 322.80,1503.01 323.30,1504.94 323.82,1506.87 324.40,1508.78 325.06,1510.67 325.79,1512.53 326.58,1514.37 327.41,1516.18 328.29,1517.98 329.20,1519.76 330.15,1521.52 331.15,1523.26 332.19,1524.96 333.30,1526.63 334.46,1528.25 335.69,1529.83 336.97,1531.35 338.31,1532.84 339.69,1534.28 341.14,1535.66 342.64,1536.98 344.19,1538.24 345.77,1539.47 347.36,1540.68 348.94,1541.90 350.52,1543.14 352.08,1544.38 353.65,1545.62 355.24,1546.84 356.85,1548.02 358.48,1549.18 360.13,1550.32 361.79,1551.44 363.47,1552.52 365.18,1553.55 366.91,1554.55 368.66,1555.52 370.43,1556.47 372.20,1557.39 373.99,1558.30 375.77,1559.21 377.55,1560.11 379.33,1561.02 381.12,1561.93 382.90,1562.84 384.68,1563.75 386.47,1564.66 388.25,1565.56 390.03,1566.47 391.82,1567.37 393.61,1568.26 395.42,1569.12 397.25,1569.93 399.08,1570.72 400.93,1571.51 402.77,1572.29 404.61,1573.06 406.46,1573.83 408.32,1574.57 410.19,1575.28 412.07,1575.97 413.95,1576.65 415.83,1577.33 417.71,1578.01 419.60,1578.67 421.50,1579.28 423.43,1579.78 425.38,1580.18 427.35,1580.51 429.33,1580.82 431.31,1581.13 433.28,1581.44 435.26,1581.76 437.24,1582.07 439.21,1582.39 441.19,1582.72 443.16,1583.05 445.13,1583.40 447.10,1583.74 449.07,1584.08 451.05,1584.38 453.03,1584.64 455.02,1584.86 457.01,1585.04 459.01,1585.22 461.00,1585.39 462.99,1585.56 464.99,1585.71 466.99,1585.82 468.98,1585.92 470.98,1586.01 472.98,1586.10 474.98,1586.18 476.98,1586.24 478.98,1586.27 480.98,1586.28 482.98,1586.28 484.98,1586.27 486.99,1586.25 488.98,1586.21 490.98,1586.13 492.98,1586.01 494.98,1585.87 496.97,1585.72 498.97,1585.56 500.96,1585.40 502.95,1585.21 504.94,1584.99 506.93,1584.75 508.91,1584.50 510.90,1584.26 512.88,1584.00 514.87,1583.74 516.85,1583.45 518.82,1583.15 520.80,1582.84 522.78,1582.54 524.76,1582.22 526.73,1581.90 528.70,1581.56 530.67,1581.21 532.64,1580.85 534.61,1580.49 536.58,1580.13 538.55,1579.77 540.51,1579.41 542.48,1579.04 544.45,1578.68 546.42,1578.32 548.39,1577.96 550.35,1577.60 552.32,1577.24 554.29,1576.89 556.26,1576.54 558.23,1576.19 560.21,1575.85 562.18,1575.51 564.15,1575.19 566.13,1574.91 568.12,1574.66 570.11,1574.43 572.09,1574.21 574.08,1573.98 576.07,1573.77 578.06,1573.57 580.06,1573.38 582.05,1573.20 584.04,1573.02 586.03,1572.85 588.03,1572.68 590.02,1572.51 592.02,1572.34 594.01,1572.18 596.01,1572.02 598.00,1571.86 600.00,1571.70 601.99,1571.54 603.98,1571.38 605.98,1571.22 607.97,1571.06 609.97,1570.90 611.96,1570.75 613.96,1570.60 615.96,1570.48 617.96,1570.39 619.95,1570.30 621.95,1570.22 623.95,1570.14 625.95,1570.06 627.95,1569.98 629.95,1569.90 631.95,1569.82 633.95,1569.74 635.95,1569.66 637.95,1569.59 639.95,1569.53 641.95,1569.48 643.95,1569.44 645.95,1569.41 647.95,1569.38 649.95,1569.35 651.95,1569.32 653.96,1569.29 655.96,1569.26 657.96,1569.23 659.96,1569.20 661.96,1569.17 663.96,1569.14 665.96,1569.11 667.96,1569.08 669.96,1569.05 671.96,1569.02 673.96,1568.98 675.97,1568.95 677.97,1568.92 679.97,1568.89 681.97,1568.86 683.97,1568.83 685.97,1568.80 687.97,1568.77 689.97,1568.74 691.97,1568.71 693.97,1568.68 695.97,1568.65 697.98,1568.62 699.98,1568.59 701.98,1568.56 703.98,1568.53 705.98,1568.50 707.98,1568.47 709.98,1568.44 711.98,1568.41 713.98,1568.37 715.98,1568.34 717.98,1568.30 719.98,1568.26 721.99,1568.22 723.99,1568.19 725.99,1568.15 727.99,1568.11 729.99,1568.08 731.99,1568.04 733.99,1568.00 735.99,1567.96 737.99,1567.93 739.99,1567.89 741.99,1567.85 743.99,1567.82 745.99,1567.78 748.00,1567.74 750.00,1567.70 752.00,1567.67 754.00,1567.63 756.00,1567.59 758.00,1567.56 760.00,1567.52 761.00,1567.50" fill="none" stroke="#ff0000" stroke-width="5" stroke-linejoin="round" clip-path="url(#c5)"/>
<text transform="translate(130.00,1416.90) scale(1.000,1.085)" x="0" y="0" font-size="49">F</text>
<text transform="translate(31.60,1497.20) rotate(-90) scale(1,1.06)" x="0" y="0" font-size="29.5" text-anchor="middle">atm Δ<tspan dy="-16.8" font-size="20.5">14</tspan><tspan dy="16.8">C [</tspan><tspan dy="-16.8" font-size="20.5">o</tspan><tspan dy="16.8">/</tspan><tspan dy="6" font-size="20.5">oo</tspan><tspan dy="-6">]</tspan></text>
<path d="M133.97,1889.40v-2.30M133.97,1645.10v2.30M142.45,1889.40v-2.30M142.45,1645.10v2.30M150.92,1889.40v-2.30M150.92,1645.10v2.30M159.39,1889.40v-2.30M159.39,1645.10v2.30M167.87,1889.40v-5.00M167.87,1645.10v5.00M176.34,1889.40v-2.30M176.34,1645.10v2.30M184.81,1889.40v-2.30M184.81,1645.10v2.30M193.29,1889.40v-2.30M193.29,1645.10v2.30M201.76,1889.40v-2.30M201.76,1645.10v2.30M210.23,1889.40v-2.30M210.23,1645.10v2.30M218.71,1889.40v-2.30M218.71,1645.10v2.30M227.18,1889.40v-2.30M227.18,1645.10v2.30M235.65,1889.40v-2.30M235.65,1645.10v2.30M244.13,1889.40v-2.30M244.13,1645.10v2.30M252.60,1889.40v-5.00M252.60,1645.10v5.00M261.07,1889.40v-2.30M261.07,1645.10v2.30M269.55,1889.40v-2.30M269.55,1645.10v2.30M278.02,1889.40v-2.30M278.02,1645.10v2.30M286.49,1889.40v-2.30M286.49,1645.10v2.30M294.97,1889.40v-2.30M294.97,1645.10v2.30M303.44,1889.40v-2.30M303.44,1645.10v2.30M311.91,1889.40v-2.30M311.91,1645.10v2.30M320.39,1889.40v-2.30M320.39,1645.10v2.30M328.86,1889.40v-2.30M328.86,1645.10v2.30M337.33,1889.40v-5.00M337.33,1645.10v5.00M345.81,1889.40v-2.30M345.81,1645.10v2.30M354.28,1889.40v-2.30M354.28,1645.10v2.30M362.75,1889.40v-2.30M362.75,1645.10v2.30M371.23,1889.40v-2.30M371.23,1645.10v2.30M379.70,1889.40v-2.30M379.70,1645.10v2.30M388.17,1889.40v-2.30M388.17,1645.10v2.30M396.65,1889.40v-2.30M396.65,1645.10v2.30M405.12,1889.40v-2.30M405.12,1645.10v2.30M413.59,1889.40v-2.30M413.59,1645.10v2.30M422.07,1889.40v-5.00M422.07,1645.10v5.00M430.54,1889.40v-2.30M430.54,1645.10v2.30M439.01,1889.40v-2.30M439.01,1645.10v2.30M447.49,1889.40v-2.30M447.49,1645.10v2.30M455.96,1889.40v-2.30M455.96,1645.10v2.30M464.43,1889.40v-2.30M464.43,1645.10v2.30M472.91,1889.40v-2.30M472.91,1645.10v2.30M481.38,1889.40v-2.30M481.38,1645.10v2.30M489.85,1889.40v-2.30M489.85,1645.10v2.30M498.33,1889.40v-2.30M498.33,1645.10v2.30M506.80,1889.40v-5.00M506.80,1645.10v5.00M515.27,1889.40v-2.30M515.27,1645.10v2.30M523.75,1889.40v-2.30M523.75,1645.10v2.30M532.22,1889.40v-2.30M532.22,1645.10v2.30M540.69,1889.40v-2.30M540.69,1645.10v2.30M549.17,1889.40v-2.30M549.17,1645.10v2.30M557.64,1889.40v-2.30M557.64,1645.10v2.30M566.11,1889.40v-2.30M566.11,1645.10v2.30M574.59,1889.40v-2.30M574.59,1645.10v2.30M583.06,1889.40v-2.30M583.06,1645.10v2.30M591.53,1889.40v-5.00M591.53,1645.10v5.00M600.01,1889.40v-2.30M600.01,1645.10v2.30M608.48,1889.40v-2.30M608.48,1645.10v2.30M616.95,1889.40v-2.30M616.95,1645.10v2.30M625.43,1889.40v-2.30M625.43,1645.10v2.30M633.90,1889.40v-2.30M633.90,1645.10v2.30M642.37,1889.40v-2.30M642.37,1645.10v2.30M650.85,1889.40v-2.30M650.85,1645.10v2.30M659.32,1889.40v-2.30M659.32,1645.10v2.30M667.79,1889.40v-2.30M667.79,1645.10v2.30M676.27,1889.40v-5.00M676.27,1645.10v5.00M684.74,1889.40v-2.30M684.74,1645.10v2.30M693.21,1889.40v-2.30M693.21,1645.10v2.30M701.69,1889.40v-2.30M701.69,1645.10v2.30M710.16,1889.40v-2.30M710.16,1645.10v2.30M718.63,1889.40v-2.30M718.63,1645.10v2.30M727.11,1889.40v-2.30M727.11,1645.10v2.30M735.58,1889.40v-2.30M735.58,1645.10v2.30M744.05,1889.40v-2.30M744.05,1645.10v2.30M752.53,1889.40v-2.30M752.53,1645.10v2.30M125.50,1663.89h5.00M761.00,1663.89h-5.00M125.50,1682.68h2.30M761.00,1682.68h-2.30M125.50,1701.48h5.00M761.00,1701.48h-5.00M125.50,1720.27h2.30M761.00,1720.27h-2.30M125.50,1739.06h5.00M761.00,1739.06h-5.00M125.50,1757.85h2.30M761.00,1757.85h-2.30M125.50,1776.65h5.00M761.00,1776.65h-5.00M125.50,1795.44h2.30M761.00,1795.44h-2.30M125.50,1814.23h5.00M761.00,1814.23h-5.00M125.50,1833.02h2.30M761.00,1833.02h-2.30M125.50,1851.82h5.00M761.00,1851.82h-5.00M125.50,1870.61h2.30M761.00,1870.61h-2.30" stroke="#000" stroke-width="1" fill="none"/>

<path d="M125.00,1645.10H761.00 M125.50,1645.10V1889.40 M125.00,1889.40H761.00" stroke="#000" stroke-width="1.1" fill="none"/>
<path d="M761.00,1644.60V1889.90" stroke="#6a6a6a" stroke-width="1.5" fill="none"/>
<text x="111.40" y="1653.30" font-size="24" text-anchor="end">8.6</text>
<text x="111.40" y="1690.88" font-size="24" text-anchor="end">8.4</text>
<text x="111.40" y="1728.47" font-size="24" text-anchor="end">8.2</text>
<text x="111.40" y="1766.05" font-size="24" text-anchor="end">8.0</text>
<text x="111.40" y="1803.64" font-size="24" text-anchor="end">7.8</text>
<text x="111.40" y="1841.22" font-size="24" text-anchor="end">7.6</text>
<text x="111.40" y="1878.81" font-size="24" text-anchor="end">7.4</text>
<polyline points="368.00,1768.00 369.60,1769.20 371.21,1770.40 372.81,1771.61 374.41,1772.81 376.02,1774.01 377.64,1775.19 379.27,1776.33 380.95,1777.42 382.66,1778.46 384.40,1779.45 386.16,1780.41 387.93,1781.33 389.73,1782.21 391.55,1783.04 393.38,1783.87 395.20,1784.70 397.01,1785.55 398.82,1786.42 400.61,1787.32 402.38,1788.25 404.14,1789.21 405.87,1790.21 407.58,1791.24 409.30,1792.28 411.03,1793.28 412.80,1794.22 414.59,1795.09 416.42,1795.92 418.25,1796.72 420.10,1797.50 421.95,1798.26 423.81,1799.02 425.67,1799.76 427.53,1800.50 429.40,1801.22 431.28,1801.92 433.16,1802.60 435.05,1803.26 436.95,1803.90 438.86,1804.49 440.79,1805.01 442.74,1805.45 444.70,1805.83 446.67,1806.18 448.65,1806.49 450.63,1806.76 452.62,1806.98 454.62,1807.16 456.61,1807.31 458.61,1807.42 460.61,1807.48 462.61,1807.49 464.61,1807.45 466.62,1807.40 468.62,1807.34 470.62,1807.28 472.62,1807.22 474.63,1807.16 476.63,1807.10 478.63,1807.04 480.64,1806.99 482.64,1806.94 484.64,1806.88 486.65,1806.83 488.65,1806.78 490.65,1806.73 492.65,1806.68 494.66,1806.63 496.66,1806.58 498.66,1806.53 500.67,1806.48 502.67,1806.43 504.67,1806.38 506.68,1806.33 508.68,1806.28 510.68,1806.23 512.69,1806.18 514.69,1806.13 516.69,1806.08 518.69,1806.03 520.70,1805.97 522.70,1805.90 524.70,1805.83 526.70,1805.77 528.71,1805.70 530.71,1805.63 532.71,1805.56 534.71,1805.49 536.72,1805.41 538.72,1805.34 540.72,1805.27 542.72,1805.20 544.73,1805.13 546.73,1805.06 548.73,1804.99 550.73,1804.92 552.74,1804.85 554.74,1804.78 556.74,1804.71 558.74,1804.62 560.74,1804.53 562.74,1804.41 564.74,1804.29 566.74,1804.16 568.74,1804.03 570.74,1803.90 572.74,1803.77 574.74,1803.64 576.74,1803.51 578.74,1803.38 580.74,1803.25 582.74,1803.12 584.74,1802.99 586.74,1802.86 588.74,1802.73 590.74,1802.60 592.74,1802.47 594.74,1802.34 596.74,1802.22 598.74,1802.11 600.74,1802.02 602.74,1801.95 604.74,1801.89 606.74,1801.84 608.75,1801.79 610.75,1801.75 612.75,1801.70 614.76,1801.65 616.76,1801.61 618.76,1801.56 620.77,1801.51 622.77,1801.46 624.77,1801.42 626.78,1801.37 628.78,1801.32 630.78,1801.28 632.79,1801.23 634.79,1801.18 636.79,1801.13 638.79,1801.09 640.80,1801.04 642.80,1800.99 644.80,1800.95 646.81,1800.90 648.81,1800.85 650.81,1800.80 652.82,1800.76 654.82,1800.71 656.82,1800.66 658.83,1800.62 660.83,1800.57 662.83,1800.52 664.84,1800.47 666.84,1800.43 668.84,1800.38 670.84,1800.33 672.85,1800.29 674.85,1800.24 676.85,1800.19 678.86,1800.14 680.86,1800.10 682.86,1800.05 684.87,1800.01 686.87,1799.98 688.87,1799.95 690.88,1799.92 692.88,1799.90 694.88,1799.87 696.89,1799.84 698.89,1799.82 700.89,1799.79 702.90,1799.76 704.90,1799.74 706.91,1799.71 708.91,1799.69 710.91,1799.66 712.92,1799.63 714.92,1799.61 716.92,1799.58 718.93,1799.55 720.93,1799.53 722.93,1799.50 724.94,1799.47 726.94,1799.45 728.94,1799.42 730.95,1799.40 732.95,1799.37 734.95,1799.34 736.96,1799.32 738.96,1799.29 740.96,1799.26 742.97,1799.24 744.97,1799.21 746.98,1799.18 748.98,1799.16 750.98,1799.13 752.99,1799.11 754.99,1799.08 756.99,1799.05 759.00,1799.03 761.00,1799.00 761.00,1799.00" fill="none" stroke="#ff00ff" stroke-width="5" stroke-linejoin="round" clip-path="url(#c6)"/>
<polyline points="355.00,1759.00 356.63,1760.16 358.26,1761.32 359.91,1762.45 361.59,1763.53 363.30,1764.55 365.05,1765.51 366.82,1766.44 368.59,1767.38 370.35,1768.33 372.10,1769.30 373.85,1770.25 375.63,1771.18 377.42,1772.06 379.24,1772.89 381.07,1773.70 382.91,1774.48 384.76,1775.24 386.62,1775.96 388.50,1776.67 390.38,1777.33 392.28,1777.95 394.20,1778.50 396.14,1779.00 398.08,1779.45 400.04,1779.83 402.01,1780.14 404.00,1780.38 405.99,1780.59 407.98,1780.78 409.97,1780.94 411.97,1781.08 413.97,1781.19 415.96,1781.29 417.96,1781.39 419.96,1781.47 421.96,1781.54 423.96,1781.60 425.96,1781.65 427.96,1781.70 429.96,1781.75 431.96,1781.80 433.96,1781.85 435.96,1781.89 437.96,1781.93 439.96,1781.95 441.96,1781.95 443.97,1781.93 445.97,1781.90 447.97,1781.87 449.97,1781.83 451.97,1781.80 453.97,1781.77 455.97,1781.73 457.97,1781.70 459.97,1781.67 461.97,1781.63 463.97,1781.60 465.97,1781.56 467.97,1781.52 469.97,1781.47 471.97,1781.40 473.97,1781.32 475.97,1781.23 477.97,1781.15 479.97,1781.06 481.97,1780.97 483.97,1780.88 485.97,1780.79 487.97,1780.70 489.97,1780.61 491.96,1780.52 493.96,1780.43 495.96,1780.35 497.96,1780.26 499.96,1780.17 501.96,1780.08 503.96,1779.99 505.96,1779.90 507.96,1779.81 509.96,1779.72 511.95,1779.64 513.95,1779.55 515.95,1779.47 517.95,1779.40 519.95,1779.33 521.95,1779.25 523.95,1779.18 525.95,1779.11 527.95,1779.04 529.95,1778.97 531.95,1778.90 533.95,1778.83 535.95,1778.76 537.95,1778.69 539.95,1778.62 541.95,1778.55 543.95,1778.48 545.95,1778.41 547.95,1778.34 549.95,1778.27 551.95,1778.20 553.95,1778.13 555.95,1778.05 557.95,1777.98 559.95,1777.91 561.95,1777.84 563.95,1777.77 565.95,1777.70 567.95,1777.63 569.95,1777.56 571.95,1777.49 573.95,1777.42 575.94,1777.35 577.94,1777.28 579.94,1777.21 581.94,1777.14 583.94,1777.07 585.94,1777.00 587.94,1776.93 589.94,1776.85 591.94,1776.78 593.94,1776.71 595.94,1776.64 597.94,1776.58 599.94,1776.52 601.94,1776.47 603.94,1776.42 605.94,1776.38 607.94,1776.34 609.94,1776.30 611.95,1776.26 613.95,1776.22 615.95,1776.18 617.95,1776.14 619.95,1776.10 621.95,1776.06 623.95,1776.02 625.95,1775.98 627.95,1775.94 629.95,1775.90 631.95,1775.86 633.95,1775.82 635.95,1775.78 637.95,1775.74 639.95,1775.70 641.95,1775.66 643.95,1775.62 645.96,1775.58 647.96,1775.54 649.96,1775.50 651.96,1775.46 653.96,1775.42 655.96,1775.38 657.96,1775.34 659.96,1775.30 661.96,1775.26 663.96,1775.22 665.96,1775.18 667.96,1775.14 669.96,1775.10 671.96,1775.06 673.96,1775.02 675.96,1774.98 677.96,1774.94 679.97,1774.90 681.97,1774.86 683.97,1774.83 685.97,1774.80 687.97,1774.77 689.97,1774.75 691.97,1774.73 693.97,1774.71 695.97,1774.68 697.97,1774.66 699.97,1774.64 701.97,1774.62 703.98,1774.60 705.98,1774.58 707.98,1774.56 709.98,1774.54 711.98,1774.52 713.98,1774.49 715.98,1774.47 717.98,1774.45 719.98,1774.43 721.98,1774.41 723.98,1774.39 725.98,1774.37 727.99,1774.35 729.99,1774.33 731.99,1774.31 733.99,1774.28 735.99,1774.26 737.99,1774.24 739.99,1774.22 741.99,1774.20 743.99,1774.18 745.99,1774.16 747.99,1774.14 750.00,1774.12 752.00,1774.09 754.00,1774.07 756.00,1774.05 758.00,1774.03 760.00,1774.01 761.00,1774.00" fill="none" stroke="#000080" stroke-width="5" stroke-linejoin="round" clip-path="url(#c6)"/>
<polyline points="346.00,1755.00 347.93,1755.51 349.85,1756.05 351.74,1756.68 353.59,1757.42 355.41,1758.23 357.22,1759.08 359.04,1759.89 360.89,1760.64 362.77,1761.32 364.67,1761.93 366.59,1762.49 368.53,1762.98 370.48,1763.42 372.44,1763.80 374.41,1764.13 376.39,1764.40 378.38,1764.60 380.37,1764.75 382.37,1764.84 384.37,1764.88 386.37,1764.87 388.37,1764.82 390.37,1764.73 392.36,1764.62 394.36,1764.47 396.35,1764.31 398.35,1764.14 400.34,1763.95 402.33,1763.76 404.33,1763.57 406.32,1763.37 408.31,1763.17 410.30,1762.97 412.29,1762.77 414.28,1762.57 416.28,1762.37 418.27,1762.17 420.26,1761.97 422.25,1761.77 424.24,1761.57 426.23,1761.37 428.22,1761.14 430.21,1760.89 432.19,1760.61 434.16,1760.30 436.14,1759.98 438.11,1759.65 440.09,1759.32 442.06,1758.99 444.04,1758.66 446.01,1758.34 447.99,1758.01 449.96,1757.69 451.94,1757.36 453.91,1757.04 455.89,1756.72 457.86,1756.39 459.84,1756.07 461.82,1755.75 463.79,1755.43 465.77,1755.10 467.74,1754.78 469.72,1754.47 471.70,1754.17 473.68,1753.89 475.66,1753.63 477.65,1753.38 479.64,1753.14 481.62,1752.91 483.61,1752.67 485.60,1752.43 487.59,1752.19 489.57,1751.95 491.56,1751.71 493.55,1751.47 495.54,1751.24 497.52,1751.00 499.51,1750.76 501.50,1750.52 503.49,1750.28 505.47,1750.04 507.46,1749.80 509.45,1749.57 511.44,1749.33 513.42,1749.09 515.41,1748.86 517.40,1748.64 519.39,1748.42 521.38,1748.19 523.37,1747.97 525.36,1747.75 527.35,1747.53 529.34,1747.31 531.33,1747.09 533.32,1746.87 535.31,1746.65 537.30,1746.43 539.28,1746.21 541.27,1745.99 543.26,1745.77 545.25,1745.55 547.24,1745.33 549.23,1745.11 551.22,1744.89 553.21,1744.68 555.20,1744.46 557.19,1744.26 559.18,1744.06 561.18,1743.87 563.17,1743.69 565.16,1743.51 567.16,1743.34 569.15,1743.16 571.15,1742.98 573.14,1742.80 575.13,1742.62 577.13,1742.45 579.12,1742.27 581.11,1742.09 583.11,1741.91 585.10,1741.73 587.10,1741.55 589.09,1741.38 591.08,1741.20 593.08,1741.02 595.07,1740.84 597.06,1740.67 599.06,1740.51 601.06,1740.36 603.05,1740.23 605.05,1740.10 607.05,1739.99 609.05,1739.87 611.04,1739.75 613.04,1739.63 615.04,1739.52 617.04,1739.40 619.04,1739.28 621.04,1739.16 623.03,1739.05 625.03,1738.93 627.03,1738.81 629.03,1738.69 631.03,1738.57 633.02,1738.46 635.02,1738.34 637.02,1738.22 639.02,1738.11 641.02,1737.99 643.02,1737.88 645.02,1737.77 647.01,1737.67 649.01,1737.56 651.01,1737.46 653.01,1737.36 655.01,1737.25 657.01,1737.15 659.01,1737.05 661.01,1736.94 663.01,1736.84 665.00,1736.74 667.00,1736.63 669.00,1736.53 671.00,1736.42 673.00,1736.32 675.00,1736.22 677.00,1736.11 679.00,1736.01 681.00,1735.91 683.00,1735.81 685.00,1735.72 686.99,1735.63 688.99,1735.55 690.99,1735.47 693.00,1735.39 695.00,1735.31 697.00,1735.23 699.00,1735.16 701.00,1735.08 703.00,1735.00 705.00,1734.92 707.00,1734.85 709.00,1734.77 711.00,1734.69 713.00,1734.61 715.00,1734.54 717.00,1734.46 719.00,1734.38 721.00,1734.30 723.00,1734.23 725.00,1734.15 727.00,1734.07 729.00,1733.99 731.00,1733.91 733.00,1733.84 735.00,1733.76 737.00,1733.68 739.00,1733.60 741.00,1733.53 743.00,1733.45 745.00,1733.37 747.00,1733.29 749.00,1733.22 751.00,1733.14 753.00,1733.06 755.00,1732.98 757.00,1732.91 759.00,1732.83 761.00,1732.75 761.00,1732.75" fill="none" stroke="#8a2be2" stroke-width="5" stroke-linejoin="round" clip-path="url(#c6)"/>
<polyline points="125.50,1724.00 127.50,1724.03 129.50,1724.06 131.51,1724.09 133.51,1724.12 135.51,1724.15 137.51,1724.18 139.51,1724.21 141.51,1724.24 143.52,1724.27 145.52,1724.30 147.52,1724.33 149.52,1724.36 151.52,1724.40 153.53,1724.43 155.53,1724.46 157.53,1724.49 159.53,1724.52 161.53,1724.55 163.53,1724.58 165.54,1724.61 167.54,1724.64 169.54,1724.67 171.54,1724.70 173.54,1724.73 175.55,1724.76 177.55,1724.79 179.55,1724.82 181.55,1724.85 183.55,1724.88 185.56,1724.91 187.56,1724.94 189.56,1724.97 191.56,1725.00 193.56,1725.03 195.56,1725.06 197.57,1725.09 199.57,1725.12 201.57,1725.16 203.57,1725.20 205.57,1725.27 207.57,1725.36 209.57,1725.47 211.57,1725.58 213.57,1725.69 215.57,1725.81 217.57,1725.92 219.56,1726.04 221.56,1726.15 223.56,1726.27 225.56,1726.38 227.56,1726.50 229.56,1726.61 231.56,1726.73 233.56,1726.84 235.55,1726.96 237.55,1727.07 239.55,1727.19 241.55,1727.31 243.55,1727.46 245.54,1727.63 247.53,1727.84 249.52,1728.08 251.50,1728.32 253.49,1728.58 255.48,1728.82 257.46,1729.07 259.45,1729.31 261.44,1729.53 263.43,1729.74 265.42,1729.94 267.42,1730.14 269.41,1730.34 271.40,1730.54 273.39,1730.74 275.38,1730.94 277.37,1731.16 279.36,1731.41 281.34,1731.69 283.31,1732.01 285.29,1732.35 287.26,1732.71 289.23,1733.06 291.20,1733.42 293.17,1733.77 295.14,1734.13 297.10,1734.52 299.05,1734.95 300.98,1735.46 302.89,1736.05 304.78,1736.68 306.68,1737.34 308.57,1738.00 310.45,1738.66 312.34,1739.32 314.23,1739.98 316.12,1740.65 318.00,1741.34 319.87,1742.06 321.72,1742.82 323.55,1743.61 325.38,1744.42 327.21,1745.24 329.04,1746.07 330.86,1746.89 332.69,1747.71 334.51,1748.53 336.33,1749.36 338.14,1750.21 339.93,1751.11 341.70,1752.04 343.44,1753.02 345.18,1754.02 346.91,1755.03 348.63,1756.05 350.34,1757.09 352.02,1758.18 353.66,1759.31 355.28,1760.48 356.89,1761.67 358.49,1762.87 360.09,1764.08 361.68,1765.29 363.25,1766.54 364.79,1767.82 366.29,1769.13 367.78,1770.47 369.26,1771.82 370.73,1773.17 372.21,1774.53 373.68,1775.89 375.14,1777.25 376.59,1778.64 378.02,1780.04 379.44,1781.44 380.86,1782.86 382.27,1784.27 383.69,1785.69 385.11,1787.10 386.53,1788.51 387.97,1789.90 389.42,1791.28 390.89,1792.64 392.36,1794.00 393.84,1795.35 395.31,1796.70 396.79,1798.06 398.27,1799.41 399.75,1800.76 401.23,1802.10 402.72,1803.44 404.20,1804.78 405.69,1806.12 407.18,1807.46 408.67,1808.80 410.16,1810.14 411.64,1811.48 413.13,1812.82 414.62,1814.16 416.11,1815.50 417.60,1816.83 419.10,1818.15 420.62,1819.46 422.15,1820.75 423.69,1822.03 425.24,1823.30 426.79,1824.56 428.34,1825.83 429.90,1827.08 431.47,1828.33 433.04,1829.57 434.62,1830.80 436.20,1832.03 437.78,1833.26 439.37,1834.47 440.98,1835.67 442.59,1836.85 444.21,1838.03 445.84,1839.20 447.46,1840.37 449.09,1841.52 450.73,1842.67 452.38,1843.81 454.03,1844.94 455.69,1846.07 457.35,1847.19 459.01,1848.30 460.69,1849.40 462.37,1850.48 464.06,1851.55 465.75,1852.62 467.45,1853.68 469.16,1854.73 470.87,1855.76 472.60,1856.77 474.34,1857.77 476.08,1858.75 477.83,1859.71 479.61,1860.63 481.42,1861.48 483.25,1862.27 485.10,1863.03 486.96,1863.77 488.84,1864.47 490.72,1865.14 492.62,1865.76 494.54,1866.35 496.45,1866.92 498.38,1867.48 500.31,1868.00 502.25,1868.49 504.19,1868.96 506.15,1869.41 508.10,1869.84 510.06,1870.24 512.03,1870.62 514.00,1870.97 515.97,1871.30 517.95,1871.60 519.93,1871.85 521.92,1872.04 523.92,1872.18 525.91,1872.29 527.91,1872.40 529.91,1872.50 531.91,1872.60 533.91,1872.69 535.91,1872.79 537.91,1872.86 539.91,1872.89 541.91,1872.88 543.91,1872.83 545.91,1872.76 547.91,1872.68 549.91,1872.60 551.91,1872.52 553.91,1872.44 555.91,1872.36 557.91,1872.27 559.91,1872.17 561.91,1872.06 563.91,1871.94 565.91,1871.82 567.91,1871.69 569.90,1871.56 571.90,1871.43 573.90,1871.30 575.90,1871.17 577.90,1871.04 579.89,1870.91 581.89,1870.78 583.89,1870.65 585.89,1870.52 587.88,1870.39 589.88,1870.26 591.88,1870.13 593.88,1870.00 595.88,1869.87 597.87,1869.75 599.87,1869.65 601.87,1869.56 603.87,1869.49 605.88,1869.42 607.88,1869.36 609.88,1869.30 611.88,1869.24 613.88,1869.18 615.88,1869.11 617.88,1869.05 619.88,1868.99 621.88,1868.93 623.89,1868.87 625.89,1868.81 627.89,1868.75 629.89,1868.69 631.89,1868.62 633.89,1868.56 635.89,1868.50 637.89,1868.44 639.89,1868.38 641.90,1868.33 643.90,1868.28 645.90,1868.24 647.90,1868.20 649.90,1868.16 651.90,1868.12 653.91,1868.09 655.91,1868.05 657.91,1868.01 659.91,1867.97 661.91,1867.93 663.91,1867.90 665.92,1867.86 667.92,1867.82 669.92,1867.78 671.92,1867.75 673.92,1867.71 675.92,1867.67 677.93,1867.63 679.93,1867.60 681.93,1867.56 683.93,1867.52 685.93,1867.49 687.94,1867.45 689.94,1867.42 691.94,1867.38 693.94,1867.35 695.94,1867.31 697.94,1867.28 699.95,1867.24 701.95,1867.21 703.95,1867.18 705.95,1867.14 707.95,1867.11 709.95,1867.07 711.96,1867.04 713.96,1867.00 715.96,1866.97 717.96,1866.94 719.96,1866.90 721.97,1866.87 723.97,1866.83 725.97,1866.80 727.97,1866.76 729.97,1866.73 731.97,1866.70 733.98,1866.66 735.98,1866.63 737.98,1866.59 739.98,1866.56 741.98,1866.53 743.98,1866.49 745.99,1866.46 747.99,1866.42 749.99,1866.39 751.99,1866.35 753.99,1866.32 756.00,1866.29 758.00,1866.25 760.00,1866.22 761.00,1866.20" fill="none" stroke="#ff0000" stroke-width="5" stroke-linejoin="round" clip-path="url(#c6)"/>
<text transform="translate(131.00,1701.00) scale(1.000,1.085)" x="0" y="0" font-size="49">G</text>
<text transform="translate(50.00,1764.80) rotate(-90) scale(1,1.06)" x="0" y="0" font-size="29.5" text-anchor="middle">pH surface ocean [-]</text>
<text transform="translate(443.25,1952.70) scale(1,1.060)" x="0" y="0" font-size="29.5" text-anchor="middle">Time [yr CE]</text>
<text x="167.87" y="1921.30" font-size="24" text-anchor="middle">1800</text>
<text x="252.60" y="1921.30" font-size="24" text-anchor="middle">1900</text>
<text x="337.33" y="1921.30" font-size="24" text-anchor="middle">2000</text>
<text x="422.07" y="1921.30" font-size="24" text-anchor="middle">2100</text>
<text x="506.80" y="1921.30" font-size="24" text-anchor="middle">2200</text>
<text x="591.53" y="1921.30" font-size="24" text-anchor="middle">2300</text>
<text x="676.27" y="1921.30" font-size="24" text-anchor="middle">2400</text>
<text x="761.00" y="1921.30" font-size="24" text-anchor="middle">2500</text></svg>
</body></html>
